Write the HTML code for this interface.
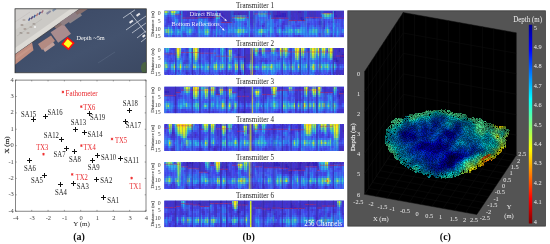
<!DOCTYPE html>
<html><head><meta charset="utf-8"><style>
html,body{margin:0;padding:0;background:#fff;width:550px;height:244px;overflow:hidden}
svg{display:block}
.ov{position:absolute;left:0;top:0}
.sp{position:absolute;width:179.7px;height:26.6px;overflow:hidden;filter:blur(0.3px)}
.cl{position:absolute;left:0;top:0;width:550px;height:244px;filter:blur(0.45px)}
.cl i{position:absolute;left:-1px;top:-1px;width:1px;height:1px;display:block}
.sp i{position:absolute;left:-1.5px;top:-2px;width:1px;height:1px;transform-origin:0 0;transform:scale(1.5,2);display:block}
</style></head><body>
<svg width="550" height="244" viewBox="0 0 550 244" font-family="'Liberation Serif', serif">
<rect width="550" height="244" fill="#fff"/>
<defs><clipPath id="phc"><rect x="15" y="8.8" width="131.3" height="64"/></clipPath><linearGradient id="wat" x1="0" y1="0" x2="1" y2="1"><stop offset="0" stop-color="#3a4763"/><stop offset="0.6" stop-color="#43526e"/><stop offset="1" stop-color="#3b4862"/></linearGradient></defs>
<g clip-path="url(#phc)">
<rect x="15" y="8.8" width="131.3" height="64" fill="url(#wat)"/>
<polygon points="15,8.8 80.1,8.8 15,54.6" fill="#cbc9c5"/>
<polygon points="15,8.8 50,8.8 15,30" fill="#d3d2cf" opacity="0.8"/>
<ellipse cx="22" cy="25" rx="1.6" ry="1.1" fill="#9a8f88" opacity="0.8"/>
<ellipse cx="25" cy="29" rx="1.6" ry="1.1" fill="#a0948c" opacity="0.8"/>
<ellipse cx="21" cy="33" rx="1.6" ry="1.1" fill="#8f8680" opacity="0.8"/>
<ellipse cx="28" cy="33" rx="1.6" ry="1.1" fill="#a69a92" opacity="0.8"/>
<ellipse cx="31" cy="27" rx="1.6" ry="1.1" fill="#b0a59e" opacity="0.8"/>
<ellipse cx="34" cy="24" rx="1.6" ry="1.1" fill="#998f8a" opacity="0.8"/>
<ellipse cx="24" cy="20" rx="1.6" ry="1.1" fill="#aaa19b" opacity="0.8"/>
<path d="M17 36L42 19" stroke="#b5b3ae" stroke-width="0.6"/>
<path d="M15 22L30 12" stroke="#bdbbb6" stroke-width="0.5"/>
<polygon points="15,53.6 78.7,8.8 70.8,8.8 15,48.1" fill="#dcdad5"/>
<path d="M15 54.6L80.1 8.8" stroke="#3c3c40" stroke-width="0.8"/>
<polygon points="54.2,27 80.1,8.8 88.1,8.8 57.2,29.5" fill="#87706e"/>
<polygon points="68,21 80,13 82,15.5 70,23.5" fill="#8c8488"/>
<polygon points="15,54.6 32,42.6 33.5,50.3 15,64.8" fill="#c08e80"/>
<polygon points="15,57.6 31,46.3 31.5,48.3 15,60.6" fill="#cc9d8e" opacity="0.6"/>
<polygon points="50.6,32.2 63.5,23.9 71,33.8 58.2,42.8" fill="#a98c8e"/>
<polygon points="38,44 51,35.5 55,41 42,50" fill="#b48b82"/>
<polygon points="43,49 53,42 55,45 45,52" fill="#c0a09a"/>
<polygon points="60,22 75,12 78,16 63,26" fill="#8f7f84"/>
<rect x="29.5" y="17.5" width="1.5" height="3.2" fill="#46578c" transform="rotate(30 29.5 17.5)"/>
<rect x="32.1" y="16.0" width="1.5" height="3.2" fill="#5a4a78" transform="rotate(30 32.1 16.0)"/>
<rect x="34.7" y="14.5" width="1.5" height="3.2" fill="#3d5a95" transform="rotate(30 34.7 14.5)"/>
<rect x="37.3" y="13.0" width="1.5" height="3.2" fill="#b07a7a" transform="rotate(30 37.3 13.0)"/>
<rect x="39.9" y="11.5" width="1.5" height="3.2" fill="#44558a" transform="rotate(30 39.9 11.5)"/>
<rect x="42.5" y="10.0" width="1.5" height="3.2" fill="#9a6a7a" transform="rotate(30 42.5 10.0)"/>
<rect x="46" y="13" width="5" height="2" fill="#8a8aa0" transform="rotate(-35 46 13)"/>
<rect x="52" y="10" width="4" height="2" fill="#7d8fa8" transform="rotate(-35 52 10)"/>
<circle cx="35" cy="27" r="1" fill="#f4f4f4"/>
<g stroke="#d8dce4" stroke-width="0.8" fill="none" opacity="0.9"><path d="M123 18L135 9.8M130.3 13.1L146 32.8M126 30L146 16M132 33L146 23M137 38L146 31M141 42L146 38"/></g>
<rect x="129" y="22" width="4" height="2" fill="#e8e8ec" transform="rotate(-35 129 22)"/>
<rect x="136" y="15" width="4" height="2" fill="#e8e8ec" transform="rotate(-35 136 15)"/>
<rect x="142" y="36" width="3" height="2" fill="#e8e8ec" transform="rotate(-35 142 36)"/>
<ellipse cx="145" cy="68" rx="4" ry="6" fill="#4d6a3c" opacity="0.8"/>
<path d="M98 63L115 52" stroke="#6a7892" stroke-width="0.6" opacity="0.6"/>
</g>
<rect x="15" y="8.8" width="131.3" height="64" fill="none" stroke="#1e1e1e" stroke-width="0.7"/>
<rect x="-4" y="-4" width="8" height="8" fill="#ffff1e" stroke="#ff0d0d" stroke-width="1.6" transform="translate(68 43.6) rotate(40)"/>
<rect x="15.4" y="80.1" width="130.6" height="131.1" fill="none" stroke="#5e5e5e" stroke-width="0.75"/>
<text x="13.8" y="212.7" font-size="6.5" text-anchor="end" fill="#444" stroke="#444" stroke-width="0" >-4</text>
<text x="15.8" y="219.9" font-size="6.5" text-anchor="middle" fill="#444" stroke="#444" stroke-width="0" >-4</text>
<text x="13.8" y="196.3" font-size="6.5" text-anchor="end" fill="#444" stroke="#444" stroke-width="0" >-3</text>
<text x="32.1" y="219.9" font-size="6.5" text-anchor="middle" fill="#444" stroke="#444" stroke-width="0" >-3</text>
<text x="13.8" y="179.9" font-size="6.5" text-anchor="end" fill="#444" stroke="#444" stroke-width="0" >-2</text>
<text x="48.4" y="219.9" font-size="6.5" text-anchor="middle" fill="#444" stroke="#444" stroke-width="0" >-2</text>
<text x="13.8" y="163.5" font-size="6.5" text-anchor="end" fill="#444" stroke="#444" stroke-width="0" >-1</text>
<text x="64.8" y="219.9" font-size="6.5" text-anchor="middle" fill="#444" stroke="#444" stroke-width="0" >-1</text>
<text x="13.8" y="147.1" font-size="6.5" text-anchor="end" fill="#444" stroke="#444" stroke-width="0" >0</text>
<text x="81.1" y="219.9" font-size="6.5" text-anchor="middle" fill="#444" stroke="#444" stroke-width="0" >0</text>
<text x="13.8" y="130.8" font-size="6.5" text-anchor="end" fill="#444" stroke="#444" stroke-width="0" >1</text>
<text x="97.4" y="219.9" font-size="6.5" text-anchor="middle" fill="#444" stroke="#444" stroke-width="0" >1</text>
<text x="13.8" y="114.4" font-size="6.5" text-anchor="end" fill="#444" stroke="#444" stroke-width="0" >2</text>
<text x="113.8" y="219.9" font-size="6.5" text-anchor="middle" fill="#444" stroke="#444" stroke-width="0" >2</text>
<text x="13.8" y="98.0" font-size="6.5" text-anchor="end" fill="#444" stroke="#444" stroke-width="0" >3</text>
<text x="130.1" y="219.9" font-size="6.5" text-anchor="middle" fill="#444" stroke="#444" stroke-width="0" >3</text>
<text x="13.8" y="81.6" font-size="6.5" text-anchor="end" fill="#444" stroke="#444" stroke-width="0" >4</text>
<text x="146.4" y="219.9" font-size="6.5" text-anchor="middle" fill="#444" stroke="#444" stroke-width="0" >4</text>
<path d="M15.40 211.2v-1.3M15.40 80.1v1.3M15.4 211.20h1.3M146.0 211.20h-1.3M31.73 211.2v-1.3M31.73 80.1v1.3M15.4 194.81h1.3M146.0 194.81h-1.3M48.05 211.2v-1.3M48.05 80.1v1.3M15.4 178.42h1.3M146.0 178.42h-1.3M64.38 211.2v-1.3M64.38 80.1v1.3M15.4 162.04h1.3M146.0 162.04h-1.3M80.70 211.2v-1.3M80.70 80.1v1.3M15.4 145.65h1.3M146.0 145.65h-1.3M97.03 211.2v-1.3M97.03 80.1v1.3M15.4 129.26h1.3M146.0 129.26h-1.3M113.35 211.2v-1.3M113.35 80.1v1.3M15.4 112.88h1.3M146.0 112.88h-1.3M129.67 211.2v-1.3M129.67 80.1v1.3M15.4 96.49h1.3M146.0 96.49h-1.3M146.00 211.2v-1.3M146.00 80.1v1.3M15.4 80.10h1.3M146.0 80.10h-1.3" stroke="#5e5e5e" stroke-width="0.6" fill="none"/>
<text x="81.5" y="225.5" font-size="7" text-anchor="middle" fill="#222" stroke="#222" stroke-width="0" >Y (m)</text>
<text transform="translate(9,145) rotate(-90)" font-size="7" text-anchor="middle" fill="#222" stroke="#222" stroke-width="0.18">X (m)</text>
<text x="79.0" y="239.5" font-size="10" text-anchor="middle" fill="#111" stroke="#111" stroke-width="0" font-weight="bold">(a)</text>
<text x="107.2" y="203.0" font-size="7.3" text-anchor="start" fill="#1a1a1a" stroke="#1a1a1a" stroke-width="0" textLength="12.0" lengthAdjust="spacingAndGlyphs">SA1</text>
<text x="100.3" y="183.4" font-size="7.3" text-anchor="start" fill="#1a1a1a" stroke="#1a1a1a" stroke-width="0" textLength="12.0" lengthAdjust="spacingAndGlyphs">SA2</text>
<text x="76.8" y="188.5" font-size="7.3" text-anchor="start" fill="#1a1a1a" stroke="#1a1a1a" stroke-width="0" textLength="12.0" lengthAdjust="spacingAndGlyphs">SA3</text>
<text x="61.0" y="194.5" font-size="7.3" text-anchor="middle" fill="#1a1a1a" stroke="#1a1a1a" stroke-width="0" textLength="12.0" lengthAdjust="spacingAndGlyphs">SA4</text>
<text x="37.0" y="182.5" font-size="7.3" text-anchor="middle" fill="#1a1a1a" stroke="#1a1a1a" stroke-width="0" textLength="12.0" lengthAdjust="spacingAndGlyphs">SA5</text>
<text x="30.0" y="171.2" font-size="7.3" text-anchor="middle" fill="#1a1a1a" stroke="#1a1a1a" stroke-width="0" textLength="12.0" lengthAdjust="spacingAndGlyphs">SA6</text>
<text x="59.6" y="156.5" font-size="7.3" text-anchor="middle" fill="#1a1a1a" stroke="#1a1a1a" stroke-width="0" textLength="12.0" lengthAdjust="spacingAndGlyphs">SA7</text>
<text x="75.0" y="161.8" font-size="7.3" text-anchor="middle" fill="#1a1a1a" stroke="#1a1a1a" stroke-width="0" textLength="12.0" lengthAdjust="spacingAndGlyphs">SA8</text>
<text x="93.7" y="170.2" font-size="7.3" text-anchor="middle" fill="#1a1a1a" stroke="#1a1a1a" stroke-width="0" textLength="12.0" lengthAdjust="spacingAndGlyphs">SA9</text>
<text x="100.9" y="159.8" font-size="7.3" text-anchor="start" fill="#1a1a1a" stroke="#1a1a1a" stroke-width="0" textLength="15.2" lengthAdjust="spacingAndGlyphs">SA10</text>
<text x="123.9" y="162.5" font-size="7.3" text-anchor="start" fill="#1a1a1a" stroke="#1a1a1a" stroke-width="0" textLength="15.2" lengthAdjust="spacingAndGlyphs">SA11</text>
<text x="51.3" y="138.2" font-size="7.3" text-anchor="middle" fill="#1a1a1a" stroke="#1a1a1a" stroke-width="0" textLength="15.2" lengthAdjust="spacingAndGlyphs">SA12</text>
<text x="78.4" y="125.1" font-size="7.3" text-anchor="middle" fill="#1a1a1a" stroke="#1a1a1a" stroke-width="0" textLength="15.2" lengthAdjust="spacingAndGlyphs">SA13</text>
<text x="87.5" y="137.3" font-size="7.3" text-anchor="start" fill="#1a1a1a" stroke="#1a1a1a" stroke-width="0" textLength="15.2" lengthAdjust="spacingAndGlyphs">SA14</text>
<text x="28.6" y="116.9" font-size="7.3" text-anchor="middle" fill="#1a1a1a" stroke="#1a1a1a" stroke-width="0" textLength="15.2" lengthAdjust="spacingAndGlyphs">SA15</text>
<text x="47.5" y="114.8" font-size="7.3" text-anchor="start" fill="#1a1a1a" stroke="#1a1a1a" stroke-width="0" textLength="15.2" lengthAdjust="spacingAndGlyphs">SA16</text>
<text x="125.8" y="128.3" font-size="7.3" text-anchor="start" fill="#1a1a1a" stroke="#1a1a1a" stroke-width="0" textLength="15.2" lengthAdjust="spacingAndGlyphs">SA17</text>
<text x="130.3" y="105.8" font-size="7.3" text-anchor="middle" fill="#1a1a1a" stroke="#1a1a1a" stroke-width="0" textLength="15.2" lengthAdjust="spacingAndGlyphs">SA18</text>
<text x="90.0" y="119.6" font-size="7.3" text-anchor="start" fill="#1a1a1a" stroke="#1a1a1a" stroke-width="0" textLength="15.2" lengthAdjust="spacingAndGlyphs">SA19</text>
<path d="M101.0 197.5h5M103.5 195.0v5M94.0 179.5h5M96.5 177.0v5M71.0 183.5h5M73.5 181.0v5M58.0 184.5h5M60.5 182.0v5M42.0 175.5h5M44.5 173.0v5M27.0 160.5h5M29.5 158.0v5M64.0 148.5h5M66.5 146.0v5M72.0 151.5h5M74.5 149.0v5M90.0 160.5h5M92.5 158.0v5M95.0 155.5h5M97.5 153.0v5M118.0 158.5h5M120.5 156.0v5M59.0 139.5h5M61.5 137.0v5M73.0 129.5h5M75.5 127.0v5M82.0 132.5h5M84.5 130.0v5M31.0 119.5h5M33.5 117.0v5M43.0 116.5h5M45.5 114.0v5M123.0 121.5h5M125.5 119.0v5M127.0 110.5h5M129.5 108.0v5M87.0 113.5h5M89.5 111.0v5" stroke="#111" stroke-width="1.0" fill="none"/>
<text x="135.6" y="188.5" font-size="7.3" text-anchor="middle" fill="#e8262b" stroke="#e8262b" stroke-width="0" textLength="12.1" lengthAdjust="spacingAndGlyphs">TX1</text>
<text x="75.7" y="179.5" font-size="7.3" text-anchor="start" fill="#e8262b" stroke="#e8262b" stroke-width="0" textLength="12.1" lengthAdjust="spacingAndGlyphs">TX2</text>
<text x="42.3" y="149.8" font-size="7.3" text-anchor="middle" fill="#e8262b" stroke="#e8262b" stroke-width="0" textLength="12.1" lengthAdjust="spacingAndGlyphs">TX3</text>
<text x="83.6" y="149.8" font-size="7.3" text-anchor="start" fill="#e8262b" stroke="#e8262b" stroke-width="0" textLength="12.1" lengthAdjust="spacingAndGlyphs">TX4</text>
<text x="115.0" y="142.5" font-size="7.3" text-anchor="start" fill="#e8262b" stroke="#e8262b" stroke-width="0" textLength="12.1" lengthAdjust="spacingAndGlyphs">TX5</text>
<text x="83.2" y="109.8" font-size="7.3" text-anchor="start" fill="#e8262b" stroke="#e8262b" stroke-width="0" textLength="12.1" lengthAdjust="spacingAndGlyphs">TX6</text>
<text x="65.6" y="95.6" font-size="7.3" text-anchor="start" fill="#e8262b" stroke="#e8262b" stroke-width="0" textLength="32.1" lengthAdjust="spacingAndGlyphs">Fathometer</text>
<path d="M131.60 176.80L131.60 179.40M132.73 177.45L130.47 178.75M132.73 178.75L130.47 177.45M72.20 173.10L72.20 175.70M73.33 173.75L71.07 175.05M73.33 175.05L71.07 173.75M43.50 152.90L43.50 155.50M44.63 153.55L42.37 154.85M44.63 154.85L42.37 153.55M81.40 144.30L81.40 146.90M82.53 144.95L80.27 146.25M82.53 146.25L80.27 144.95M112.00 137.70L112.00 140.30M113.13 138.35L110.87 139.65M113.13 139.65L110.87 138.35M81.30 105.30L81.30 107.90M82.43 105.95L80.17 107.25M82.43 107.25L80.17 105.95M62.90 90.70L62.90 93.30M64.03 91.35L61.77 92.65M64.03 92.65L61.77 91.35" stroke="#ee2a2a" stroke-width="0.9" fill="none"/>
<text x="76.4" y="40.4" font-size="6.8" text-anchor="start" fill="#f4f4f4" stroke="#f4f4f4" stroke-width="0" textLength="28.3" lengthAdjust="spacingAndGlyphs">Depth ~5m</text>
<rect x="164.3" y="10.6" width="179.7" height="26.6" fill="#2b3fd6"/>
<text x="255.0" y="8.2" font-size="7.4" text-anchor="middle" fill="#1a1a1a" stroke="#1a1a1a" stroke-width="0" textLength="38" lengthAdjust="spacingAndGlyphs">Transmitter 1</text>
<text x="160.6" y="15.0" font-size="5.8" text-anchor="end" fill="#444" stroke="#444" stroke-width="0" >0</text>
<text x="160.6" y="22.5" font-size="5.8" text-anchor="end" fill="#444" stroke="#444" stroke-width="0" >5</text>
<text x="160.6" y="30.5" font-size="5.8" text-anchor="end" fill="#444" stroke="#444" stroke-width="0" >10</text>
<text x="160.6" y="38.1" font-size="5.8" text-anchor="end" fill="#444" stroke="#444" stroke-width="0" >15</text>
<text transform="translate(154.4,23.9) rotate(-90)" font-size="4.95" text-anchor="middle" fill="#444" stroke="#444" stroke-width="0.1">Distance (m)</text>
<rect x="164.3" y="48.0" width="179.7" height="26.6" fill="#2b3fd6"/>
<text x="255.0" y="45.6" font-size="7.4" text-anchor="middle" fill="#1a1a1a" stroke="#1a1a1a" stroke-width="0" textLength="38" lengthAdjust="spacingAndGlyphs">Transmitter 2</text>
<text x="160.6" y="52.4" font-size="5.8" text-anchor="end" fill="#444" stroke="#444" stroke-width="0" >0</text>
<text x="160.6" y="59.9" font-size="5.8" text-anchor="end" fill="#444" stroke="#444" stroke-width="0" >5</text>
<text x="160.6" y="67.9" font-size="5.8" text-anchor="end" fill="#444" stroke="#444" stroke-width="0" >10</text>
<text x="160.6" y="75.5" font-size="5.8" text-anchor="end" fill="#444" stroke="#444" stroke-width="0" >15</text>
<text transform="translate(154.4,61.3) rotate(-90)" font-size="4.95" text-anchor="middle" fill="#444" stroke="#444" stroke-width="0.1">Distance (m)</text>
<rect x="164.3" y="86.6" width="179.7" height="26.6" fill="#2b3fd6"/>
<text x="255.0" y="84.2" font-size="7.4" text-anchor="middle" fill="#1a1a1a" stroke="#1a1a1a" stroke-width="0" textLength="38" lengthAdjust="spacingAndGlyphs">Transmitter 3</text>
<text x="160.6" y="91.0" font-size="5.8" text-anchor="end" fill="#444" stroke="#444" stroke-width="0" >0</text>
<text x="160.6" y="98.5" font-size="5.8" text-anchor="end" fill="#444" stroke="#444" stroke-width="0" >5</text>
<text x="160.6" y="106.5" font-size="5.8" text-anchor="end" fill="#444" stroke="#444" stroke-width="0" >10</text>
<text x="160.6" y="114.1" font-size="5.8" text-anchor="end" fill="#444" stroke="#444" stroke-width="0" >15</text>
<text transform="translate(154.4,99.89999999999999) rotate(-90)" font-size="4.95" text-anchor="middle" fill="#444" stroke="#444" stroke-width="0.1">Distance (m)</text>
<rect x="164.3" y="124.3" width="179.7" height="26.6" fill="#2b3fd6"/>
<text x="255.0" y="121.9" font-size="7.4" text-anchor="middle" fill="#1a1a1a" stroke="#1a1a1a" stroke-width="0" textLength="38" lengthAdjust="spacingAndGlyphs">Transmitter 4</text>
<text x="160.6" y="128.7" font-size="5.8" text-anchor="end" fill="#444" stroke="#444" stroke-width="0" >0</text>
<text x="160.6" y="136.2" font-size="5.8" text-anchor="end" fill="#444" stroke="#444" stroke-width="0" >5</text>
<text x="160.6" y="144.2" font-size="5.8" text-anchor="end" fill="#444" stroke="#444" stroke-width="0" >10</text>
<text x="160.6" y="151.8" font-size="5.8" text-anchor="end" fill="#444" stroke="#444" stroke-width="0" >15</text>
<text transform="translate(154.4,137.6) rotate(-90)" font-size="4.95" text-anchor="middle" fill="#444" stroke="#444" stroke-width="0.1">Distance (m)</text>
<rect x="164.3" y="162.3" width="179.7" height="26.6" fill="#2b3fd6"/>
<text x="255.0" y="159.9" font-size="7.4" text-anchor="middle" fill="#1a1a1a" stroke="#1a1a1a" stroke-width="0" textLength="38" lengthAdjust="spacingAndGlyphs">Transmitter 5</text>
<text x="160.6" y="166.7" font-size="5.8" text-anchor="end" fill="#444" stroke="#444" stroke-width="0" >0</text>
<text x="160.6" y="174.2" font-size="5.8" text-anchor="end" fill="#444" stroke="#444" stroke-width="0" >5</text>
<text x="160.6" y="182.2" font-size="5.8" text-anchor="end" fill="#444" stroke="#444" stroke-width="0" >10</text>
<text x="160.6" y="189.8" font-size="5.8" text-anchor="end" fill="#444" stroke="#444" stroke-width="0" >15</text>
<text transform="translate(154.4,175.60000000000002) rotate(-90)" font-size="4.95" text-anchor="middle" fill="#444" stroke="#444" stroke-width="0.1">Distance (m)</text>
<rect x="164.3" y="200.5" width="179.7" height="26.6" fill="#2b3fd6"/>
<text x="255.0" y="198.1" font-size="7.4" text-anchor="middle" fill="#1a1a1a" stroke="#1a1a1a" stroke-width="0" textLength="38" lengthAdjust="spacingAndGlyphs">Transmitter 6</text>
<text x="160.6" y="204.9" font-size="5.8" text-anchor="end" fill="#444" stroke="#444" stroke-width="0" >0</text>
<text x="160.6" y="212.4" font-size="5.8" text-anchor="end" fill="#444" stroke="#444" stroke-width="0" >5</text>
<text x="160.6" y="220.4" font-size="5.8" text-anchor="end" fill="#444" stroke="#444" stroke-width="0" >10</text>
<text x="160.6" y="228.0" font-size="5.8" text-anchor="end" fill="#444" stroke="#444" stroke-width="0" >15</text>
<text transform="translate(154.4,213.8) rotate(-90)" font-size="4.95" text-anchor="middle" fill="#444" stroke="#444" stroke-width="0.1">Distance (m)</text>
<text x="248.7" y="239.5" font-size="10" text-anchor="middle" fill="#111" stroke="#111" stroke-width="0" font-weight="bold">(b)</text>
<rect x="347.8" y="10.8" width="197.6" height="215.3" fill="#545454" stroke="#3a3a3a" stroke-width="0.8"/>
<polygon points="403.2,12.5 516.3,32.8 516.3,155.3 476.8,214.5 364.6,194.3 364.6,71.5" fill="#000"/>
<path d="M364.6 71.5v122.8M403.2 12.5v122.8M368.5 65.6v122.8M414.5 14.5v122.8M372.3 59.7v122.8M425.8 16.6v122.8M376.2 53.8v122.8M437.1 18.6v122.8M380.0 47.9v122.8M448.4 20.6v122.8M383.9 42.0v122.8M459.7 22.6v122.8M387.8 36.1v122.8M471.1 24.7v122.8M391.6 30.2v122.8M482.4 26.7v122.8M395.5 24.3v122.8M493.7 28.7v122.8M399.3 18.4v122.8M505.0 30.8v122.8M403.2 12.5v122.8M516.3 32.8v122.8M364.6 71.5L403.2 12.5L516.3 32.8M364.6 92.0L403.2 33.0L516.3 53.3M364.6 112.4L403.2 53.4L516.3 73.7M364.6 132.9L403.2 73.9L516.3 94.2M364.6 153.4L403.2 94.4L516.3 114.7M364.6 173.8L403.2 114.8L516.3 135.1M364.6 194.3L403.2 135.3L516.3 155.6M364.6 194.3L476.8 214.5M403.2 135.3L364.6 194.3M368.5 188.4L480.8 208.6M414.5 137.3L375.8 196.3M372.3 182.5L484.7 202.7M425.8 139.3L387.0 198.3M376.2 176.6L488.6 196.7M437.1 141.3L398.3 200.4M380.0 170.7L492.6 190.8M448.4 143.3L409.5 202.4M383.9 164.8L496.5 184.9M459.7 145.3L420.7 204.4M387.8 158.9L500.5 179.0M471.1 147.3L431.9 206.4M391.6 153.0L504.4 173.1M482.4 149.3L443.1 208.4M395.5 147.1L508.4 167.1M493.7 151.3L454.4 210.5M399.3 141.2L512.3 161.2M505.0 153.3L465.6 212.5M403.2 135.3L516.3 155.3M516.3 155.3L476.8 214.5" stroke="#111111" stroke-width="0.5" fill="none"/>
<text x="527.6" y="22.4" font-size="7.3" text-anchor="middle" fill="#f0f0f0" stroke="#f0f0f0" stroke-width="0" textLength="28.7" lengthAdjust="spacingAndGlyphs">Depth (m)</text>
<defs><linearGradient id="cb" x1="0" y1="0" x2="0" y2="1"><stop offset="0" stop-color="#00008f"/><stop offset="0.125" stop-color="#0000ff"/><stop offset="0.375" stop-color="#00ffff"/><stop offset="0.625" stop-color="#ffff00"/><stop offset="0.875" stop-color="#ff0000"/><stop offset="1" stop-color="#800000"/></linearGradient></defs>
<rect x="528.8" y="24.7" width="3.4" height="198.8" fill="url(#cb)"/>
<text x="533.8" y="29.6" font-size="6.3" text-anchor="start" fill="#eee" stroke="#eee" stroke-width="0" >5</text>
<text x="533.8" y="49.0" font-size="6.3" text-anchor="start" fill="#eee" stroke="#eee" stroke-width="0" >4.9</text>
<text x="533.8" y="68.4" font-size="6.3" text-anchor="start" fill="#eee" stroke="#eee" stroke-width="0" >4.8</text>
<text x="533.8" y="87.8" font-size="6.3" text-anchor="start" fill="#eee" stroke="#eee" stroke-width="0" >4.7</text>
<text x="533.8" y="107.2" font-size="6.3" text-anchor="start" fill="#eee" stroke="#eee" stroke-width="0" >4.6</text>
<text x="533.8" y="126.6" font-size="6.3" text-anchor="start" fill="#eee" stroke="#eee" stroke-width="0" >4.5</text>
<text x="533.8" y="146.0" font-size="6.3" text-anchor="start" fill="#eee" stroke="#eee" stroke-width="0" >4.4</text>
<text x="533.8" y="165.4" font-size="6.3" text-anchor="start" fill="#eee" stroke="#eee" stroke-width="0" >4.3</text>
<text x="533.8" y="184.8" font-size="6.3" text-anchor="start" fill="#eee" stroke="#eee" stroke-width="0" >4.2</text>
<text x="533.8" y="204.2" font-size="6.3" text-anchor="start" fill="#eee" stroke="#eee" stroke-width="0" >4.1</text>
<text x="533.8" y="223.6" font-size="6.3" text-anchor="start" fill="#eee" stroke="#eee" stroke-width="0" >4</text>
<text x="358.5" y="76.3" font-size="6.3" text-anchor="middle" fill="#eee" stroke="#eee" stroke-width="0" >0</text>
<text x="358.5" y="96.3" font-size="6.3" text-anchor="middle" fill="#eee" stroke="#eee" stroke-width="0" >1</text>
<text x="358.5" y="116.4" font-size="6.3" text-anchor="middle" fill="#eee" stroke="#eee" stroke-width="0" >2</text>
<text x="358.5" y="136.4" font-size="6.3" text-anchor="middle" fill="#eee" stroke="#eee" stroke-width="0" >3</text>
<text x="358.5" y="156.4" font-size="6.3" text-anchor="middle" fill="#eee" stroke="#eee" stroke-width="0" >4</text>
<text x="358.5" y="176.4" font-size="6.3" text-anchor="middle" fill="#eee" stroke="#eee" stroke-width="0" >5</text>
<text x="358.5" y="196.5" font-size="6.3" text-anchor="middle" fill="#eee" stroke="#eee" stroke-width="0" >6</text>
<text transform="translate(355.1,137.3) rotate(-90)" font-size="6.8" text-anchor="middle" fill="#eee" stroke="#eee" stroke-width="0.15">Depth (m)</text>
<text x="358.3" y="204.4" font-size="6.3" text-anchor="middle" fill="#eee" stroke="#eee" stroke-width="0" >-2.5</text>
<text x="371.1" y="206.4" font-size="6.3" text-anchor="middle" fill="#eee" stroke="#eee" stroke-width="0" >-2</text>
<text x="382.5" y="208.8" font-size="6.3" text-anchor="middle" fill="#eee" stroke="#eee" stroke-width="0" >-1.5</text>
<text x="392.2" y="211.2" font-size="6.3" text-anchor="middle" fill="#eee" stroke="#eee" stroke-width="0" >-1</text>
<text x="405.0" y="213.1" font-size="6.3" text-anchor="middle" fill="#eee" stroke="#eee" stroke-width="0" >-0.5</text>
<text x="417.1" y="215.6" font-size="6.3" text-anchor="middle" fill="#eee" stroke="#eee" stroke-width="0" >0</text>
<text x="429.2" y="218.0" font-size="6.3" text-anchor="middle" fill="#eee" stroke="#eee" stroke-width="0" >0.5</text>
<text x="440.6" y="219.2" font-size="6.3" text-anchor="middle" fill="#eee" stroke="#eee" stroke-width="0" >1</text>
<text x="453.7" y="220.5" font-size="6.3" text-anchor="middle" fill="#eee" stroke="#eee" stroke-width="0" >1.5</text>
<text x="464.5" y="222.0" font-size="6.3" text-anchor="middle" fill="#eee" stroke="#eee" stroke-width="0" >2</text>
<text x="474.0" y="222.4" font-size="6.3" text-anchor="middle" fill="#eee" stroke="#eee" stroke-width="0" >2.5</text>
<text x="380.8" y="220.6" font-size="6.5" text-anchor="middle" fill="#eee" stroke="#eee" stroke-width="0" >X (m)</text>
<text x="522.3" y="156.1" font-size="6.3" text-anchor="middle" fill="#eee" stroke="#eee" stroke-width="0" >2.5</text>
<text x="518.5" y="162.5" font-size="6.3" text-anchor="middle" fill="#eee" stroke="#eee" stroke-width="0" >2</text>
<text x="514.8" y="168.9" font-size="6.3" text-anchor="middle" fill="#eee" stroke="#eee" stroke-width="0" >1.5</text>
<text x="511.0" y="175.3" font-size="6.3" text-anchor="middle" fill="#eee" stroke="#eee" stroke-width="0" >1</text>
<text x="507.3" y="181.7" font-size="6.3" text-anchor="middle" fill="#eee" stroke="#eee" stroke-width="0" >0.5</text>
<text x="503.5" y="188.0" font-size="6.3" text-anchor="middle" fill="#eee" stroke="#eee" stroke-width="0" >0</text>
<text x="499.8" y="194.4" font-size="6.3" text-anchor="middle" fill="#eee" stroke="#eee" stroke-width="0" >-0.5</text>
<text x="496.0" y="200.8" font-size="6.3" text-anchor="middle" fill="#eee" stroke="#eee" stroke-width="0" >-1</text>
<text x="492.3" y="207.2" font-size="6.3" text-anchor="middle" fill="#eee" stroke="#eee" stroke-width="0" >-1.5</text>
<text x="488.5" y="213.6" font-size="6.3" text-anchor="middle" fill="#eee" stroke="#eee" stroke-width="0" >-2</text>
<text x="484.8" y="220.0" font-size="6.3" text-anchor="middle" fill="#eee" stroke="#eee" stroke-width="0" >-2.5</text>
<text x="509.0" y="209.3" font-size="6.5" text-anchor="middle" fill="#eee" stroke="#eee" stroke-width="0" >Y</text>
<text x="509.0" y="218.1" font-size="6.5" text-anchor="middle" fill="#eee" stroke="#eee" stroke-width="0" >(m)</text>
<text x="445.4" y="239.5" font-size="10" text-anchor="middle" fill="#111" stroke="#111" stroke-width="0" font-weight="bold">(c)</text>
</svg>
<div class="sp" style="left:164.3px;top:10.6px"><i style="box-shadow:1px 1px #ad5,2px 1px #ad4,3px 1px #5ab,4px 1px #47d,5px 1px #9d5,6px 1px #ce3,7px 1px #ce3,8px 1px #6c9,9px 1px #3ad,10px 1px #3ae,11px 1px #43c,12px 1px #38d,13px 1px #43b,14px 1px #43c,15px 1px #43c,16px 1px #43b,17px 1px #43b,18px 1px #43b,19px 1px #42b,20px 1px #42b,21px 1px #42b,22px 1px #42b,23px 1px #35c,24px 1px #35c,25px 1px #42b,26px 1px #43b,27px 1px #42b,28px 1px #32b,29px 1px #43b,30px 1px #43b,31px 1px #43c,32px 1px #43c,33px 1px #43c,34px 1px #43b,35px 1px #38d,36px 1px #32b,37px 1px #32b,38px 1px #43b,39px 1px #43b,40px 1px #43b,41px 1px #43b,42px 1px #43b,43px 1px #43b,44px 1px #43b,45px 1px #35c,46px 1px #35c,47px 1px #43b,48px 1px #43b,49px 1px #43b,50px 1px #43b,51px 1px #43b,52px 1px #43b,53px 1px #43b,54px 1px #43c,55px 1px #43b,56px 1px #43b,57px 1px #38d,58px 1px #43c,59px 1px #43c,60px 1px #46c,61px 1px #35c,62px 1px #44d,63px 1px #46d,64px 1px #47d,65px 1px #47d,66px 1px #47d,67px 1px #36d,68px 1px #38d,69px 1px #36d,70px 1px #43c,71px 1px #35c,72px 1px #35c,73px 1px #43b,74px 1px #43b,75px 1px #43b,76px 1px #42b,77px 1px #42b,78px 1px #43b,79px 1px #43b,80px 1px #43b,81px 1px #43b,82px 1px #43b,83px 1px #35c,84px 1px #35c,85px 1px #43b,86px 1px #43b,87px 1px #43b,88px 1px #43b,89px 1px #43b,90px 1px #42b,91px 1px #42b,92px 1px #43b,93px 1px #43b,94px 1px #35c,95px 1px #35c,96px 1px #43c,97px 1px #43b,98px 1px #43b,99px 1px #43b,100px 1px #43b,101px 1px #43b,102px 1px #43c,103px 1px #43c,104px 1px #43c,105px 1px #35c,106px 1px #35c,107px 1px #43c,108px 1px #43c,109px 1px #43c,110px 1px #43c,111px 1px #43c,112px 1px #43b,113px 1px #38c,114px 1px #32b,115px 1px #43b,116px 1px #43b,117px 1px #43b,118px 1px #43b,119px 1px #43b,120px 1px #43b,1px 2px #4bc,2px 2px #4bc,3px 2px #46e,4px 2px #46e,5px 2px #4bc,6px 2px #6c9,7px 2px #6c9,8px 2px #39d,9px 2px #38e,10px 2px #37e,11px 2px #43b,12px 2px #38d,13px 2px #43c,14px 2px #43c,15px 2px #43c,16px 2px #43b,17px 2px #43b,18px 2px #42b,19px 2px #42b,20px 2px #43b,21px 2px #32b,22px 2px #32a,23px 2px #35b,24px 2px #35c,25px 2px #42b,26px 2px #42b,27px 2px #42b,28px 2px #32b,29px 2px #42b,30px 2px #32b,31px 2px #32b,32px 2px #42b,33px 2px #43b,34px 2px #42b,35px 2px #38c,36px 2px #32b,37px 2px #32b,38px 2px #42b,39px 2px #42b,40px 2px #43b,41px 2px #43b,42px 2px #43b,43px 2px #43b,44px 2px #43b,45px 2px #35c,46px 2px #35c,47px 2px #42b,48px 2px #43b,49px 2px #43b,50px 2px #42b,51px 2px #43b,52px 2px #43b,53px 2px #43b,54px 2px #43b,55px 2px #43b,56px 2px #43b,57px 2px #38d,58px 2px #43c,59px 2px #43c,60px 2px #46c,61px 2px #45d,62px 2px #46e,63px 2px #39e,64px 2px #3bd,65px 2px #3bc,66px 2px #3bc,67px 2px #3bd,68px 2px #3ad,69px 2px #37e,70px 2px #43d,71px 2px #36c,72px 2px #35c,73px 2px #43b,74px 2px #43b,75px 2px #43b,76px 2px #42b,77px 2px #42b,78px 2px #42b,79px 2px #32b,80px 2px #32b,81px 2px #32b,82px 2px #43b,83px 2px #35c,84px 2px #35c,85px 2px #43b,86px 2px #43b,87px 2px #43c,88px 2px #43c,89px 2px #43b,90px 2px #43b,91px 2px #43b,92px 2px #43b,93px 2px #43c,94px 2px #35c,95px 2px #35c,96px 2px #43c,97px 2px #43b,98px 2px #43b,99px 2px #43b,100px 2px #43b,101px 2px #43b,102px 2px #43c,103px 2px #43c,104px 2px #43c,105px 2px #46d,106px 2px #3ad,107px 2px #6c9,108px 2px #7c8,109px 2px #8c7,110px 2px #7c7,111px 2px #5ca,112px 2px #39d,113px 2px #39e,114px 2px #42b,115px 2px #43b,116px 2px #43b,117px 2px #43b,118px 2px #43b,119px 2px #43b,120px 2px #43c,1px 3px #37e,2px 3px #46e,3px 3px #44d,4px 3px #45e,5px 3px #37e,6px 3px #38e,7px 3px #38e,8px 3px #45e,9px 3px #45e,10px 3px #44d,11px 3px #44d,12px 3px #38d,13px 3px #43c,14px 3px #43c,15px 3px #43b,16px 3px #43b,17px 3px #43b,18px 3px #43b,19px 3px #43b,20px 3px #43b,21px 3px #32b,22px 3px #32a,23px 3px #35c,24px 3px #35c,25px 3px #32b,26px 3px #32b,27px 3px #32b,28px 3px #32b,29px 3px #32b,30px 3px #32a,31px 3px #32a,32px 3px #32a,33px 3px #32b,34px 3px #44c,35px 3px #4bb,36px 3px #6aa,37px 3px #49c,38px 3px #44c,39px 3px #32b,40px 3px #42b,41px 3px #43b,42px 3px #43b,43px 3px #43b,44px 3px #43b,45px 3px #35c,46px 3px #36d,47px 3px #35d,48px 3px #47c,49px 3px #47b,50px 3px #57b,51px 3px #58b,52px 3px #57b,53px 3px #47c,54px 3px #47c,55px 3px #45d,56px 3px #43c,57px 3px #38d,58px 3px #43c,59px 3px #43c,60px 3px #35c,61px 3px #46d,62px 3px #46e,63px 3px #37e,64px 3px #39e,65px 3px #39e,66px 3px #39e,67px 3px #39e,68px 3px #39e,69px 3px #47d,70px 3px #44d,71px 3px #37e,72px 3px #35c,73px 3px #43b,74px 3px #42b,75px 3px #32b,76px 3px #32b,77px 3px #32b,78px 3px #32b,79px 3px #32b,80px 3px #32b,81px 3px #32b,82px 3px #43b,83px 3px #35c,84px 3px #35c,85px 3px #43c,86px 3px #43b,87px 3px #43c,88px 3px #43c,89px 3px #43c,90px 3px #43b,91px 3px #43b,92px 3px #43b,93px 3px #43c,94px 3px #35d,95px 3px #35c,96px 3px #43c,97px 3px #43c,98px 3px #43b,99px 3px #43b,100px 3px #43b,101px 3px #43b,102px 3px #43c,103px 3px #43c,104px 3px #43c,105px 3px #35c,106px 3px #39e,107px 3px #3bc,108px 3px #5ca,109px 3px #5ca,110px 3px #4ca,111px 3px #3bc,112px 3px #38e,113px 3px #39e,114px 3px #42b,115px 3px #42b,116px 3px #43b,117px 3px #43b,118px 3px #43b,119px 3px #43c,120px 3px #43c,1px 4px #46e,2px 4px #45d,3px 4px #43c,4px 4px #44d,5px 4px #45e,6px 4px #46e,7px 4px #47e,8px 4px #37e,9px 4px #45e,10px 4px #44d,11px 4px #44d,12px 4px #38d,13px 4px #44c,14px 4px #44c,15px 4px #43c,16px 4px #43c,17px 4px #43c,18px 4px #44c,19px 4px #44c,20px 4px #44c,21px 4px #43c,22px 4px #43c,23px 4px #36c,24px 4px #36d,25px 4px #35d,26px 4px #44c,27px 4px #44c,28px 4px #35d,29px 4px #45d,30px 4px #43c,31px 4px #32b,32px 4px #32b,33px 4px #43b,34px 4px #44d,35px 4px #3bd,36px 4px #3bc,37px 4px #39d,38px 4px #43c,39px 4px #32b,40px 4px #43b,41px 4px #43b,42px 4px #43b,43px 4px #43b,44px 4px #43b,45px 4px #35c,46px 4px #46d,47px 4px #38e,48px 4px #3bc,49px 4px #5ca,50px 4px #6c8,51px 4px #6c8,52px 4px #6c9,53px 4px #5ca,54px 4px #3bc,55px 4px #37e,56px 4px #45d,57px 4px #38d,58px 4px #43b,59px 4px #43b,60px 4px #35c,61px 4px #46d,62px 4px #37e,63px 4px #45e,64px 4px #37e,65px 4px #46e,66px 4px #46e,67px 4px #46e,68px 4px #37e,69px 4px #47e,70px 4px #44e,71px 4px #38e,72px 4px #36c,73px 4px #43c,74px 4px #43b,75px 4px #43b,76px 4px #43b,77px 4px #44c,78px 4px #44c,79px 4px #43c,80px 4px #43c,81px 4px #43c,82px 4px #43c,83px 4px #35c,84px 4px #35c,85px 4px #43b,86px 4px #43b,87px 4px #43b,88px 4px #43c,89px 4px #43c,90px 4px #43b,91px 4px #42b,92px 4px #32b,93px 4px #43b,94px 4px #35c,95px 4px #46d,96px 4px #44d,97px 4px #45d,98px 4px #45d,99px 4px #44d,100px 4px #43c,101px 4px #44c,102px 4px #45d,103px 4px #44d,104px 4px #44d,105px 4px #46c,106px 4px #47d,107px 4px #38e,108px 4px #39d,109px 4px #39e,110px 4px #39e,111px 4px #38e,112px 4px #46e,113px 4px #39e,114px 4px #43c,115px 4px #43c,116px 4px #43c,117px 4px #43c,118px 4px #43c,119px 4px #43c,120px 4px #43c,1px 5px #45e,2px 5px #44d,3px 5px #43c,4px 5px #44d,5px 5px #44d,6px 5px #46e,7px 5px #37e,8px 5px #39e,9px 5px #38e,10px 5px #45e,11px 5px #44d,12px 5px #38d,13px 5px #45e,14px 5px #46e,15px 5px #45e,16px 5px #44d,17px 5px #46e,18px 5px #46e,19px 5px #45e,20px 5px #46e,21px 5px #45e,22px 5px #45e,23px 5px #37e,24px 5px #38e,25px 5px #39e,26px 5px #37e,27px 5px #46e,28px 5px #38e,29px 5px #46e,30px 5px #44d,31px 5px #43c,32px 5px #43c,33px 5px #44d,34px 5px #45e,35px 5px #39e,36px 5px #37e,37px 5px #45e,38px 5px #44d,39px 5px #43b,40px 5px #43b,41px 5px #43b,42px 5px #43b,43px 5px #43b,44px 5px #43b,45px 5px #35c,46px 5px #35c,47px 5px #45d,48px 5px #38e,49px 5px #3ae,50px 5px #3ad,51px 5px #3ad,52px 5px #3ad,53px 5px #3ae,54px 5px #38e,55px 5px #46e,56px 5px #37e,57px 5px #38d,58px 5px #43c,59px 5px #43c,60px 5px #45c,61px 5px #46d,62px 5px #46e,63px 5px #45e,64px 5px #47e,65px 5px #37e,66px 5px #37e,67px 5px #46e,68px 5px #47d,69px 5px #47d,70px 5px #46e,71px 5px #38e,72px 5px #38e,73px 5px #46e,74px 5px #44d,75px 5px #44d,76px 5px #44e,77px 5px #37e,78px 5px #38e,79px 5px #45e,80px 5px #45e,81px 5px #44d,82px 5px #44d,83px 5px #45d,84px 5px #35c,85px 5px #43b,86px 5px #43b,87px 5px #43c,88px 5px #43c,89px 5px #43c,90px 5px #43b,91px 5px #43b,92px 5px #32b,93px 5px #32b,94px 5px #35c,95px 5px #47d,96px 5px #46e,97px 5px #46e,98px 5px #46e,99px 5px #46e,100px 5px #45e,101px 5px #45e,102px 5px #46e,103px 5px #45e,104px 5px #44d,105px 5px #46d,106px 5px #46d,107px 5px #44d,108px 5px #45e,109px 5px #46e,110px 5px #45e,111px 5px #46e,112px 5px #45e,113px 5px #39d,114px 5px #46e,115px 5px #44d,116px 5px #45e,117px 5px #45e,118px 5px #45e,119px 5px #44d,120px 5px #45e,1px 6px #46e,2px 6px #44d,3px 6px #43c,4px 6px #43d,5px 6px #44d,6px 6px #45e,7px 6px #46e,8px 6px #39e,9px 6px #38e,10px 6px #45e,11px 6px #44d,12px 6px #38d,13px 6px #45e,14px 6px #45e,15px 6px #44d,16px 6px #44e,17px 6px #46e,18px 6px #45e,19px 6px #44d,20px 6px #44d,21px 6px #44d,22px 6px #45e,23px 6px #38e,24px 6px #38e,25px 6px #38e,26px 6px #37e,27px 6px #38e,28px 6px #39e,29px 6px #37e,30px 6px #45e,31px 6px #44d,32px 6px #44d,33px 6px #45e,34px 6px #46e,35px 6px #39e,36px 6px #46e,37px 6px #45e,38px 6px #45d,39px 6px #43b,40px 6px #43b,41px 6px #43b,42px 6px #43b,43px 6px #43b,44px 6px #43b,45px 6px #35c,46px 6px #45d,47px 6px #44d,48px 6px #46e,49px 6px #37e,50px 6px #38e,51px 6px #37e,52px 6px #46e,53px 6px #46e,54px 6px #45e,55px 6px #45e,56px 6px #38e,57px 6px #38d,58px 6px #43c,59px 6px #43c,60px 6px #45c,61px 6px #46d,62px 6px #46e,63px 6px #44d,64px 6px #46e,65px 6px #38e,66px 6px #37e,67px 6px #45e,68px 6px #46d,69px 6px #37e,70px 6px #37e,71px 6px #38e,72px 6px #38e,73px 6px #46e,74px 6px #44d,75px 6px #45e,76px 6px #45e,77px 6px #37e,78px 6px #37e,79px 6px #44d,80px 6px #43d,81px 6px #44d,82px 6px #44d,83px 6px #46c,84px 6px #46d,85px 6px #46e,86px 6px #37e,87px 6px #37e,88px 6px #44d,89px 6px #45e,90px 6px #46e,91px 6px #46e,92px 6px #46e,93px 6px #45e,94px 6px #46d,95px 6px #47e,96px 6px #45e,97px 6px #45e,98px 6px #45e,99px 6px #46e,100px 6px #45e,101px 6px #44e,102px 6px #45e,103px 6px #44d,104px 6px #43c,105px 6px #35c,106px 6px #46d,107px 6px #43c,108px 6px #45e,109px 6px #46e,110px 6px #44d,111px 6px #45e,112px 6px #44d,113px 6px #38d,114px 6px #46e,115px 6px #44d,116px 6px #46e,117px 6px #45e,118px 6px #45e,119px 6px #44d,120px 6px #46e,1px 7px #45e,2px 7px #44d,3px 7px #44d,4px 7px #44d,5px 7px #45e,6px 7px #44d,7px 7px #44d,8px 7px #37e,9px 7px #46e,10px 7px #44d,11px 7px #44d,12px 7px #39d,13px 7px #46e,14px 7px #46e,15px 7px #44e,16px 7px #44e,17px 7px #45e,18px 7px #46e,19px 7px #45e,20px 7px #44d,21px 7px #44d,22px 7px #44d,23px 7px #38e,24px 7px #37e,25px 7px #46e,26px 7px #46e,27px 7px #39e,28px 7px #2ae,29px 7px #38e,30px 7px #46e,31px 7px #45e,32px 7px #44d,33px 7px #44e,34px 7px #44d,35px 7px #39d,36px 7px #45e,37px 7px #44d,38px 7px #46e,39px 7px #45e,40px 7px #45e,41px 7px #45d,42px 7px #44d,43px 7px #46e,44px 7px #45e,45px 7px #46e,46px 7px #46d,47px 7px #46e,48px 7px #37e,49px 7px #37e,50px 7px #38e,51px 7px #38e,52px 7px #46e,53px 7px #46e,54px 7px #44d,55px 7px #44d,56px 7px #38e,57px 7px #38d,58px 7px #43d,59px 7px #43c,60px 7px #46c,61px 7px #46d,62px 7px #45e,63px 7px #44d,64px 7px #46e,65px 7px #37e,66px 7px #45d,67px 7px #44d,68px 7px #46d,69px 7px #38e,70px 7px #38e,71px 7px #38e,72px 7px #38e,73px 7px #37e,74px 7px #45e,75px 7px #46e,76px 7px #45e,77px 7px #46e,78px 7px #46e,79px 7px #43c,80px 7px #43c,81px 7px #44d,82px 7px #44d,83px 7px #46d,84px 7px #46d,85px 7px #46e,86px 7px #46e,87px 7px #46e,88px 7px #45e,89px 7px #45e,90px 7px #45e,91px 7px #45e,92px 7px #46e,93px 7px #46e,94px 7px #46d,95px 7px #47d,96px 7px #44d,97px 7px #44d,98px 7px #45e,99px 7px #45e,100px 7px #45e,101px 7px #44d,102px 7px #45e,103px 7px #44d,104px 7px #43c,105px 7px #35c,106px 7px #45d,107px 7px #43c,108px 7px #45e,109px 7px #47e,110px 7px #45e,111px 7px #45e,112px 7px #45e,113px 7px #39e,114px 7px #37e,115px 7px #45e,116px 7px #37e,117px 7px #46e,118px 7px #45e,119px 7px #44d,120px 7px #46e,1px 8px #44d,2px 8px #44d,3px 8px #46e,4px 8px #45e,5px 8px #46e,6px 8px #44d,7px 8px #43d,8px 8px #46e,9px 8px #44e,10px 8px #43c,11px 8px #44d,12px 8px #39d,13px 8px #38e,14px 8px #37e,15px 8px #46e,16px 8px #46e,17px 8px #45e,18px 8px #46e,19px 8px #46e,20px 8px #45e,21px 8px #44d,22px 8px #44d,23px 8px #37e,24px 8px #37e,25px 8px #45e,26px 8px #46e,27px 8px #38e,28px 8px #39e,29px 8px #38e,30px 8px #46e,31px 8px #45e,32px 8px #44d,33px 8px #44d,34px 8px #43c,35px 8px #38d,36px 8px #45e,37px 8px #44d,38px 8px #45e,39px 8px #44e,40px 8px #45e,41px 8px #44d,42px 8px #44d,43px 8px #37e,44px 8px #46e,45px 8px #37e,46px 8px #46d,47px 8px #37e,48px 8px #46e,49px 8px #47e,50px 8px #38e,51px 8px #38e,52px 8px #46e,53px 8px #37e,54px 8px #45e,55px 8px #45e,56px 8px #38e,57px 8px #38d,58px 8px #44d,59px 8px #43d,60px 8px #46c,61px 8px #46e,62px 8px #45e,63px 8px #44d,64px 8px #45e,65px 8px #46e,66px 8px #43c,67px 8px #44d,68px 8px #46d,69px 8px #38e,70px 8px #37e,71px 8px #38e,72px 8px #38e,73px 8px #37e,74px 8px #45e,75px 8px #46e,76px 8px #44d,77px 8px #46e,78px 8px #45e,79px 8px #43c,80px 8px #44d,81px 8px #46e,82px 8px #46e,83px 8px #47d,84px 8px #47e,85px 8px #46e,86px 8px #45e,87px 8px #45e,88px 8px #45e,89px 8px #44d,90px 8px #44d,91px 8px #45e,92px 8px #37e,93px 8px #46e,94px 8px #46e,95px 8px #47e,96px 8px #44d,97px 8px #45e,98px 8px #46e,99px 8px #37e,100px 8px #46e,101px 8px #44d,102px 8px #46e,103px 8px #45e,104px 8px #44d,105px 8px #45d,106px 8px #46c,107px 8px #43c,108px 8px #46e,109px 8px #38e,110px 8px #46e,111px 8px #46e,112px 8px #45e,113px 8px #39e,114px 8px #38e,115px 8px #45e,116px 8px #46e,117px 8px #46e,118px 8px #45e,119px 8px #44d,120px 8px #45e,1px 9px #37e,2px 9px #46e,3px 9px #4ad,4px 9px #37e,5px 9px #38e,6px 9px #45e,7px 9px #44d,8px 9px #37e,9px 9px #46e,10px 9px #44d,11px 9px #45e,12px 9px #3ae,13px 9px #39e,14px 9px #38e,15px 9px #38e,16px 9px #38e,17px 9px #38e,18px 9px #38e,19px 9px #37e,20px 9px #46e,21px 9px #44d,22px 9px #44d,23px 9px #47d,24px 9px #38e,25px 9px #45e,26px 9px #46e,27px 9px #38e,28px 9px #39e,29px 9px #39e,30px 9px #37e,31px 9px #45e,32px 9px #43d,33px 9px #44d,34px 9px #43d,35px 9px #38d,36px 9px #46e,37px 9px #45e,38px 9px #46e,39px 9px #45e,40px 9px #45e,41px 9px #45e,42px 9px #44e,43px 9px #38e,44px 9px #37e,45px 9px #38e,46px 9px #47e,47px 9px #38e,48px 9px #37e,49px 9px #38e,50px 9px #3ad,51px 9px #3ae,52px 9px #38e,53px 9px #39e,54px 9px #37e,55px 9px #46e,56px 9px #37e,57px 9px #39e,58px 9px #45d,59px 9px #44d,60px 9px #46d,61px 9px #37e,62px 9px #46e,63px 9px #45e,64px 9px #46e,65px 9px #39e,66px 9px #45d,67px 9px #46e,68px 9px #46d,69px 9px #38e,70px 9px #37e,71px 9px #3ae,72px 9px #39e,73px 9px #37e,74px 9px #44d,75px 9px #45e,76px 9px #46e,77px 9px #38e,78px 9px #37e,79px 9px #43c,80px 9px #44d,81px 9px #37e,82px 9px #38e,83px 9px #38e,84px 9px #38e,85px 9px #38e,86px 9px #46e,87px 9px #45e,88px 9px #37e,89px 9px #46e,90px 9px #46e,91px 9px #38e,92px 9px #39e,93px 9px #38e,94px 9px #38e,95px 9px #38e,96px 9px #44e,97px 9px #37e,98px 9px #37e,99px 9px #38e,100px 9px #39e,101px 9px #46e,102px 9px #38e,103px 9px #46e,104px 9px #45e,105px 9px #46d,106px 9px #45d,107px 9px #43d,108px 9px #38e,109px 9px #3ad,110px 9px #37e,111px 9px #45e,112px 9px #44e,113px 9px #3ae,114px 9px #37e,115px 9px #46e,116px 9px #38e,117px 9px #46e,118px 9px #46e,119px 9px #45e,120px 9px #45e,1px 10px #4bc,2px 10px #6c9,3px 10px #8c7,4px 10px #3ad,5px 10px #4bc,6px 10px #38e,7px 10px #45e,8px 10px #38e,9px 10px #39e,10px 10px #39d,11px 10px #37e,12px 10px #3ae,13px 10px #38e,14px 10px #38e,15px 10px #38e,16px 10px #39e,17px 10px #4bc,18px 10px #4bb,19px 10px #38e,20px 10px #37e,21px 10px #45e,22px 10px #44d,23px 10px #38e,24px 10px #39e,25px 10px #47e,26px 10px #37e,27px 10px #3ae,28px 10px #4bb,29px 10px #6c9,30px 10px #3ad,31px 10px #46e,32px 10px #44d,33px 10px #46e,34px 10px #45e,35px 10px #39e,36px 10px #37e,37px 10px #47e,38px 10px #37e,39px 10px #46e,40px 10px #37e,41px 10px #37e,42px 10px #45e,43px 10px #38e,44px 10px #39e,45px 10px #39e,46px 10px #38e,47px 10px #39e,48px 10px #3ad,49px 10px #4bb,50px 10px #7d8,51px 10px #6c8,52px 10px #4bc,53px 10px #6c9,54px 10px #3ad,55px 10px #38e,56px 10px #38e,57px 10px #39e,58px 10px #46e,59px 10px #45e,60px 10px #47e,61px 10px #38e,62px 10px #37e,63px 10px #39e,64px 10px #4bc,65px 10px #7d8,66px 10px #4bb,67px 10px #39e,68px 10px #39e,69px 10px #3ae,70px 10px #38e,71px 10px #3bd,72px 10px #3ad,73px 10px #38e,74px 10px #45e,75px 10px #46e,76px 10px #38e,77px 10px #4bc,78px 10px #39e,79px 10px #44d,80px 10px #37e,81px 10px #37e,82px 10px #39d,83px 10px #39e,84px 10px #3bc,85px 10px #4cb,86px 10px #39e,87px 10px #37e,88px 10px #3bd,89px 10px #4ac,90px 10px #5bb,91px 10px #3ad,92px 10px #3ad,93px 10px #39e,94px 10px #39e,95px 10px #38e,96px 10px #45e,97px 10px #39e,98px 10px #39e,99px 10px #3ad,100px 10px #5ba,101px 10px #3ad,102px 10px #4bc,103px 10px #37e,104px 10px #46e,105px 10px #47e,106px 10px #46d,107px 10px #46e,108px 10px #3ad,109px 10px #7c8,110px 10px #3bd,111px 10px #46e,112px 10px #45e,113px 10px #39e,114px 10px #37e,115px 10px #46e,116px 10px #39e,117px 10px #46e,118px 10px #46e,119px 10px #38e,120px 10px #38e,1px 11px #4ac,2px 11px #7c8,3px 11px #8c7,4px 11px #3bd,5px 11px #5ca,6px 11px #3ae,7px 11px #46e,8px 11px #38e,9px 11px #3ad,10px 11px #4bc,11px 11px #39e,12px 11px #39e,13px 11px #46e,14px 11px #46e,15px 11px #39e,16px 11px #3ae,17px 11px #5ca,18px 11px #4bb,19px 11px #37e,20px 11px #46e,21px 11px #45e,22px 11px #44e,23px 11px #38e,24px 11px #3ae,25px 11px #38e,26px 11px #38e,27px 11px #3ae,28px 11px #6c9,29px 11px #8d6,30px 11px #5bb,31px 11px #45e,32px 11px #44d,33px 11px #37e,34px 11px #46e,35px 11px #39d,36px 11px #37e,37px 11px #38e,38px 11px #37e,39px 11px #46e,40px 11px #37e,41px 11px #37e,42px 11px #46e,43px 11px #39e,44px 11px #39e,45px 11px #38e,46px 11px #38e,47px 11px #39e,48px 11px #3ad,49px 11px #5cb,50px 11px #9d6,51px 11px #5ca,52px 11px #4bc,53px 11px #6c9,54px 11px #3ae,55px 11px #3ae,56px 11px #38e,57px 11px #39e,58px 11px #45e,59px 11px #45e,60px 11px #37d,61px 11px #38e,62px 11px #38e,63px 11px #3bc,64px 11px #6c9,65px 11px #8d7,66px 11px #5bb,67px 11px #3ae,68px 11px #3ae,69px 11px #39e,70px 11px #46e,71px 11px #3bd,72px 11px #3ad,73px 11px #38e,74px 11px #45e,75px 11px #46e,76px 11px #38e,77px 11px #4cb,78px 11px #39e,79px 11px #46e,80px 11px #39d,81px 11px #39e,82px 11px #4ac,83px 11px #3ad,84px 11px #3bd,85px 11px #3bc,86px 11px #3ad,87px 11px #37e,88px 11px #3ad,89px 11px #3bd,90px 11px #5ca,91px 11px #3bd,92px 11px #3ae,93px 11px #39e,94px 11px #39e,95px 11px #38e,96px 11px #46e,97px 11px #3ad,98px 11px #3ad,99px 11px #3bd,100px 11px #4bb,101px 11px #3ad,102px 11px #4bc,103px 11px #37e,104px 11px #46e,105px 11px #38e,106px 11px #46d,107px 11px #38e,108px 11px #39e,109px 11px #7c8,110px 11px #4bc,111px 11px #37e,112px 11px #46e,113px 11px #39d,114px 11px #37e,115px 11px #37e,116px 11px #3ae,117px 11px #37e,118px 11px #46e,119px 11px #48e,120px 11px #48d,1px 12px #37e,2px 12px #37e,3px 12px #5ab,4px 12px #38e,5px 12px #3ad,6px 12px #37e,7px 12px #46e,8px 12px #37e,9px 12px #39e,10px 12px #38e,11px 12px #38e,12px 12px #38e,13px 12px #44d,14px 12px #44d,15px 12px #46e,16px 12px #38e,17px 12px #39e,18px 12px #38e,19px 12px #45d,20px 12px #44d,21px 12px #44d,22px 12px #45d,23px 12px #47d,24px 12px #38e,25px 12px #37e,26px 12px #37e,27px 12px #39e,28px 12px #4bc,29px 12px #5cb,30px 12px #39e,31px 12px #45d,32px 12px #44d,33px 12px #46e,34px 12px #45e,35px 12px #39d,36px 12px #46e,37px 12px #37e,38px 12px #47e,39px 12px #46e,40px 12px #37e,41px 12px #46e,42px 12px #45e,43px 12px #37e,44px 12px #46e,45px 12px #46d,46px 12px #46d,47px 12px #46e,48px 12px #37e,49px 12px #39d,50px 12px #3ad,51px 12px #3ae,52px 12px #37e,53px 12px #38e,54px 12px #46e,55px 12px #45e,56px 12px #45e,57px 12px #39d,58px 12px #44d,59px 12px #44d,60px 12px #46d,61px 12px #47e,62px 12px #37e,63px 12px #39e,64px 12px #39e,65px 12px #3bc,66px 12px #46d,67px 12px #46e,68px 12px #47e,69px 12px #38e,70px 12px #45e,71px 12px #39e,72px 12px #37e,73px 12px #46e,74px 12px #45e,75px 12px #44d,76px 12px #45d,77px 12px #38e,78px 12px #37e,79px 12px #44d,80px 12px #37e,81px 12px #37e,82px 12px #37e,83px 12px #38e,84px 12px #38e,85px 12px #39e,86px 12px #46e,87px 12px #45d,88px 12px #38e,89px 12px #38e,90px 12px #37e,91px 12px #38e,92px 12px #38e,93px 12px #38e,94px 12px #38e,95px 12px #38e,96px 12px #37e,97px 12px #39e,98px 12px #38e,99px 12px #39e,100px 12px #39e,101px 12px #38e,102px 12px #3ae,103px 12px #45e,104px 12px #44d,105px 12px #47d,106px 12px #46d,107px 12px #46e,108px 12px #38e,109px 12px #49d,110px 12px #39e,111px 12px #45e,112px 12px #44d,113px 12px #39e,114px 12px #45e,115px 12px #37e,116px 12px #39e,117px 12px #46e,118px 12px #45e,119px 12px #45d,120px 12px #45e,1px 13px #45e,2px 13px #45e,3px 13px #37e,4px 13px #46e,5px 13px #37e,6px 13px #44d,7px 13px #44d,8px 13px #45e,9px 13px #46e,10px 13px #45e,11px 13px #45e,12px 13px #38d,13px 13px #44d,14px 13px #44d,15px 13px #44d,16px 13px #46e,17px 13px #45e,18px 13px #45e,19px 13px #44d,20px 13px #44d,21px 13px #44d,22px 13px #44d,23px 13px #46d,24px 13px #47e,25px 13px #45e,26px 13px #46e,27px 13px #46e,28px 13px #37e,29px 13px #38e,30px 13px #46e,31px 13px #44d,32px 13px #44d,33px 13px #46e,34px 13px #44d,35px 13px #38d,36px 13px #44d,37px 13px #45e,38px 13px #44d,39px 13px #45e,40px 13px #46e,41px 13px #45e,42px 13px #44d,43px 13px #45e,44px 13px #45d,45px 13px #35d,46px 13px #46d,47px 13px #45e,48px 13px #46e,49px 13px #46e,50px 13px #38e,51px 13px #46e,52px 13px #44d,53px 13px #46e,54px 13px #44d,55px 13px #44d,56px 13px #44d,57px 13px #38d,58px 13px #43c,59px 13px #43c,60px 13px #45d,61px 13px #46e,62px 13px #46e,63px 13px #46e,64px 13px #46e,65px 13px #38e,66px 13px #44c,67px 13px #44d,68px 13px #46d,69px 13px #47e,70px 13px #45e,71px 13px #38e,72px 13px #46d,73px 13px #45e,74px 13px #45e,75px 13px #43d,76px 13px #43c,77px 13px #45e,78px 13px #45e,79px 13px #43d,80px 13px #45e,81px 13px #45e,82px 13px #44d,83px 13px #46d,84px 13px #46e,85px 13px #46e,86px 13px #45e,87px 13px #43d,88px 13px #44d,89px 13px #44d,90px 13px #43c,91px 13px #44d,92px 13px #45e,93px 13px #45e,94px 13px #37e,95px 13px #37e,96px 13px #46e,97px 13px #37e,98px 13px #46e,99px 13px #46e,100px 13px #46e,101px 13px #45e,102px 13px #38e,103px 13px #45e,104px 13px #44d,105px 13px #46d,106px 13px #46d,107px 13px #45e,108px 13px #37e,109px 13px #45e,110px 13px #46e,111px 13px #44d,112px 13px #43c,113px 13px #38d,114px 13px #44d,115px 13px #46e,116px 13px #37e,117px 13px #45e,118px 13px #44d,119px 13px #43c,120px 13px #44d,1px 14px #45e,2px 14px #45e,3px 14px #46e,4px 14px #46e,5px 14px #46e,6px 14px #44d,7px 14px #43c,8px 14px #44d,9px 14px #44e,10px 14px #44d,11px 14px #44d,12px 14px #38d,13px 14px #44d,14px 14px #44d,15px 14px #44d,16px 14px #45e,17px 14px #44d,18px 14px #44d,19px 14px #44e,20px 14px #44e,21px 14px #44d,22px 14px #44d,23px 14px #45d,24px 14px #46d,25px 14px #45e,26px 14px #45e,27px 14px #44e,28px 14px #45e,29px 14px #46e,30px 14px #45e,31px 14px #45e,32px 14px #45d,33px 14px #37e,34px 14px #44d,35px 14px #38d,36px 14px #43c,37px 14px #44d,38px 14px #43d,39px 14px #44d,40px 14px #46e,41px 14px #45e,42px 14px #44d,43px 14px #44d,44px 14px #44d,45px 14px #46c,46px 14px #46d,47px 14px #45e,48px 14px #46e,49px 14px #45e,50px 14px #37e,51px 14px #45e,52px 14px #44d,53px 14px #46e,54px 14px #45e,55px 14px #44e,56px 14px #44e,57px 14px #38d,58px 14px #43c,59px 14px #43c,60px 14px #46c,61px 14px #46d,62px 14px #46e,63px 14px #46e,64px 14px #45e,65px 14px #46e,66px 14px #43c,67px 14px #43d,68px 14px #46d,69px 14px #47e,70px 14px #45e,71px 14px #37e,72px 14px #47d,73px 14px #45e,74px 14px #45e,75px 14px #43d,76px 14px #43c,77px 14px #45e,78px 14px #44e,79px 14px #43d,80px 14px #45e,81px 14px #45e,82px 14px #44d,83px 14px #46d,84px 14px #46e,85px 14px #45e,86px 14px #45e,87px 14px #44d,88px 14px #44d,89px 14px #43c,90px 14px #43b,91px 14px #44d,92px 14px #44d,93px 14px #45e,94px 14px #37e,95px 14px #47e,96px 14px #46e,97px 14px #46e,98px 14px #45e,99px 14px #45e,100px 14px #44d,101px 14px #44d,102px 14px #37e,103px 14px #46e,104px 14px #44d,105px 14px #46d,106px 14px #35d,107px 14px #45e,108px 14px #46e,109px 14px #44d,110px 14px #44d,111px 14px #44d,112px 14px #43c,113px 14px #38d,114px 14px #44d,115px 14px #46e,116px 14px #37e,117px 14px #45e,118px 14px #44d,119px 14px #43c,120px 14px #44d"></i></div><div class="sp" style="left:164.3px;top:48.0px"><i style="box-shadow:1px 1px #38e,2px 1px #3bc,3px 1px #3bd,4px 1px #46e,5px 1px #44d,6px 1px #44d,7px 1px #44d,8px 1px #77a,9px 1px #ee1,10px 1px #fd1,11px 1px #ad6,12px 1px #46e,13px 1px #45e,14px 1px #45e,15px 1px #44d,16px 1px #44d,17px 1px #3ad,18px 1px #3bd,19px 1px #45d,20px 1px #bd4,21px 1px #fd1,22px 1px #ed1,23px 1px #6b9,24px 1px #43c,25px 1px #44d,26px 1px #43d,27px 1px #44d,28px 1px #44d,29px 1px #44d,30px 1px #44d,31px 1px #44d,32px 1px #44d,33px 1px #44d,34px 1px #45e,35px 1px #46e,36px 1px #45e,37px 1px #43d,38px 1px #39d,39px 1px #4cc,40px 1px #39d,41px 1px #44d,42px 1px #43c,43px 1px #46d,44px 1px #58b,45px 1px #58b,46px 1px #44d,47px 1px #44d,48px 1px #44d,49px 1px #44d,50px 1px #43b,51px 1px #43b,52px 1px #44d,53px 1px #45e,54px 1px #43b,55px 1px #43c,56px 1px #43c,57px 1px #43c,58px 1px #779,59px 1px #aa6,60px 1px #48d,61px 1px #8d6,62px 1px #9d6,63px 1px #5ab,64px 1px #44d,65px 1px #48d,66px 1px #8d6,67px 1px #7c8,68px 1px #46e,69px 1px #45e,70px 1px #44d,71px 1px #45d,72px 1px #7c8,73px 1px #bd4,74px 1px #7c8,75px 1px #45d,76px 1px #43c,77px 1px #48c,78px 1px #ee2,79px 1px #768,80px 1px #9d5,81px 1px #de2,82px 1px #bd3,83px 1px #48d,84px 1px #44e,85px 1px #44d,86px 1px #46e,87px 1px #59c,88px 1px #ed2,89px 1px #fd1,90px 1px #ee2,91px 1px #46b,92px 1px #de2,93px 1px #ee2,94px 1px #6ba,95px 1px #45e,96px 1px #44d,97px 1px #36d,98px 1px #9d5,99px 1px #ee1,100px 1px #ed1,101px 1px #cd3,102px 1px #7c8,103px 1px #ee2,104px 1px #768,105px 1px #4bb,106px 1px #de2,107px 1px #ee2,108px 1px #6ba,109px 1px #46d,110px 1px #ad5,111px 1px #ed1,112px 1px #ee1,113px 1px #669,114px 1px #43c,115px 1px #43b,116px 1px #43b,117px 1px #42b,118px 1px #43b,119px 1px #43b,120px 1px #43b,1px 2px #46e,2px 2px #3ae,3px 2px #39e,4px 2px #45e,5px 2px #45e,6px 2px #45e,7px 2px #44d,8px 2px #67a,9px 2px #ee2,10px 2px #ee2,11px 2px #7c8,12px 2px #45e,13px 2px #44d,14px 2px #45e,15px 2px #45d,16px 2px #45d,17px 2px #3ad,18px 2px #3bd,19px 2px #45d,20px 2px #9d6,21px 2px #ee1,22px 2px #ee2,23px 2px #5ab,24px 2px #43c,25px 2px #44d,26px 2px #43d,27px 2px #44d,28px 2px #44d,29px 2px #44d,30px 2px #43d,31px 2px #44d,32px 2px #44e,33px 2px #45e,34px 2px #37e,35px 2px #46e,36px 2px #45e,37px 2px #43d,38px 2px #39e,39px 2px #3bc,40px 2px #38e,41px 2px #45e,42px 2px #43c,43px 2px #49c,44px 2px #cd3,45px 2px #9d6,46px 2px #45e,47px 2px #44d,48px 2px #43d,49px 2px #44d,50px 2px #43b,51px 2px #43c,52px 2px #44d,53px 2px #45e,54px 2px #43b,55px 2px #43c,56px 2px #43c,57px 2px #43c,58px 2px #779,59px 2px #aa5,60px 2px #36d,61px 2px #7d7,62px 2px #9d6,63px 2px #49c,64px 2px #43d,65px 2px #47d,66px 2px #7d7,67px 2px #6c9,68px 2px #46e,69px 2px #45e,70px 2px #45d,71px 2px #44d,72px 2px #5bb,73px 2px #7d7,74px 2px #4ac,75px 2px #45e,76px 2px #44d,77px 2px #47d,78px 2px #bd3,79px 2px #768,80px 2px #6c9,81px 2px #bd3,82px 2px #ad5,83px 2px #37e,84px 2px #45e,85px 2px #44d,86px 2px #47e,87px 2px #38d,88px 2px #cd3,89px 2px #ee1,90px 2px #cd3,91px 2px #35b,92px 2px #ad4,93px 2px #cd3,94px 2px #49c,95px 2px #45e,96px 2px #44d,97px 2px #45d,98px 2px #7c8,99px 2px #ee2,100px 2px #ee2,101px 2px #ad4,102px 2px #5bb,103px 2px #ce2,104px 2px #768,105px 2px #39e,106px 2px #bd4,107px 2px #cd3,108px 2px #59b,109px 2px #44d,110px 2px #8d7,111px 2px #ee2,112px 2px #ee2,113px 2px #46a,114px 2px #43c,115px 2px #43c,116px 2px #43b,117px 2px #32b,118px 2px #43b,119px 2px #43c,120px 2px #43c,1px 3px #45e,2px 3px #37e,3px 3px #46e,4px 3px #44d,5px 3px #44d,6px 3px #45e,7px 3px #44d,8px 3px #46c,9px 3px #ce3,10px 3px #de2,11px 3px #6ba,12px 3px #44e,13px 3px #45e,14px 3px #46e,15px 3px #45d,16px 3px #44d,17px 3px #3ae,18px 3px #3ad,19px 3px #44d,20px 3px #7c8,21px 3px #ee2,22px 3px #de2,23px 3px #49c,24px 3px #44c,25px 3px #45e,26px 3px #44d,27px 3px #45e,28px 3px #45e,29px 3px #45e,30px 3px #44d,31px 3px #44d,32px 3px #45e,33px 3px #46e,34px 3px #37e,35px 3px #46e,36px 3px #45e,37px 3px #43d,38px 3px #38e,39px 3px #3bd,40px 3px #37e,41px 3px #45e,42px 3px #44d,43px 3px #48d,44px 3px #bd4,45px 3px #7c8,46px 3px #45e,47px 3px #44d,48px 3px #44d,49px 3px #44d,50px 3px #43b,51px 3px #43c,52px 3px #44d,53px 3px #45e,54px 3px #43b,55px 3px #43c,56px 3px #43c,57px 3px #43c,58px 3px #779,59px 3px #9a6,60px 3px #44c,61px 3px #4cb,62px 3px #5c9,63px 3px #36d,64px 3px #43c,65px 3px #45d,66px 3px #5ca,67px 3px #4ac,68px 3px #46e,69px 3px #45e,70px 3px #45e,71px 3px #46e,72px 3px #39d,73px 3px #4cb,74px 3px #39e,75px 3px #37e,76px 3px #45e,77px 3px #46e,78px 3px #8d6,79px 3px #669,80px 3px #4bc,81px 3px #8d7,82px 3px #7c8,83px 3px #38e,84px 3px #37e,85px 3px #44d,86px 3px #37e,87px 3px #38e,88px 3px #bd4,89px 3px #ee2,90px 3px #9d5,91px 3px #34c,92px 3px #7d7,93px 3px #ad5,94px 3px #48d,95px 3px #46e,96px 3px #46e,97px 3px #45d,98px 3px #5ca,99px 3px #de2,100px 3px #de2,101px 3px #8d6,102px 3px #4ad,103px 3px #ad5,104px 3px #669,105px 3px #39e,106px 3px #8d7,107px 3px #ad5,108px 3px #48d,109px 3px #46e,110px 3px #6b9,111px 3px #de2,112px 3px #bd3,113px 3px #45b,114px 3px #43c,115px 3px #43c,116px 3px #43b,117px 3px #43b,118px 3px #43b,119px 3px #43b,120px 3px #43b,1px 4px #45e,2px 4px #45e,3px 4px #44d,4px 4px #44d,5px 4px #45e,6px 4px #45e,7px 4px #44d,8px 4px #46c,9px 4px #9d6,10px 4px #cd3,11px 4px #49c,12px 4px #44d,13px 4px #45e,14px 4px #45e,15px 4px #44d,16px 4px #43d,17px 4px #39e,18px 4px #3ae,19px 4px #44d,20px 4px #6ba,21px 4px #de2,22px 4px #bd4,23px 4px #39e,24px 4px #44d,25px 4px #46e,26px 4px #45e,27px 4px #46e,28px 4px #45e,29px 4px #45e,30px 4px #44d,31px 4px #44d,32px 4px #46e,33px 4px #46e,34px 4px #37e,35px 4px #46e,36px 4px #46e,37px 4px #44d,38px 4px #37e,39px 4px #3bd,40px 4px #37e,41px 4px #46e,42px 4px #44d,43px 4px #38e,44px 4px #8d7,45px 4px #6ca,46px 4px #46e,47px 4px #46e,48px 4px #45e,49px 4px #43d,50px 4px #32b,51px 4px #43c,52px 4px #44d,53px 4px #45e,54px 4px #43b,55px 4px #43b,56px 4px #43b,57px 4px #43b,58px 4px #768,59px 4px #aa5,60px 4px #43c,61px 4px #39e,62px 4px #3ad,63px 4px #46e,64px 4px #44d,65px 4px #44d,66px 4px #39d,67px 4px #39e,68px 4px #37e,69px 4px #46e,70px 4px #46e,71px 4px #46e,72px 4px #37e,73px 4px #38e,74px 4px #38e,75px 4px #38e,76px 4px #46e,77px 4px #46e,78px 4px #6c9,79px 4px #569,80px 4px #39e,81px 4px #6c8,82px 4px #4bb,83px 4px #37e,84px 4px #45e,85px 4px #44d,86px 4px #46e,87px 4px #46e,88px 4px #9d6,89px 4px #ce3,90px 4px #7c8,91px 4px #44c,92px 4px #6c9,93px 4px #6c8,94px 4px #47e,95px 4px #46e,96px 4px #46e,97px 4px #45d,98px 4px #4bb,99px 4px #bd4,100px 4px #bd4,101px 4px #6c9,102px 4px #38e,103px 4px #7d8,104px 4px #56a,105px 4px #39e,106px 4px #5ca,107px 4px #6c9,108px 4px #37e,109px 4px #38e,110px 4px #4bc,111px 4px #ad4,112px 4px #9d6,113px 4px #35c,114px 4px #43c,115px 4px #43c,116px 4px #43c,117px 4px #43b,118px 4px #43b,119px 4px #32b,120px 4px #32b,1px 5px #45e,2px 5px #45e,3px 5px #44e,4px 5px #45e,5px 5px #45e,6px 5px #45e,7px 5px #45e,8px 5px #45d,9px 5px #7d7,10px 5px #8d6,11px 5px #48d,12px 5px #45e,13px 5px #46e,14px 5px #45e,15px 5px #45d,16px 5px #44d,17px 5px #39e,18px 5px #3ae,19px 5px #44d,20px 5px #4ac,21px 5px #cd3,22px 5px #9d5,23px 5px #38e,24px 5px #44d,25px 5px #46e,26px 5px #45e,27px 5px #46e,28px 5px #45e,29px 5px #44d,30px 5px #44d,31px 5px #44d,32px 5px #37e,33px 5px #46e,34px 5px #45e,35px 5px #46e,36px 5px #46e,37px 5px #44d,38px 5px #37e,39px 5px #3ad,40px 5px #37e,41px 5px #37e,42px 5px #45d,43px 5px #39e,44px 5px #6c9,45px 5px #4bb,46px 5px #46e,47px 5px #37e,48px 5px #46e,49px 5px #44d,50px 5px #43b,51px 5px #44d,52px 5px #44d,53px 5px #44d,54px 5px #32b,55px 5px #43b,56px 5px #43b,57px 5px #43b,58px 5px #669,59px 5px #aa5,60px 5px #43b,61px 5px #45e,62px 5px #46e,63px 5px #46e,64px 5px #45e,65px 5px #45e,66px 5px #46e,67px 5px #37e,68px 5px #37e,69px 5px #46e,70px 5px #46e,71px 5px #45e,72px 5px #46e,73px 5px #37e,74px 5px #46e,75px 5px #46e,76px 5px #45e,77px 5px #44e,78px 5px #49d,79px 5px #45b,80px 5px #37e,81px 5px #4ad,82px 5px #39d,83px 5px #45e,84px 5px #44d,85px 5px #44c,86px 5px #46e,87px 5px #46e,88px 5px #7c9,89px 5px #ad4,90px 5px #6ba,91px 5px #43c,92px 5px #39d,93px 5px #4ac,94px 5px #46e,95px 5px #37e,96px 5px #46e,97px 5px #45d,98px 5px #4ad,99px 5px #8d6,100px 5px #9d5,101px 5px #5bb,102px 5px #37e,103px 5px #3bc,104px 5px #45b,105px 5px #39e,106px 5px #3ad,107px 5px #4ac,108px 5px #37e,109px 5px #38e,110px 5px #3ad,111px 5px #8d6,112px 5px #7c8,113px 5px #34c,114px 5px #43b,115px 5px #43b,116px 5px #43c,117px 5px #43b,118px 5px #42b,119px 5px #32b,120px 5px #32b,1px 6px #46e,2px 6px #46e,3px 6px #45e,4px 6px #45e,5px 6px #44d,6px 6px #45e,7px 6px #45e,8px 6px #44d,9px 6px #4ac,10px 6px #4bc,11px 6px #37e,12px 6px #37e,13px 6px #46e,14px 6px #45e,15px 6px #45d,16px 6px #45d,17px 6px #38e,18px 6px #39e,19px 6px #44d,20px 6px #39d,21px 6px #ad5,22px 6px #7c8,23px 6px #46e,24px 6px #44d,25px 6px #37e,26px 6px #46e,27px 6px #46e,28px 6px #45e,29px 6px #44d,30px 6px #44d,31px 6px #44d,32px 6px #38e,33px 6px #37e,34px 6px #45e,35px 6px #46e,36px 6px #46e,37px 6px #44d,38px 6px #46e,39px 6px #3ae,40px 6px #37e,41px 6px #37e,42px 6px #44d,43px 6px #37e,44px 6px #5ca,45px 6px #49c,46px 6px #45e,47px 6px #37e,48px 6px #37e,49px 6px #45d,50px 6px #43c,51px 6px #45e,52px 6px #45e,53px 6px #45e,54px 6px #32b,55px 6px #43b,56px 6px #43b,57px 6px #43b,58px 6px #669,59px 6px #9a6,60px 6px #43b,61px 6px #44d,62px 6px #45e,63px 6px #45e,64px 6px #45e,65px 6px #44d,66px 6px #44d,67px 6px #45e,68px 6px #44d,69px 6px #45e,70px 6px #45e,71px 6px #45e,72px 6px #46e,73px 6px #37e,74px 6px #46e,75px 6px #46e,76px 6px #44d,77px 6px #44d,78px 6px #46e,79px 6px #34c,80px 6px #38e,81px 6px #46e,82px 6px #45e,83px 6px #45e,84px 6px #44d,85px 6px #44d,86px 6px #37e,87px 6px #46e,88px 6px #5ab,89px 6px #8d6,90px 6px #4ac,91px 6px #44c,92px 6px #37e,93px 6px #46e,94px 6px #44d,95px 6px #46e,96px 6px #46e,97px 6px #45e,98px 6px #38e,99px 6px #4bb,100px 6px #5bb,101px 6px #39d,102px 6px #37e,103px 6px #38e,104px 6px #35c,105px 6px #38e,106px 6px #37e,107px 6px #46e,108px 6px #45e,109px 6px #37e,110px 6px #38e,111px 6px #4bc,112px 6px #4ac,113px 6px #43c,114px 6px #42b,115px 6px #32b,116px 6px #43b,117px 6px #43b,118px 6px #43b,119px 6px #43b,120px 6px #43b,1px 7px #38e,2px 7px #46e,3px 7px #45e,4px 7px #44d,5px 7px #44d,6px 7px #44d,7px 7px #46e,8px 7px #44d,9px 7px #38e,10px 7px #38e,11px 7px #39e,12px 7px #38e,13px 7px #45e,14px 7px #44d,15px 7px #44d,16px 7px #44d,17px 7px #37e,18px 7px #39e,19px 7px #45d,20px 7px #38e,21px 7px #5ba,22px 7px #4ac,23px 7px #45e,24px 7px #43d,25px 7px #46e,26px 7px #45e,27px 7px #46e,28px 7px #46e,29px 7px #45e,30px 7px #44d,31px 7px #44d,32px 7px #37e,33px 7px #46e,34px 7px #45e,35px 7px #38e,36px 7px #46e,37px 7px #45e,38px 7px #46e,39px 7px #3ae,40px 7px #46e,41px 7px #37e,42px 7px #44d,43px 7px #37e,44px 7px #4bc,45px 7px #38d,46px 7px #44d,47px 7px #37e,48px 7px #39e,49px 7px #46e,50px 7px #44c,51px 7px #46e,52px 7px #38e,53px 7px #46e,54px 7px #32b,55px 7px #43b,56px 7px #43b,57px 7px #43b,58px 7px #779,59px 7px #9a6,60px 7px #43b,61px 7px #44d,62px 7px #45e,63px 7px #45d,64px 7px #44d,65px 7px #43c,66px 7px #44d,67px 7px #44d,68px 7px #43c,69px 7px #44d,70px 7px #45e,71px 7px #44d,72px 7px #46e,73px 7px #46e,74px 7px #45e,75px 7px #46e,76px 7px #45e,77px 7px #46e,78px 7px #46e,79px 7px #34c,80px 7px #39e,81px 7px #46e,82px 7px #45e,83px 7px #46e,84px 7px #45e,85px 7px #44d,86px 7px #37e,87px 7px #37e,88px 7px #47e,89px 7px #39e,90px 7px #38e,91px 7px #34c,92px 7px #38e,93px 7px #46e,94px 7px #45e,95px 7px #37e,96px 7px #46e,97px 7px #36e,98px 7px #37e,99px 7px #37e,100px 7px #38e,101px 7px #46e,102px 7px #45e,103px 7px #37e,104px 7px #35c,105px 7px #37e,106px 7px #46e,107px 7px #46e,108px 7px #45e,109px 7px #46e,110px 7px #46e,111px 7px #37e,112px 7px #45e,113px 7px #44c,114px 7px #43c,115px 7px #32a,116px 7px #32b,117px 7px #43b,118px 7px #43b,119px 7px #43c,120px 7px #43c,1px 8px #3bd,2px 8px #39d,3px 8px #46e,4px 8px #45e,5px 8px #46e,6px 8px #46e,7px 8px #39e,8px 8px #45d,9px 8px #39e,10px 8px #38e,11px 8px #4bc,12px 8px #39e,13px 8px #44d,14px 8px #44c,15px 8px #45d,16px 8px #45d,17px 8px #37e,18px 8px #38e,19px 8px #45d,20px 8px #38e,21px 8px #39e,22px 8px #38e,23px 8px #46e,24px 8px #44d,25px 8px #37e,26px 8px #45e,27px 8px #46e,28px 8px #38e,29px 8px #46e,30px 8px #46e,31px 8px #44d,32px 8px #37e,33px 8px #47e,34px 8px #38e,35px 8px #4bc,36px 8px #37e,37px 8px #46e,38px 8px #38e,39px 8px #39e,40px 8px #38e,41px 8px #37e,42px 8px #45d,43px 8px #38e,44px 8px #38e,45px 8px #37e,46px 8px #44d,47px 8px #38e,48px 8px #5bb,49px 8px #49d,50px 8px #44d,51px 8px #37e,52px 8px #3ad,53px 8px #49d,54px 8px #43b,55px 8px #43c,56px 8px #43c,57px 8px #44d,58px 8px #78a,59px 8px #9a6,60px 8px #43c,61px 8px #44d,62px 8px #45e,63px 8px #46e,64px 8px #45e,65px 8px #44d,66px 8px #38e,67px 8px #36e,68px 8px #44d,69px 8px #45e,70px 8px #46e,71px 8px #46e,72px 8px #38e,73px 8px #37e,74px 8px #46e,75px 8px #37e,76px 8px #37e,77px 8px #38e,78px 8px #37e,79px 8px #34c,80px 8px #3bd,81px 8px #38e,82px 8px #46e,83px 8px #37e,84px 8px #46e,85px 8px #44d,86px 8px #38e,87px 8px #39e,88px 8px #46e,89px 8px #37e,90px 8px #38e,91px 8px #34c,92px 8px #38e,93px 8px #46e,94px 8px #37e,95px 8px #38e,96px 8px #46e,97px 8px #46e,98px 8px #38e,99px 8px #38e,100px 8px #3ad,101px 8px #46e,102px 8px #45e,103px 8px #37e,104px 8px #45b,105px 8px #38e,106px 8px #37e,107px 8px #38e,108px 8px #37e,109px 8px #38e,110px 8px #37e,111px 8px #45e,112px 8px #45e,113px 8px #35c,114px 8px #46e,115px 8px #43c,116px 8px #43b,117px 8px #43b,118px 8px #43c,119px 8px #43c,120px 8px #43c,1px 9px #7c8,2px 9px #7c8,3px 9px #38e,4px 9px #46e,5px 9px #3ae,6px 9px #3ad,7px 9px #7c8,8px 9px #45d,9px 9px #3ae,10px 9px #3ad,11px 9px #ad5,12px 9px #4bc,13px 9px #45e,14px 9px #37e,15px 9px #59c,16px 9px #49c,17px 9px #39e,18px 9px #37e,19px 9px #46d,20px 9px #6ba,21px 9px #5ba,22px 9px #39e,23px 9px #39e,24px 9px #46d,25px 9px #3ac,26px 9px #37e,27px 9px #37e,28px 9px #3ae,29px 9px #3ad,30px 9px #49c,31px 9px #46e,32px 9px #38e,33px 9px #3ad,34px 9px #6c9,35px 9px #ad5,36px 9px #39d,37px 9px #37e,38px 9px #5bb,39px 9px #7c8,40px 9px #4bb,41px 9px #38e,42px 9px #45d,43px 9px #4bb,44px 9px #5ca,45px 9px #39d,46px 9px #46e,47px 9px #3ad,48px 9px #bc4,49px 9px #7c8,50px 9px #44d,51px 9px #38e,52px 9px #7b9,53px 9px #8c7,54px 9px #43c,55px 9px #45d,56px 9px #45e,57px 9px #38e,58px 9px #6ba,59px 9px #9b7,60px 9px #44d,61px 9px #46e,62px 9px #38e,63px 9px #38e,64px 9px #46e,65px 9px #46e,66px 9px #4bb,67px 9px #4bb,68px 9px #3ad,69px 9px #3ae,70px 9px #3ad,71px 9px #4bc,72px 9px #9d6,73px 9px #3ad,74px 9px #39e,75px 9px #3ae,76px 9px #3ad,77px 9px #3ad,78px 9px #38e,79px 9px #34c,80px 9px #6c9,81px 9px #4ac,82px 9px #38e,83px 9px #37e,84px 9px #39d,85px 9px #56c,86px 9px #4bc,87px 9px #3ad,88px 9px #46e,89px 9px #39e,90px 9px #6ca,91px 9px #35c,92px 9px #3ae,93px 9px #38e,94px 9px #39e,95px 9px #5ca,96px 9px #37d,97px 9px #46e,98px 9px #3ad,99px 9px #6ca,100px 9px #ad5,101px 9px #3ad,102px 9px #46e,103px 9px #4ad,104px 9px #669,105px 9px #4bb,106px 9px #3bd,107px 9px #3bd,108px 9px #4bc,109px 9px #6c9,110px 9px #3bd,111px 9px #46e,112px 9px #39e,113px 9px #56a,114px 9px #3bd,115px 9px #45d,116px 9px #43c,117px 9px #44d,118px 9px #45d,119px 9px #45e,120px 9px #44d,1px 10px #6c9,2px 10px #9d6,3px 10px #38e,4px 10px #46e,5px 10px #4bc,6px 10px #4bc,7px 10px #bd3,8px 10px #46e,9px 10px #3ae,10px 10px #4bc,11px 10px #de2,12px 10px #5ca,13px 10px #46e,14px 10px #3ad,15px 10px #7a8,16px 10px #6aa,17px 10px #39e,18px 10px #37e,19px 10px #46d,20px 10px #ac5,21px 10px #9d6,22px 10px #3bd,23px 10px #3bd,24px 10px #48d,25px 10px #4cb,26px 10px #3ae,27px 10px #38e,28px 10px #3bd,29px 10px #5ca,30px 10px #8a8,31px 10px #38e,32px 10px #38e,33px 10px #4bc,34px 10px #9d6,35px 10px #cd4,36px 10px #3ad,37px 10px #38e,38px 10px #7c8,39px 10px #9d6,40px 10px #5bb,41px 10px #38e,42px 10px #46d,43px 10px #4cb,44px 10px #8d7,45px 10px #4ad,46px 10px #46e,47px 10px #39d,48px 10px #cc4,49px 10px #ad5,50px 10px #44d,51px 10px #38e,52px 10px #7c8,53px 10px #ac6,54px 10px #43c,55px 10px #45d,56px 10px #46e,57px 10px #4ac,58px 10px #7c8,59px 10px #ac6,60px 10px #46e,61px 10px #3ad,62px 10px #5ca,63px 10px #3bd,64px 10px #37e,65px 10px #38e,66px 10px #8c7,67px 10px #8d6,68px 10px #6c9,69px 10px #4bb,70px 10px #4bb,71px 10px #8c8,72px 10px #cd3,73px 10px #3bc,74px 10px #39e,75px 10px #3ad,76px 10px #3ad,77px 10px #3ad,78px 10px #38e,79px 10px #44c,80px 10px #4cb,81px 10px #6c9,82px 10px #3ae,83px 10px #38e,84px 10px #4ac,85px 10px #78a,86px 10px #7c8,87px 10px #4ac,88px 10px #46e,89px 10px #39e,90px 10px #ad5,91px 10px #35b,92px 10px #3ae,93px 10px #39e,94px 10px #3ae,95px 10px #6c9,96px 10px #37d,97px 10px #36e,98px 10px #4bc,99px 10px #9d6,100px 10px #dc2,101px 10px #3ad,102px 10px #46e,103px 10px #4ac,104px 10px #669,105px 10px #8c7,106px 10px #3bc,107px 10px #3bd,108px 10px #6c9,109px 10px #7d7,110px 10px #4bc,111px 10px #37e,112px 10px #3ad,113px 10px #669,114px 10px #5ca,115px 10px #37e,116px 10px #44d,117px 10px #45d,118px 10px #47e,119px 10px #46e,120px 10px #45e,1px 11px #3ad,2px 11px #39d,3px 11px #45e,4px 11px #45e,5px 11px #39e,6px 11px #39e,7px 11px #5cb,8px 11px #45d,9px 11px #38e,10px 11px #38e,11px 11px #7c8,12px 11px #39e,13px 11px #45e,14px 11px #37e,15px 11px #38d,16px 11px #38d,17px 11px #37e,18px 11px #46e,19px 11px #45d,20px 11px #49d,21px 11px #4ad,22px 11px #38e,23px 11px #38e,24px 11px #45d,25px 11px #39e,26px 11px #38e,27px 11px #38e,28px 11px #3ae,29px 11px #4bc,30px 11px #59b,31px 11px #46e,32px 11px #46e,33px 11px #38e,34px 11px #4bb,35px 11px #8c7,36px 11px #39e,37px 11px #47e,38px 11px #4bc,39px 11px #49d,40px 11px #39e,41px 11px #46e,42px 11px #45d,43px 11px #3ad,44px 11px #4ac,45px 11px #38e,46px 11px #45e,47px 11px #37e,48px 11px #8c7,49px 11px #6c9,50px 11px #44d,51px 11px #46e,52px 11px #5ab,53px 11px #8b8,54px 11px #43b,55px 11px #43d,56px 11px #44d,57px 11px #46e,58px 11px #6aa,59px 11px #9b7,60px 11px #44d,61px 11px #37e,62px 11px #39e,63px 11px #39e,64px 11px #46e,65px 11px #46e,66px 11px #5bb,67px 11px #4bb,68px 11px #3ad,69px 11px #3ad,70px 11px #3ae,71px 11px #4bc,72px 11px #6c9,73px 11px #3ae,74px 11px #39e,75px 11px #38e,76px 11px #38e,77px 11px #39e,78px 11px #37e,79px 11px #44c,80px 11px #3ad,81px 11px #4bc,82px 11px #39e,83px 11px #37e,84px 11px #39e,85px 11px #47d,86px 11px #5cb,87px 11px #3ad,88px 11px #37e,89px 11px #38e,90px 11px #5ab,91px 11px #35c,92px 11px #39e,93px 11px #38e,94px 11px #38e,95px 11px #39e,96px 11px #36e,97px 11px #36e,98px 11px #3ad,99px 11px #6c9,100px 11px #ad5,101px 11px #39e,102px 11px #46e,103px 11px #48d,104px 11px #46b,105px 11px #3bd,106px 11px #39e,107px 11px #38e,108px 11px #39e,109px 11px #3bc,110px 11px #3ae,111px 11px #45e,112px 11px #38e,113px 11px #45b,114px 11px #39e,115px 11px #44d,116px 11px #43c,117px 11px #44d,118px 11px #45d,119px 11px #45d,120px 11px #43c,1px 12px #46e,2px 12px #45d,3px 12px #43d,4px 12px #44d,5px 12px #46e,6px 12px #46e,7px 12px #39e,8px 12px #44d,9px 12px #46e,10px 12px #44d,11px 12px #39e,12px 12px #46e,13px 12px #44d,14px 12px #45e,15px 12px #44d,16px 12px #45d,17px 12px #45e,18px 12px #45e,19px 12px #43c,20px 12px #44d,21px 12px #46e,22px 12px #46e,23px 12px #46e,24px 12px #44d,25px 12px #46e,26px 12px #46e,27px 12px #37e,28px 12px #38e,29px 12px #37e,30px 12px #37e,31px 12px #45e,32px 12px #46e,33px 12px #46e,34px 12px #37e,35px 12px #38e,36px 12px #46e,37px 12px #44d,38px 12px #37e,39px 12px #44d,40px 12px #46e,41px 12px #44d,42px 12px #44d,43px 12px #46e,44px 12px #45d,45px 12px #46e,46px 12px #44d,47px 12px #45e,48px 12px #3ad,49px 12px #38e,50px 12px #43c,51px 12px #43c,52px 12px #37e,53px 12px #4ac,54px 12px #43b,55px 12px #43c,56px 12px #43d,57px 12px #43c,58px 12px #77a,59px 12px #9a6,60px 12px #43b,61px 12px #43c,62px 12px #45e,63px 12px #45e,64px 12px #45e,65px 12px #45e,66px 12px #38e,67px 12px #38e,68px 12px #37e,69px 12px #39e,70px 12px #37e,71px 12px #37e,72px 12px #3ae,73px 12px #39e,74px 12px #39e,75px 12px #37e,76px 12px #46e,77px 12px #46e,78px 12px #45e,79px 12px #43c,80px 12px #37e,81px 12px #37e,82px 12px #46e,83px 12px #45e,84px 12px #46e,85px 12px #45d,86px 12px #38e,87px 12px #38e,88px 12px #46e,89px 12px #37e,90px 12px #37e,91px 12px #35c,92px 12px #37e,93px 12px #37e,94px 12px #37e,95px 12px #37e,96px 12px #46e,97px 12px #36e,98px 12px #37e,99px 12px #39e,100px 12px #3ae,101px 12px #46e,102px 12px #44d,103px 12px #45e,104px 12px #35c,105px 12px #37e,106px 12px #37e,107px 12px #45e,108px 12px #46e,109px 12px #38e,110px 12px #46e,111px 12px #44d,112px 12px #37e,113px 12px #35c,114px 12px #45e,115px 12px #43b,116px 12px #43b,117px 12px #43c,118px 12px #43c,119px 12px #43c,120px 12px #43b,1px 13px #44d,2px 13px #44d,3px 13px #43d,4px 13px #44e,5px 13px #45e,6px 13px #45e,7px 13px #46e,8px 13px #44d,9px 13px #37e,10px 13px #45e,11px 13px #37e,12px 13px #46e,13px 13px #45e,14px 13px #45e,15px 13px #43c,16px 13px #43d,17px 13px #44d,18px 13px #45e,19px 13px #43c,20px 13px #44d,21px 13px #44d,22px 13px #46e,23px 13px #46e,24px 13px #44d,25px 13px #45e,26px 13px #44e,27px 13px #45e,28px 13px #46e,29px 13px #46e,30px 13px #45e,31px 13px #45d,32px 13px #45e,33px 13px #45e,34px 13px #46e,35px 13px #46e,36px 13px #45e,37px 13px #43c,38px 13px #44d,39px 13px #43d,40px 13px #45e,41px 13px #44d,42px 13px #44d,43px 13px #44d,44px 13px #43c,45px 13px #44d,46px 13px #44d,47px 13px #45e,48px 13px #37e,49px 13px #45e,50px 13px #43c,51px 13px #32b,52px 13px #45d,53px 13px #38e,54px 13px #43b,55px 13px #43c,56px 13px #43c,57px 13px #43c,58px 13px #779,59px 13px #aa5,60px 13px #43b,61px 13px #44d,62px 13px #45e,63px 13px #44d,64px 13px #44e,65px 13px #44d,66px 13px #46e,67px 13px #46e,68px 13px #37e,69px 13px #38e,70px 13px #46e,71px 13px #46e,72px 13px #39e,73px 13px #38e,74px 13px #37e,75px 13px #46e,76px 13px #44d,77px 13px #45e,78px 13px #45e,79px 13px #43c,80px 13px #46e,81px 13px #46e,82px 13px #46e,83px 13px #45e,84px 13px #44d,85px 13px #44d,86px 13px #46e,87px 13px #45e,88px 13px #45e,89px 13px #45e,90px 13px #44d,91px 13px #34c,92px 13px #37e,93px 13px #45e,94px 13px #46e,95px 13px #46e,96px 13px #45e,97px 13px #46e,98px 13px #37e,99px 13px #37e,100px 13px #37e,101px 13px #44d,102px 13px #44d,103px 13px #44d,104px 13px #44c,105px 13px #45e,106px 13px #46e,107px 13px #45e,108px 13px #45e,109px 13px #46e,110px 13px #44d,111px 13px #43c,112px 13px #46e,113px 13px #34c,114px 13px #43d,115px 13px #43b,116px 13px #43b,117px 13px #43b,118px 13px #43c,119px 13px #43c,120px 13px #43b,1px 14px #44d,2px 14px #45e,3px 14px #43d,4px 14px #44e,5px 14px #45e,6px 14px #44d,7px 14px #45e,8px 14px #44d,9px 14px #37e,10px 14px #46e,11px 14px #38e,12px 14px #46e,13px 14px #46e,14px 14px #45e,15px 14px #44d,16px 14px #44d,17px 14px #44d,18px 14px #46e,19px 14px #43c,20px 14px #44d,21px 14px #44d,22px 14px #46e,23px 14px #45e,24px 14px #44d,25px 14px #45e,26px 14px #44d,27px 14px #44e,28px 14px #45e,29px 14px #45e,30px 14px #45d,31px 14px #45d,32px 14px #44d,33px 14px #44d,34px 14px #46e,35px 14px #46e,36px 14px #46e,37px 14px #43c,38px 14px #44d,39px 14px #44d,40px 14px #45e,41px 14px #44e,42px 14px #43c,43px 14px #44d,44px 14px #43c,45px 14px #44d,46px 14px #44d,47px 14px #44e,48px 14px #46e,49px 14px #44e,50px 14px #43b,51px 14px #32b,52px 14px #44d,53px 14px #37e,54px 14px #43b,55px 14px #43c,56px 14px #43b,57px 14px #43c,58px 14px #669,59px 14px #aa5,60px 14px #43c,61px 14px #44d,62px 14px #46e,63px 14px #45e,64px 14px #44d,65px 14px #44d,66px 14px #45e,67px 14px #46e,68px 14px #46e,69px 14px #37e,70px 14px #45e,71px 14px #45e,72px 14px #38e,73px 14px #37e,74px 14px #46e,75px 14px #45e,76px 14px #43c,77px 14px #44d,78px 14px #45e,79px 14px #43c,80px 14px #46e,81px 14px #45e,82px 14px #45e,83px 14px #46e,84px 14px #44d,85px 14px #44d,86px 14px #46e,87px 14px #44d,88px 14px #44d,89px 14px #45d,90px 14px #44d,91px 14px #34c,92px 14px #37e,93px 14px #45e,94px 14px #45e,95px 14px #46e,96px 14px #45d,97px 14px #46e,98px 14px #38e,99px 14px #38e,100px 14px #37e,101px 14px #44d,102px 14px #44d,103px 14px #44d,104px 14px #44c,105px 14px #45e,106px 14px #45e,107px 14px #44d,108px 14px #44d,109px 14px #44e,110px 14px #44d,111px 14px #43c,112px 14px #46e,113px 14px #34c,114px 14px #43c,115px 14px #43b,116px 14px #43b,117px 14px #43b,118px 14px #43b,119px 14px #43b,120px 14px #43b"></i></div><div class="sp" style="left:164.3px;top:86.6px"><i style="box-shadow:1px 1px #43c,2px 1px #43c,3px 1px #43c,4px 1px #43c,5px 1px #43c,6px 1px #43c,7px 1px #43c,8px 1px #43b,9px 1px #43c,10px 1px #43c,11px 1px #44d,12px 1px #44d,13px 1px #45d,14px 1px #7c8,15px 1px #de2,16px 1px #ce3,17px 1px #9d6,18px 1px #37d,19px 1px #45d,20px 1px #dd2,21px 1px #fc1,22px 1px #fd1,23px 1px #ad5,24px 1px #45d,25px 1px #3bc,26px 1px #3bc,27px 1px #4ac,28px 1px #69a,29px 1px #68a,30px 1px #45c,31px 1px #47c,32px 1px #bd5,33px 1px #bd4,34px 1px #5ab,35px 1px #43c,36px 1px #43b,37px 1px #46c,38px 1px #68a,39px 1px #68a,40px 1px #44d,41px 1px #43c,42px 1px #43c,43px 1px #46c,44px 1px #68a,45px 1px #58b,46px 1px #45e,47px 1px #44d,48px 1px #44d,49px 1px #43c,50px 1px #32b,51px 1px #32a,52px 1px #32a,53px 1px #32b,54px 1px #42b,55px 1px #43b,56px 1px #43b,57px 1px #43b,58px 1px #44c,59px 1px #9b7,60px 1px #44e,61px 1px #44d,62px 1px #45e,63px 1px #46e,64px 1px #45e,65px 1px #44d,66px 1px #43c,67px 1px #43c,68px 1px #43c,69px 1px #43d,70px 1px #43c,71px 1px #44d,72px 1px #7b8,73px 1px #ed1,74px 1px #fe1,75px 1px #ad5,76px 1px #45d,77px 1px #43c,78px 1px #43d,79px 1px #43b,80px 1px #44d,81px 1px #44d,82px 1px #44d,83px 1px #47d,84px 1px #9d6,85px 1px #6c9,86px 1px #46e,87px 1px #45e,88px 1px #43c,89px 1px #43c,90px 1px #43c,91px 1px #43c,92px 1px #43d,93px 1px #43c,94px 1px #8c7,95px 1px #ee1,96px 1px #8a7,97px 1px #44d,98px 1px #44d,99px 1px #58b,100px 1px #79a,101px 1px #69a,102px 1px #44b,103px 1px #cd3,104px 1px #ee2,105px 1px #58b,106px 1px #43c,107px 1px #43c,108px 1px #43c,109px 1px #43d,110px 1px #44d,111px 1px #43c,112px 1px #43c,113px 1px #46a,114px 1px #8d7,115px 1px #4ac,116px 1px #43c,117px 1px #43b,118px 1px #43b,119px 1px #43c,120px 1px #43c,1px 2px #43b,2px 2px #43b,3px 2px #43b,4px 2px #43c,5px 2px #43c,6px 2px #43c,7px 2px #43c,8px 2px #43b,9px 2px #43c,10px 2px #43c,11px 2px #43d,12px 2px #44d,13px 2px #45e,14px 2px #4bc,15px 2px #9d6,16px 2px #9d6,17px 2px #5ca,18px 2px #45e,19px 2px #44d,20px 2px #ce3,21px 2px #ee1,22px 2px #ee1,23px 2px #8c7,24px 2px #44d,25px 2px #3bd,26px 2px #3bd,27px 2px #7c9,28px 2px #ee2,29px 2px #de2,30px 2px #47c,31px 2px #37c,32px 2px #bd4,33px 2px #cd3,34px 2px #5ab,35px 2px #43c,36px 2px #43b,37px 2px #58c,38px 2px #ce3,39px 2px #ad5,40px 2px #45d,41px 2px #44d,42px 2px #43c,43px 2px #48c,44px 2px #de2,45px 2px #ad4,46px 2px #46e,47px 2px #44d,48px 2px #44d,49px 2px #43c,50px 2px #42b,51px 2px #42b,52px 2px #43b,53px 2px #43b,54px 2px #43b,55px 2px #43b,56px 2px #43b,57px 2px #43b,58px 2px #44c,59px 2px #9b7,60px 2px #46e,61px 2px #58b,62px 2px #69a,63px 2px #6aa,64px 2px #48d,65px 2px #45e,66px 2px #43c,67px 2px #43c,68px 2px #43b,69px 2px #43c,70px 2px #43c,71px 2px #43c,72px 2px #59b,73px 2px #de2,74px 2px #ee2,75px 2px #7c8,76px 2px #44d,77px 2px #43c,78px 2px #45d,79px 2px #43b,80px 2px #45d,81px 2px #45d,82px 2px #44d,83px 2px #45d,84px 2px #4bc,85px 2px #3ad,86px 2px #46e,87px 2px #45e,88px 2px #43c,89px 2px #43c,90px 2px #43c,91px 2px #43c,92px 2px #44d,93px 2px #43c,94px 2px #7b9,95px 2px #de2,96px 2px #699,97px 2px #45d,98px 2px #46e,99px 2px #9d6,100px 2px #ee2,101px 2px #de2,102px 2px #569,103px 2px #ad5,104px 2px #ce3,105px 2px #47d,106px 2px #44d,107px 2px #43c,108px 2px #43c,109px 2px #43c,110px 2px #43c,111px 2px #43c,112px 2px #43c,113px 2px #46b,114px 2px #5ca,115px 2px #39d,116px 2px #44d,117px 2px #43b,118px 2px #43b,119px 2px #42b,120px 2px #42b,1px 3px #32b,2px 3px #32b,3px 3px #32b,4px 3px #43b,5px 3px #43c,6px 3px #43c,7px 3px #43c,8px 3px #43b,9px 3px #43c,10px 3px #43c,11px 3px #43d,12px 3px #46e,13px 3px #37e,14px 3px #39d,15px 3px #5ca,16px 3px #6c9,17px 3px #3ad,18px 3px #45e,19px 3px #45d,20px 3px #ad5,21px 3px #ee2,22px 3px #de2,23px 3px #6ca,24px 3px #44d,25px 3px #3ae,26px 3px #3ad,27px 3px #5bb,28px 3px #ce2,29px 3px #ad5,30px 3px #37d,31px 3px #37d,32px 3px #8d7,33px 3px #9d6,34px 3px #48d,35px 3px #43c,36px 3px #43b,37px 3px #46d,38px 3px #9d6,39px 3px #6c9,40px 3px #37e,41px 3px #37e,42px 3px #44d,43px 3px #47d,44px 3px #cd3,45px 3px #8d7,46px 3px #44e,47px 3px #44d,48px 3px #44d,49px 3px #43c,50px 3px #43b,51px 3px #43c,52px 3px #43c,53px 3px #43b,54px 3px #42b,55px 3px #43b,56px 3px #43b,57px 3px #43b,58px 3px #44c,59px 3px #9b6,60px 3px #46e,61px 3px #8c7,62px 3px #ee2,63px 3px #de2,64px 3px #5ab,65px 3px #45e,66px 3px #43c,67px 3px #43c,68px 3px #43b,69px 3px #43c,70px 3px #43c,71px 3px #43c,72px 3px #47d,73px 3px #ad4,74px 3px #cd3,75px 3px #5ab,76px 3px #46e,77px 3px #45e,78px 3px #38e,79px 3px #43b,80px 3px #38e,81px 3px #37e,82px 3px #46e,83px 3px #44d,84px 3px #37e,85px 3px #46e,86px 3px #37e,87px 3px #45e,88px 3px #43c,89px 3px #43c,90px 3px #44d,91px 3px #44c,92px 3px #46e,93px 3px #44c,94px 3px #5ab,95px 3px #bd4,96px 3px #48b,97px 3px #36e,98px 3px #45e,99px 3px #6b9,100px 3px #ce3,101px 3px #bd4,102px 3px #45b,103px 3px #7c8,104px 3px #9d5,105px 3px #45d,106px 3px #44d,107px 3px #43c,108px 3px #43c,109px 3px #43c,110px 3px #43c,111px 3px #43c,112px 3px #43c,113px 3px #35c,114px 3px #3bc,115px 3px #47e,116px 3px #43c,117px 3px #43b,118px 3px #32b,119px 3px #32b,120px 3px #32a,1px 4px #43b,2px 4px #43b,3px 4px #43b,4px 4px #43b,5px 4px #43c,6px 4px #43c,7px 4px #43b,8px 4px #43c,9px 4px #44d,10px 4px #44d,11px 4px #45e,12px 4px #46e,13px 4px #37e,14px 4px #46e,15px 4px #38e,16px 4px #38e,17px 4px #37e,18px 4px #44d,19px 4px #44d,20px 4px #8d7,21px 4px #ce3,22px 4px #cd3,23px 4px #5bb,24px 4px #44d,25px 4px #39e,26px 4px #39e,27px 4px #49d,28px 4px #9d5,29px 4px #7c8,30px 4px #36d,31px 4px #36d,32px 4px #5ca,33px 4px #6c8,34px 4px #37e,35px 4px #43c,36px 4px #43b,37px 4px #44c,38px 4px #5ca,39px 4px #4ac,40px 4px #37e,41px 4px #37e,42px 4px #44d,43px 4px #47e,44px 4px #8d6,45px 4px #5ba,46px 4px #38e,47px 4px #38e,48px 4px #37e,49px 4px #44d,50px 4px #43b,51px 4px #43c,52px 4px #43c,53px 4px #43c,54px 4px #43b,55px 4px #43c,56px 4px #43c,57px 4px #43c,58px 4px #44c,59px 4px #9b6,60px 4px #45e,61px 4px #4ac,62px 4px #ad5,63px 4px #8d6,64px 4px #38e,65px 4px #45e,66px 4px #44d,67px 4px #43c,68px 4px #43b,69px 4px #43c,70px 4px #43c,71px 4px #43c,72px 4px #46d,73px 4px #7d7,74px 4px #9d5,75px 4px #49d,76px 4px #46e,77px 4px #45e,78px 4px #37e,79px 4px #43b,80px 4px #38e,81px 4px #37e,82px 4px #37e,83px 4px #44d,84px 4px #45e,85px 4px #45e,86px 4px #46e,87px 4px #44d,88px 4px #43b,89px 4px #43c,90px 4px #44d,91px 4px #43c,92px 4px #45e,93px 4px #44c,94px 4px #49d,95px 4px #8d6,96px 4px #47d,97px 4px #45d,98px 4px #44d,99px 4px #49c,100px 4px #9d6,101px 4px #7c8,102px 4px #35c,103px 4px #5ba,104px 4px #6c8,105px 4px #37e,106px 4px #37e,107px 4px #45d,108px 4px #45d,109px 4px #44d,110px 4px #46e,111px 4px #45e,112px 4px #46e,113px 4px #34c,114px 4px #39e,115px 4px #46e,116px 4px #43c,117px 4px #43b,118px 4px #43b,119px 4px #43b,120px 4px #43b,1px 5px #45d,2px 5px #45d,3px 5px #44d,4px 5px #44d,5px 5px #44d,6px 5px #44d,7px 5px #43c,8px 5px #43c,9px 5px #44d,10px 5px #43d,11px 5px #44d,12px 5px #44d,13px 5px #46e,14px 5px #45e,15px 5px #45e,16px 5px #37e,17px 5px #46e,18px 5px #44d,19px 5px #44d,20px 5px #5ca,21px 5px #ad4,22px 5px #9d5,23px 5px #49d,24px 5px #44d,25px 5px #39e,26px 5px #38e,27px 5px #47e,28px 5px #7d7,29px 5px #5ca,30px 5px #45d,31px 5px #36d,32px 5px #39d,33px 5px #3ad,34px 5px #37e,35px 5px #46e,36px 5px #46e,37px 5px #45e,38px 5px #37e,39px 5px #46e,40px 5px #46e,41px 5px #46e,42px 5px #44d,43px 5px #45e,44px 5px #5c9,45px 5px #4bc,46px 5px #39e,47px 5px #39e,48px 5px #37e,49px 5px #44d,50px 5px #43b,51px 5px #43c,52px 5px #43c,53px 5px #43c,54px 5px #43b,55px 5px #43c,56px 5px #43c,57px 5px #43c,58px 5px #43c,59px 5px #aa6,60px 5px #44e,61px 5px #47e,62px 5px #4bb,63px 5px #4ac,64px 5px #46e,65px 5px #44d,66px 5px #45d,67px 5px #44d,68px 5px #43c,69px 5px #45e,70px 5px #45e,71px 5px #45e,72px 5px #45e,73px 5px #4bc,74px 5px #5bb,75px 5px #47e,76px 5px #45e,77px 5px #44e,78px 5px #46e,79px 5px #43b,80px 5px #37e,81px 5px #37e,82px 5px #37e,83px 5px #45e,84px 5px #44e,85px 5px #45e,86px 5px #45e,87px 5px #44d,88px 5px #43c,89px 5px #43c,90px 5px #44d,91px 5px #43c,92px 5px #46e,93px 5px #34c,94px 5px #38e,95px 5px #4bc,96px 5px #46d,97px 5px #45d,98px 5px #44d,99px 5px #46d,100px 5px #4bc,101px 5px #4ac,102px 5px #43c,103px 5px #48d,104px 5px #4ac,105px 5px #46e,106px 5px #37e,107px 5px #46d,108px 5px #45d,109px 5px #46e,110px 5px #38e,111px 5px #38e,112px 5px #37e,113px 5px #44c,114px 5px #46e,115px 5px #45e,116px 5px #43c,117px 5px #32b,118px 5px #43b,119px 5px #43c,120px 5px #43c,1px 6px #37e,2px 6px #46e,3px 6px #45e,4px 6px #45d,5px 6px #45e,6px 6px #45e,7px 6px #44d,8px 6px #43c,9px 6px #44d,10px 6px #44d,11px 6px #45e,12px 6px #45e,13px 6px #37e,14px 6px #45e,15px 6px #45e,16px 6px #46e,17px 6px #46e,18px 6px #44d,19px 6px #43c,20px 6px #4ad,21px 6px #5ca,22px 6px #5bb,23px 6px #37e,24px 6px #44d,25px 6px #38e,26px 6px #37e,27px 6px #46e,28px 6px #4bc,29px 6px #49d,30px 6px #45d,31px 6px #45d,32px 6px #37e,33px 6px #37e,34px 6px #37e,35px 6px #37e,36px 6px #38e,37px 6px #46e,38px 6px #46e,39px 6px #45e,40px 6px #46e,41px 6px #45e,42px 6px #43c,43px 6px #44d,44px 6px #3ad,45px 6px #39e,46px 6px #38e,47px 6px #38e,48px 6px #45e,49px 6px #44d,50px 6px #43b,51px 6px #43c,52px 6px #43c,53px 6px #43b,54px 6px #43b,55px 6px #43c,56px 6px #43c,57px 6px #43b,58px 6px #43c,59px 6px #aa6,60px 6px #45e,61px 6px #44d,62px 6px #46e,63px 6px #37e,64px 6px #45e,65px 6px #44d,66px 6px #44d,67px 6px #44d,68px 6px #43c,69px 6px #46e,70px 6px #46e,71px 6px #45e,72px 6px #45e,73px 6px #38e,74px 6px #37e,75px 6px #45e,76px 6px #45e,77px 6px #44d,78px 6px #46e,79px 6px #43b,80px 6px #46e,81px 6px #46e,82px 6px #46e,83px 6px #44d,84px 6px #44d,85px 6px #46e,86px 6px #46e,87px 6px #45e,88px 6px #43c,89px 6px #43c,90px 6px #44d,91px 6px #43c,92px 6px #45e,93px 6px #43c,94px 6px #46e,95px 6px #37e,96px 6px #45d,97px 6px #45d,98px 6px #45e,99px 6px #45e,100px 6px #37e,101px 6px #45e,102px 6px #43c,103px 6px #46e,104px 6px #37e,105px 6px #45e,106px 6px #46e,107px 6px #45d,108px 6px #45d,109px 6px #45e,110px 6px #38e,111px 6px #39e,112px 6px #38e,113px 6px #34c,114px 6px #45e,115px 6px #45e,116px 6px #44d,117px 6px #42b,118px 6px #43c,119px 6px #43c,120px 6px #43c,1px 7px #46e,2px 7px #45e,3px 7px #44e,4px 7px #45e,5px 7px #45e,6px 7px #45e,7px 7px #44d,8px 7px #43c,9px 7px #44e,10px 7px #46e,11px 7px #37e,12px 7px #37e,13px 7px #38e,14px 7px #37e,15px 7px #45e,16px 7px #46e,17px 7px #46e,18px 7px #45e,19px 7px #44d,20px 7px #45e,21px 7px #38e,22px 7px #37e,23px 7px #46e,24px 7px #44c,25px 7px #37e,26px 7px #46e,27px 7px #45e,28px 7px #46e,29px 7px #46e,30px 7px #45d,31px 7px #44d,32px 7px #46e,33px 7px #46e,34px 7px #46e,35px 7px #37e,36px 7px #38e,37px 7px #46e,38px 7px #46e,39px 7px #38e,40px 7px #38e,41px 7px #46e,42px 7px #43c,43px 7px #45e,44px 7px #37e,45px 7px #46e,46px 7px #37e,47px 7px #37e,48px 7px #45e,49px 7px #44e,50px 7px #43b,51px 7px #43c,52px 7px #43c,53px 7px #43c,54px 7px #43b,55px 7px #43c,56px 7px #43c,57px 7px #43c,58px 7px #43c,59px 7px #ab6,60px 7px #46e,61px 7px #44d,62px 7px #46e,63px 7px #37e,64px 7px #45e,65px 7px #43d,66px 7px #44d,67px 7px #44d,68px 7px #44d,69px 7px #37e,70px 7px #37e,71px 7px #46e,72px 7px #46e,73px 7px #39e,74px 7px #38e,75px 7px #46e,76px 7px #46e,77px 7px #45e,78px 7px #46e,79px 7px #43b,80px 7px #37e,81px 7px #37e,82px 7px #46e,83px 7px #45d,84px 7px #44d,85px 7px #46e,86px 7px #45e,87px 7px #46e,88px 7px #43b,89px 7px #43b,90px 7px #44d,91px 7px #43c,92px 7px #44d,93px 7px #44c,94px 7px #37e,95px 7px #46e,96px 7px #45d,97px 7px #45d,98px 7px #45e,99px 7px #44d,100px 7px #46e,101px 7px #45e,102px 7px #43c,103px 7px #46e,104px 7px #38e,105px 7px #46e,106px 7px #46e,107px 7px #45e,108px 7px #45e,109px 7px #45e,110px 7px #38e,111px 7px #38e,112px 7px #38e,113px 7px #34c,114px 7px #45e,115px 7px #46e,116px 7px #45d,117px 7px #43c,118px 7px #43c,119px 7px #43c,120px 7px #43c,1px 8px #37e,2px 8px #38e,3px 8px #47e,4px 8px #37e,5px 8px #46e,6px 8px #46e,7px 8px #44d,8px 8px #43c,9px 8px #45e,10px 8px #37e,11px 8px #37e,12px 8px #37e,13px 8px #39e,14px 8px #38e,15px 8px #37e,16px 8px #46e,17px 8px #46e,18px 8px #45e,19px 8px #45d,20px 8px #46e,21px 8px #38e,22px 8px #39e,23px 8px #38e,24px 8px #44c,25px 8px #46e,26px 8px #45e,27px 8px #46e,28px 8px #45e,29px 8px #46e,30px 8px #35d,31px 8px #44d,32px 8px #38e,33px 8px #38e,34px 8px #46e,35px 8px #37e,36px 8px #39e,37px 8px #45e,38px 8px #37e,39px 8px #3bc,40px 8px #3ad,41px 8px #46e,42px 8px #43c,43px 8px #46e,44px 8px #3ad,45px 8px #37e,46px 8px #46e,47px 8px #39d,48px 8px #38e,49px 8px #46e,50px 8px #43b,51px 8px #44d,52px 8px #43c,53px 8px #43c,54px 8px #43b,55px 8px #44d,56px 8px #43c,57px 8px #43c,58px 8px #44d,59px 8px #ab6,60px 8px #46e,61px 8px #45e,62px 8px #37e,63px 8px #39e,64px 8px #46e,65px 8px #44d,66px 8px #44d,67px 8px #45d,68px 8px #45e,69px 8px #38e,70px 8px #37e,71px 8px #46e,72px 8px #37e,73px 8px #3bd,74px 8px #3bd,75px 8px #38e,76px 8px #37e,77px 8px #45e,78px 8px #47e,79px 8px #43c,80px 8px #3ae,81px 8px #39e,82px 8px #38e,83px 8px #38e,84px 8px #46e,85px 8px #46e,86px 8px #46e,87px 8px #38d,88px 8px #43c,89px 8px #43d,90px 8px #37e,91px 8px #44d,92px 8px #45e,93px 8px #35c,94px 8px #4bc,95px 8px #38e,96px 8px #36e,97px 8px #37e,98px 8px #37e,99px 8px #46e,100px 8px #39d,101px 8px #45e,102px 8px #44c,103px 8px #37e,104px 8px #3ad,105px 8px #38e,106px 8px #39d,107px 8px #37e,108px 8px #37e,109px 8px #37e,110px 8px #39e,111px 8px #46e,112px 8px #38e,113px 8px #35c,114px 8px #38e,115px 8px #46e,116px 8px #45d,117px 8px #43c,118px 8px #43c,119px 8px #43d,120px 8px #43d,1px 9px #39e,2px 9px #5bb,3px 9px #4bb,4px 9px #39e,5px 9px #37e,6px 9px #37e,7px 9px #44d,8px 9px #43c,9px 9px #45e,10px 9px #38e,11px 9px #39e,12px 9px #39e,13px 9px #3ae,14px 9px #3bd,15px 9px #6c9,16px 9px #39e,17px 9px #38e,18px 9px #37e,19px 9px #45d,20px 9px #39e,21px 9px #4bc,22px 9px #5ca,23px 9px #4bb,24px 9px #35c,25px 9px #46e,26px 9px #46e,27px 9px #3ad,28px 9px #3ad,29px 9px #39e,30px 9px #36d,31px 9px #36d,32px 9px #4bb,33px 9px #3bd,34px 9px #37e,35px 9px #38e,36px 9px #3ad,37px 9px #37e,38px 9px #38e,39px 9px #ad5,40px 9px #8c7,41px 9px #38e,42px 9px #44d,43px 9px #49d,44px 9px #8d7,45px 9px #38e,46px 9px #46e,47px 9px #4bb,48px 9px #7c8,49px 9px #38e,50px 9px #44d,51px 9px #46e,52px 9px #45e,53px 9px #44d,54px 9px #43c,55px 9px #37e,56px 9px #45d,57px 9px #45e,58px 9px #47d,59px 9px #ab6,60px 9px #37e,61px 9px #37e,62px 9px #4bc,63px 9px #5ca,64px 9px #38e,65px 9px #37e,66px 9px #46e,67px 9px #37e,68px 9px #38e,69px 9px #3ae,70px 9px #37e,71px 9px #38e,72px 9px #39e,73px 9px #4cb,74px 9px #6c8,75px 9px #39e,76px 9px #39e,77px 9px #46e,78px 9px #38e,79px 9px #43c,80px 9px #5ca,81px 9px #3bc,82px 9px #39e,83px 9px #4bc,84px 9px #39e,85px 9px #39e,86px 9px #3ad,87px 9px #8c7,88px 9px #34c,89px 9px #46e,90px 9px #5ba,91px 9px #46e,92px 9px #39e,93px 9px #669,94px 9px #bd4,95px 9px #3ad,96px 9px #38e,97px 9px #6a9,98px 9px #4bc,99px 9px #39e,100px 9px #9c6,101px 9px #39e,102px 9px #43c,103px 9px #3ad,104px 9px #7d8,105px 9px #3ad,106px 9px #7c8,107px 9px #8a8,108px 9px #38d,109px 9px #39d,110px 9px #4bb,111px 9px #37e,112px 9px #39d,113px 9px #56a,114px 9px #4bc,115px 9px #38e,116px 9px #36e,117px 9px #43d,118px 9px #43c,119px 9px #45e,120px 9px #45e,1px 10px #39e,2px 10px #6c9,3px 10px #9d6,4px 10px #39d,5px 10px #38e,6px 10px #38e,7px 10px #45e,8px 10px #44d,9px 10px #46e,10px 10px #39e,11px 10px #3bd,12px 10px #3bd,13px 10px #39e,14px 10px #3ad,15px 10px #7c8,16px 10px #3ad,17px 10px #39e,18px 10px #38e,19px 10px #46d,20px 10px #3ae,21px 10px #5ca,22px 10px #4cb,23px 10px #5ca,24px 10px #44d,25px 10px #46e,26px 10px #37e,27px 10px #5ca,28px 10px #8d7,29px 10px #3ae,30px 10px #36d,31px 10px #36d,32px 10px #4bb,33px 10px #3ad,34px 10px #37e,35px 10px #39e,36px 10px #3bd,37px 10px #38e,38px 10px #39e,39px 10px #dd3,40px 10px #ac5,41px 10px #3ad,42px 10px #45d,43px 10px #4bc,44px 10px #ce3,45px 10px #38e,46px 10px #45e,47px 10px #5ba,48px 10px #8d7,49px 10px #38e,50px 10px #45d,51px 10px #37e,52px 10px #46e,53px 10px #45e,54px 10px #43c,55px 10px #38e,56px 10px #46e,57px 10px #46e,58px 10px #48d,59px 10px #9c7,60px 10px #38e,61px 10px #38e,62px 10px #4bc,63px 10px #5cb,64px 10px #37e,65px 10px #3ae,66px 10px #36d,67px 10px #38d,68px 10px #39e,69px 10px #3ae,70px 10px #37e,71px 10px #38e,72px 10px #39e,73px 10px #5ca,74px 10px #7d8,75px 10px #3ae,76px 10px #3ad,77px 10px #46e,78px 10px #38e,79px 10px #43c,80px 10px #9d6,81px 10px #5c9,82px 10px #3ae,83px 10px #4bb,84px 10px #4bc,85px 10px #3bd,86px 10px #4cb,87px 10px #cd4,88px 10px #35c,89px 10px #37e,90px 10px #9d5,91px 10px #47e,92px 10px #39e,93px 10px #668,94px 10px #ed2,95px 10px #4cb,96px 10px #39d,97px 10px #8a8,98px 10px #6c9,99px 10px #39e,100px 10px #ad5,101px 10px #3ad,102px 10px #44c,103px 10px #4bb,104px 10px #9d6,105px 10px #3ae,106px 10px #7c8,107px 10px #aa6,108px 10px #39d,109px 10px #3bd,110px 10px #7c8,111px 10px #38e,112px 10px #39d,113px 10px #569,114px 10px #7c8,115px 10px #39e,116px 10px #37e,117px 10px #44d,118px 10px #44d,119px 10px #46e,120px 10px #46e,1px 11px #38e,2px 11px #4bc,3px 11px #3ad,4px 11px #39e,5px 11px #38e,6px 11px #37e,7px 11px #44d,8px 11px #44c,9px 11px #45e,10px 11px #37e,11px 11px #3ae,12px 11px #39e,13px 11px #37e,14px 11px #37e,15px 11px #38e,16px 11px #38e,17px 11px #37e,18px 11px #47e,19px 11px #45d,20px 11px #38e,21px 11px #39e,22px 11px #3bc,23px 11px #3bd,24px 11px #44c,25px 11px #37e,26px 11px #37e,27px 11px #39e,28px 11px #39e,29px 11px #39e,30px 11px #35d,31px 11px #45d,32px 11px #38e,33px 11px #37e,34px 11px #46e,35px 11px #37e,36px 11px #39e,37px 11px #37e,38px 11px #38e,39px 11px #6c9,40px 11px #5bb,41px 11px #39e,42px 11px #46d,43px 11px #3ad,44px 11px #5cb,45px 11px #46e,46px 11px #44d,47px 11px #49d,48px 11px #5bb,49px 11px #46e,50px 11px #43c,51px 11px #45e,52px 11px #45e,53px 11px #44d,54px 11px #43c,55px 11px #45e,56px 11px #44d,57px 11px #44d,58px 11px #46d,59px 11px #ab6,60px 11px #37e,61px 11px #46e,62px 11px #3ad,63px 11px #39e,64px 11px #45e,65px 11px #46e,66px 11px #46d,67px 11px #36e,68px 11px #38e,69px 11px #39e,70px 11px #46e,71px 11px #45e,72px 11px #37e,73px 11px #39e,74px 11px #3bd,75px 11px #38e,76px 11px #38e,77px 11px #45e,78px 11px #37e,79px 11px #43c,80px 11px #4cb,81px 11px #4bb,82px 11px #3ad,83px 11px #39d,84px 11px #48d,85px 11px #39e,86px 11px #39e,87px 11px #6ba,88px 11px #44c,89px 11px #46e,90px 11px #4ad,91px 11px #46e,92px 11px #38e,93px 11px #56a,94px 11px #6c9,95px 11px #3ae,96px 11px #38e,97px 11px #48c,98px 11px #38e,99px 11px #46e,100px 11px #5ab,101px 11px #39e,102px 11px #34c,103px 11px #3ad,104px 11px #4bb,105px 11px #39e,106px 11px #3ad,107px 11px #48d,108px 11px #37e,109px 11px #38e,110px 11px #3ad,111px 11px #37e,112px 11px #39e,113px 11px #46b,114px 11px #4bb,115px 11px #38e,116px 11px #46e,117px 11px #44d,118px 11px #44d,119px 11px #44d,120px 11px #44d,1px 12px #37e,2px 12px #37e,3px 12px #45e,4px 12px #47e,5px 12px #37e,6px 12px #45e,7px 12px #43c,8px 12px #43c,9px 12px #44d,10px 12px #45e,11px 12px #46e,12px 12px #44d,13px 12px #44d,14px 12px #44d,15px 12px #45e,16px 12px #45e,17px 12px #45e,18px 12px #45e,19px 12px #45d,20px 12px #46e,21px 12px #37e,22px 12px #38e,23px 12px #39e,24px 12px #44c,25px 12px #46e,26px 12px #45e,27px 12px #45e,28px 12px #44d,29px 12px #46e,30px 12px #44d,31px 12px #45d,32px 12px #46e,33px 12px #44d,34px 12px #45e,35px 12px #45e,36px 12px #46e,37px 12px #46e,38px 12px #37e,39px 12px #38e,40px 12px #37e,41px 12px #46e,42px 12px #45d,43px 12px #38e,44px 12px #38e,45px 12px #44d,46px 12px #45d,47px 12px #38e,48px 12px #38e,49px 12px #44d,50px 12px #43b,51px 12px #44d,52px 12px #43d,53px 12px #43c,54px 12px #43b,55px 12px #43d,56px 12px #43d,57px 12px #43c,58px 12px #44c,59px 12px #ab6,60px 12px #37e,61px 12px #45e,62px 12px #38e,63px 12px #46e,64px 12px #44d,65px 12px #44d,66px 12px #45d,67px 12px #45d,68px 12px #46e,69px 12px #38e,70px 12px #46e,71px 12px #45e,72px 12px #37e,73px 12px #37e,74px 12px #46e,75px 12px #46e,76px 12px #45e,77px 12px #43d,78px 12px #45e,79px 12px #43b,80px 12px #38e,81px 12px #38e,82px 12px #38e,83px 12px #46e,84px 12px #45e,85px 12px #45e,86px 12px #46e,87px 12px #37e,88px 12px #43b,89px 12px #45e,90px 12px #46e,91px 12px #44d,92px 12px #37e,93px 12px #35c,94px 12px #39e,95px 12px #37e,96px 12px #45d,97px 12px #45d,98px 12px #45e,99px 12px #45e,100px 12px #38e,101px 12px #38e,102px 12px #34c,103px 12px #38e,104px 12px #39e,105px 12px #38e,106px 12px #37e,107px 12px #45e,108px 12px #36e,109px 12px #46e,110px 12px #37e,111px 12px #46e,112px 12px #39e,113px 12px #35c,114px 12px #3ae,115px 12px #46e,116px 12px #44d,117px 12px #43c,118px 12px #43c,119px 12px #43c,120px 12px #43c,1px 13px #37e,2px 13px #45e,3px 13px #44d,4px 13px #45e,5px 13px #46e,6px 13px #45e,7px 13px #43c,8px 13px #43c,9px 13px #44d,10px 13px #45e,11px 13px #45e,12px 13px #44d,13px 13px #44d,14px 13px #44d,15px 13px #43d,16px 13px #44d,17px 13px #44d,18px 13px #44d,19px 13px #44d,20px 13px #44d,21px 13px #46e,22px 13px #46e,23px 13px #46e,24px 13px #43c,25px 13px #45e,26px 13px #45e,27px 13px #44d,28px 13px #44d,29px 13px #44d,30px 13px #43c,31px 13px #44d,32px 13px #44d,33px 13px #43c,34px 13px #44d,35px 13px #44d,36px 13px #44d,37px 13px #45e,38px 13px #45e,39px 13px #46e,40px 13px #45e,41px 13px #45e,42px 13px #44d,43px 13px #46e,44px 13px #45e,45px 13px #45e,46px 13px #37e,47px 13px #38e,48px 13px #37e,49px 13px #44d,50px 13px #43b,51px 13px #43c,52px 13px #43b,53px 13px #32b,54px 13px #32b,55px 13px #43c,56px 13px #43c,57px 13px #43c,58px 13px #44c,59px 13px #ab6,60px 13px #46e,61px 13px #45e,62px 13px #37e,63px 13px #46e,64px 13px #45e,65px 13px #44d,66px 13px #44d,67px 13px #45d,68px 13px #45e,69px 13px #37e,70px 13px #45e,71px 13px #45e,72px 13px #46e,73px 13px #45e,74px 13px #44d,75px 13px #44d,76px 13px #43d,77px 13px #43c,78px 13px #45e,79px 13px #43b,80px 13px #45e,81px 13px #37e,82px 13px #47e,83px 13px #44d,84px 13px #43c,85px 13px #44d,86px 13px #46e,87px 13px #46e,88px 13px #43c,89px 13px #44d,90px 13px #44d,91px 13px #44c,92px 13px #45e,93px 13px #43c,94px 13px #46e,95px 13px #44d,96px 13px #44d,97px 13px #44d,98px 13px #45e,99px 13px #44d,100px 13px #37e,101px 13px #38e,102px 13px #34c,103px 13px #46e,104px 13px #37e,105px 13px #46e,106px 13px #45d,107px 13px #44d,108px 13px #45e,109px 13px #46e,110px 13px #46e,111px 13px #45e,112px 13px #46e,113px 13px #44c,114px 13px #38e,115px 13px #45e,116px 13px #43c,117px 13px #43c,118px 13px #43c,119px 13px #43c,120px 13px #43c,1px 14px #38e,2px 14px #45e,3px 14px #44d,4px 14px #44d,5px 14px #45e,6px 14px #45e,7px 14px #44d,8px 14px #43c,9px 14px #44d,10px 14px #45e,11px 14px #46e,12px 14px #44d,13px 14px #45e,14px 14px #44d,15px 14px #43c,16px 14px #43c,17px 14px #43c,18px 14px #43c,19px 14px #44c,20px 14px #44d,21px 14px #46e,22px 14px #46e,23px 14px #45e,24px 14px #43b,25px 14px #45d,26px 14px #45e,27px 14px #44d,28px 14px #44d,29px 14px #43d,30px 14px #43c,31px 14px #43c,32px 14px #43c,33px 14px #43c,34px 14px #43c,35px 14px #44d,36px 14px #43d,37px 14px #45e,38px 14px #45e,39px 14px #45e,40px 14px #44d,41px 14px #44d,42px 14px #44c,43px 14px #44e,44px 14px #45e,45px 14px #45e,46px 14px #37e,47px 14px #38e,48px 14px #37e,49px 14px #44d,50px 14px #43b,51px 14px #32b,52px 14px #32a,53px 14px #32a,54px 14px #32b,55px 14px #43b,56px 14px #43c,57px 14px #43c,58px 14px #44c,59px 14px #ab6,60px 14px #45e,61px 14px #44d,62px 14px #45e,63px 14px #46e,64px 14px #45e,65px 14px #44d,66px 14px #44d,67px 14px #45d,68px 14px #44d,69px 14px #46e,70px 14px #45e,71px 14px #45e,72px 14px #45e,73px 14px #45e,74px 14px #44d,75px 14px #44d,76px 14px #43d,77px 14px #43c,78px 14px #45e,79px 14px #43b,80px 14px #45e,81px 14px #46e,82px 14px #46e,83px 14px #43c,84px 14px #43c,85px 14px #44d,86px 14px #38e,87px 14px #37e,88px 14px #43c,89px 14px #44d,90px 14px #44d,91px 14px #44c,92px 14px #45e,93px 14px #43c,94px 14px #45e,95px 14px #44d,96px 14px #44d,97px 14px #45d,98px 14px #44e,99px 14px #44d,100px 14px #45e,101px 14px #37e,102px 14px #34c,103px 14px #46e,104px 14px #46e,105px 14px #45e,106px 14px #44d,107px 14px #43d,108px 14px #45d,109px 14px #45e,110px 14px #46e,111px 14px #45e,112px 14px #45e,113px 14px #43c,114px 14px #37e,115px 14px #45e,116px 14px #43c,117px 14px #43b,118px 14px #43c,119px 14px #43c,120px 14px #43c"></i></div><div class="sp" style="left:164.3px;top:124.3px"><i style="box-shadow:1px 1px #43d,2px 1px #43c,3px 1px #59b,4px 1px #de2,5px 1px #ad5,6px 1px #45d,7px 1px #38e,8px 1px #6c9,9px 1px #de2,10px 1px #fd1,11px 1px #fd1,12px 1px #fc2,13px 1px #fc1,14px 1px #fc2,15px 1px #ee1,16px 1px #bd4,17px 1px #ce3,18px 1px #de2,19px 1px #768,20px 1px #4ac,21px 1px #45e,22px 1px #45e,23px 1px #45e,24px 1px #43c,25px 1px #44d,26px 1px #4ac,27px 1px #ce3,28px 1px #de2,29px 1px #ce3,30px 1px #48b,31px 1px #48c,32px 1px #de2,33px 1px #de2,34px 1px #6b9,35px 1px #43c,36px 1px #43d,37px 1px #44d,38px 1px #43c,39px 1px #69b,40px 1px #79a,41px 1px #68b,42px 1px #44d,43px 1px #5bb,44px 1px #6c8,45px 1px #4bb,46px 1px #46e,47px 1px #44d,48px 1px #44d,49px 1px #43c,50px 1px #43b,51px 1px #44d,52px 1px #44d,53px 1px #46d,54px 1px #69a,55px 1px #58b,56px 1px #44d,57px 1px #77a,58px 1px #aa6,59px 1px #43c,60px 1px #6b9,61px 1px #de2,62px 1px #bd3,63px 1px #47d,64px 1px #44d,65px 1px #47e,66px 1px #5ca,67px 1px #5c9,68px 1px #39d,69px 1px #44d,70px 1px #44d,71px 1px #44e,72px 1px #44d,73px 1px #43d,74px 1px #43c,75px 1px #44d,76px 1px #44d,77px 1px #44d,78px 1px #43c,79px 1px #43c,80px 1px #43c,81px 1px #44d,82px 1px #43c,83px 1px #44d,84px 1px #45e,85px 1px #43c,86px 1px #44d,87px 1px #44d,88px 1px #44d,89px 1px #43d,90px 1px #43b,91px 1px #43c,92px 1px #46e,93px 1px #38e,94px 1px #bd4,95px 1px #fd1,96px 1px #fd1,97px 1px #fc1,98px 1px #ed1,99px 1px #7c8,100px 1px #9d6,101px 1px #ad4,102px 1px #57b,103px 1px #37e,104px 1px #49c,105px 1px #de2,106px 1px #ad5,107px 1px #bd4,108px 1px #de2,109px 1px #48c,110px 1px #58b,111px 1px #ce2,112px 1px #cd3,113px 1px #ad4,114px 1px #ed1,115px 1px #fd1,116px 1px #ed1,117px 1px #6b9,118px 1px #43c,119px 1px #43c,120px 1px #43c,1px 2px #43c,2px 2px #44d,3px 2px #47d,4px 2px #bd3,5px 2px #8c7,6px 2px #44d,7px 2px #46e,8px 2px #4bc,9px 2px #ad4,10px 2px #ee1,11px 2px #ee1,12px 2px #ee1,13px 2px #fd1,14px 2px #fd1,15px 2px #ee2,16px 2px #7d7,17px 2px #8d6,18px 2px #9d6,19px 2px #569,20px 2px #38e,21px 2px #46e,22px 2px #46e,23px 2px #46e,24px 2px #43c,25px 2px #44d,26px 2px #39d,27px 2px #8d6,28px 2px #ad5,29px 2px #8d6,30px 2px #37c,31px 2px #36c,32px 2px #bd4,33px 2px #bd3,34px 2px #59b,35px 2px #43c,36px 2px #44d,37px 2px #44d,38px 2px #43d,39px 2px #bd4,40px 2px #ee2,41px 2px #ad5,42px 2px #44d,43px 2px #4bc,44px 2px #6c8,45px 2px #4bc,46px 2px #44d,47px 2px #44d,48px 2px #45e,49px 2px #43c,50px 2px #43b,51px 2px #44d,52px 2px #44d,53px 2px #59b,54px 2px #de2,55px 2px #ad5,56px 2px #45d,57px 2px #779,58px 2px #aa6,59px 2px #43c,60px 2px #49c,61px 2px #ad5,62px 2px #7d7,63px 2px #45d,64px 2px #44d,65px 2px #45d,66px 2px #4bc,67px 2px #4cc,68px 2px #37e,69px 2px #44d,70px 2px #44d,71px 2px #44d,72px 2px #44d,73px 2px #43c,74px 2px #43c,75px 2px #43d,76px 2px #43d,77px 2px #43c,78px 2px #43c,79px 2px #43c,80px 2px #43c,81px 2px #43d,82px 2px #43c,83px 2px #45d,84px 2px #37e,85px 2px #43c,86px 2px #44d,87px 2px #44d,88px 2px #43d,89px 2px #43d,90px 2px #43b,91px 2px #43c,92px 2px #45e,93px 2px #37e,94px 2px #8d7,95px 2px #ee2,96px 2px #ee1,97px 2px #ee1,98px 2px #de2,99px 2px #5bb,100px 2px #7d7,101px 2px #8d6,102px 2px #46c,103px 2px #38e,104px 2px #47d,105px 2px #ad4,106px 2px #7c8,107px 2px #8d7,108px 2px #ad4,109px 2px #47e,110px 2px #48d,111px 2px #ad4,112px 2px #9d6,113px 2px #8d6,114px 2px #ee2,115px 2px #fe1,116px 2px #ed2,117px 2px #5bb,118px 2px #43c,119px 2px #43b,120px 2px #43b,1px 3px #44d,2px 3px #45e,3px 3px #37e,4px 3px #8d6,5px 3px #6ba,6px 3px #43c,7px 3px #45d,8px 3px #3ad,9px 3px #7d7,10px 3px #de2,11px 3px #ee2,12px 3px #de2,13px 3px #ee1,14px 3px #ee1,15px 3px #cd3,16px 3px #5ca,17px 3px #4cb,18px 3px #5c9,19px 3px #46a,20px 3px #38e,21px 3px #37e,22px 3px #46e,23px 3px #45e,24px 3px #43c,25px 3px #44d,26px 3px #37e,27px 3px #5ca,28px 3px #7d8,29px 3px #5ca,30px 3px #36d,31px 3px #35d,32px 3px #7d7,33px 3px #9d6,34px 3px #48d,35px 3px #44d,36px 3px #44d,37px 3px #45e,38px 3px #44d,39px 3px #8d6,40px 3px #de2,41px 3px #7c8,42px 3px #43c,43px 3px #39d,44px 3px #3bc,45px 3px #39d,46px 3px #44d,47px 3px #44d,48px 3px #44d,49px 3px #44d,50px 3px #43b,51px 3px #44d,52px 3px #44d,53px 3px #47d,54px 3px #bd4,55px 3px #8c7,56px 3px #44d,57px 3px #779,58px 3px #9a6,59px 3px #43c,60px 3px #47d,61px 3px #6c8,62px 3px #5ca,63px 3px #45e,64px 3px #45d,65px 3px #45d,66px 3px #3bd,67px 3px #3bc,68px 3px #46e,69px 3px #44d,70px 3px #44d,71px 3px #44d,72px 3px #43c,73px 3px #43c,74px 3px #43c,75px 3px #44d,76px 3px #45d,77px 3px #44d,78px 3px #44d,79px 3px #43c,80px 3px #44d,81px 3px #44d,82px 3px #44d,83px 3px #46e,84px 3px #38e,85px 3px #43c,86px 3px #44d,87px 3px #44d,88px 3px #44d,89px 3px #44d,90px 3px #43b,91px 3px #43c,92px 3px #46e,93px 3px #46e,94px 3px #6c9,95px 3px #de2,96px 3px #ee2,97px 3px #ee2,98px 3px #bd3,99px 3px #4ac,100px 3px #4cb,101px 3px #6c9,102px 3px #46d,103px 3px #38e,104px 3px #46e,105px 3px #6c9,106px 3px #4ab,107px 3px #6c9,108px 3px #7d8,109px 3px #46e,110px 3px #46e,111px 3px #6c8,112px 3px #6c9,113px 3px #6c9,114px 3px #ee2,115px 3px #ee1,116px 3px #de2,117px 3px #4ac,118px 3px #43c,119px 3px #43b,120px 3px #43b,1px 4px #43d,2px 4px #45e,3px 4px #46e,4px 4px #5c9,5px 4px #4ac,6px 4px #43b,7px 4px #44d,8px 4px #39e,9px 4px #6c9,10px 4px #ad4,11px 4px #ce3,12px 4px #de2,13px 4px #de2,14px 4px #de2,15px 4px #9d5,16px 4px #3bc,17px 4px #38e,18px 4px #38e,19px 4px #34c,20px 4px #46e,21px 4px #45e,22px 4px #45e,23px 4px #45d,24px 4px #43c,25px 4px #45e,26px 4px #46e,27px 4px #3ad,28px 4px #4ac,29px 4px #3ad,30px 4px #44d,31px 4px #45d,32px 4px #6c9,33px 4px #6c8,34px 4px #46d,35px 4px #44d,36px 4px #43c,37px 4px #44d,38px 4px #43c,39px 4px #5ba,40px 4px #bd4,41px 4px #6ba,42px 4px #43c,43px 4px #46e,44px 4px #39e,45px 4px #46e,46px 4px #45e,47px 4px #44d,48px 4px #44d,49px 4px #43d,50px 4px #43c,51px 4px #45e,52px 4px #45e,53px 4px #47e,54px 4px #7d7,55px 4px #5ba,56px 4px #43c,57px 4px #768,58px 4px #aa5,59px 4px #43c,60px 4px #45d,61px 4px #4ac,62px 4px #39d,63px 4px #46e,64px 4px #46e,65px 4px #45e,66px 4px #3ae,67px 4px #3ad,68px 4px #45d,69px 4px #44d,70px 4px #43d,71px 4px #44d,72px 4px #44d,73px 4px #43c,74px 4px #43c,75px 4px #44d,76px 4px #46e,77px 4px #45e,78px 4px #45e,79px 4px #44d,80px 4px #45e,81px 4px #46e,82px 4px #46e,83px 4px #45e,84px 4px #46e,85px 4px #43c,86px 4px #43d,87px 4px #44d,88px 4px #45e,89px 4px #46e,90px 4px #43c,91px 4px #44c,92px 4px #37e,93px 4px #37e,94px 4px #4bb,95px 4px #ad4,96px 4px #cd3,97px 4px #cd3,98px 4px #9d6,99px 4px #39d,100px 4px #3bd,101px 4px #4cb,102px 4px #45d,103px 4px #47e,104px 4px #44d,105px 4px #3ad,106px 4px #48d,107px 4px #4bb,108px 4px #5ca,109px 4px #45e,110px 4px #45e,111px 4px #3ad,112px 4px #4cb,113px 4px #4cb,114px 4px #de2,115px 4px #ee2,116px 4px #ce3,117px 4px #49d,118px 4px #43c,119px 4px #43b,120px 4px #42b,1px 5px #44d,2px 5px #45e,3px 5px #44d,4px 5px #3ad,5px 5px #37d,6px 5px #42b,7px 5px #43c,8px 5px #37e,9px 5px #4bc,10px 5px #7d7,11px 5px #ad4,12px 5px #bd4,13px 5px #cd3,14px 5px #ce3,15px 5px #7d7,16px 5px #3ad,17px 5px #46e,18px 5px #46e,19px 5px #44c,20px 5px #44d,21px 5px #43d,22px 5px #44d,23px 5px #45e,24px 5px #43c,25px 5px #44e,26px 5px #45e,27px 5px #45e,28px 5px #37e,29px 5px #45e,30px 5px #44d,31px 5px #45d,32px 5px #39d,33px 5px #4bc,34px 5px #45d,35px 5px #44d,36px 5px #43c,37px 5px #44d,38px 5px #43d,39px 5px #5ab,40px 5px #8d6,41px 5px #49c,42px 5px #43c,43px 5px #45e,44px 5px #45e,45px 5px #45e,46px 5px #46e,47px 5px #44d,48px 5px #44d,49px 5px #43d,50px 5px #43c,51px 5px #45e,52px 5px #46e,53px 5px #46e,54px 5px #6c9,55px 5px #4ac,56px 5px #43c,57px 5px #768,58px 5px #9a6,59px 5px #43b,60px 5px #44c,61px 5px #37e,62px 5px #46e,63px 5px #45e,64px 5px #46e,65px 5px #46e,66px 5px #37e,67px 5px #38e,68px 5px #44d,69px 5px #43d,70px 5px #43c,71px 5px #44d,72px 5px #44d,73px 5px #43c,74px 5px #43d,75px 5px #44d,76px 5px #45e,77px 5px #44d,78px 5px #45e,79px 5px #44d,80px 5px #37e,81px 5px #38e,82px 5px #37e,83px 5px #45e,84px 5px #44e,85px 5px #43c,86px 5px #43d,87px 5px #44d,88px 5px #46e,89px 5px #38e,90px 5px #45d,91px 5px #44d,92px 5px #37e,93px 5px #37e,94px 5px #3ad,95px 5px #9d6,96px 5px #bd4,97px 5px #ad4,98px 5px #6c8,99px 5px #37e,100px 5px #38e,101px 5px #3ad,102px 5px #44d,103px 5px #45e,104px 5px #44d,105px 5px #46e,106px 5px #44d,107px 5px #48d,108px 5px #3ad,109px 5px #45e,110px 5px #44d,111px 5px #37e,112px 5px #39e,113px 5px #3ad,114px 5px #bd4,115px 5px #de2,116px 5px #bd4,117px 5px #48d,118px 5px #43c,119px 5px #43c,120px 5px #43b,1px 6px #45e,2px 6px #45e,3px 6px #44d,4px 6px #46e,5px 6px #44c,6px 6px #43b,7px 6px #43b,8px 6px #45d,9px 6px #39e,10px 6px #4bc,11px 6px #5ba,12px 6px #6c9,13px 6px #ad4,14px 6px #bd4,15px 6px #6c9,16px 6px #37e,17px 6px #45e,18px 6px #44d,19px 6px #44c,20px 6px #44d,21px 6px #43b,22px 6px #43d,23px 6px #44e,24px 6px #43c,25px 6px #44d,26px 6px #44d,27px 6px #44e,28px 6px #45e,29px 6px #46e,30px 6px #44d,31px 6px #35d,32px 6px #46e,33px 6px #37e,34px 6px #45d,35px 6px #44d,36px 6px #43c,37px 6px #44d,38px 6px #43c,39px 6px #38e,40px 6px #4bb,41px 6px #47e,42px 6px #44d,43px 6px #46e,44px 6px #45e,45px 6px #46e,46px 6px #46e,47px 6px #45e,48px 6px #44d,49px 6px #44d,50px 6px #43c,51px 6px #45e,52px 6px #45e,53px 6px #44d,54px 6px #4ad,55px 6px #48d,56px 6px #45e,57px 6px #779,58px 6px #9a6,59px 6px #43b,60px 6px #43c,61px 6px #45e,62px 6px #44d,63px 6px #44d,64px 6px #46e,65px 6px #46e,66px 6px #47e,67px 6px #45e,68px 6px #44d,69px 6px #44d,70px 6px #43c,71px 6px #44d,72px 6px #45e,73px 6px #44d,74px 6px #44d,75px 6px #45e,76px 6px #46e,77px 6px #44d,78px 6px #45e,79px 6px #44d,80px 6px #46e,81px 6px #37e,82px 6px #37e,83px 6px #45e,84px 6px #45e,85px 6px #44d,86px 6px #44d,87px 6px #44d,88px 6px #46e,89px 6px #38e,90px 6px #45e,91px 6px #44d,92px 6px #38e,93px 6px #37e,94px 6px #39e,95px 6px #4bb,96px 6px #5ba,97px 6px #5ba,98px 6px #4ac,99px 6px #46e,100px 6px #45e,101px 6px #46e,102px 6px #43c,103px 6px #45e,104px 6px #44d,105px 6px #44d,106px 6px #43d,107px 6px #45e,108px 6px #37e,109px 6px #45e,110px 6px #43d,111px 6px #46e,112px 6px #46e,113px 6px #38e,114px 6px #ad5,115px 6px #bd3,116px 6px #8d6,117px 6px #37d,118px 6px #43c,119px 6px #43c,120px 6px #43c,1px 7px #46e,2px 7px #46e,3px 7px #45e,4px 7px #45e,5px 7px #43c,6px 7px #43c,7px 7px #43c,8px 7px #44d,9px 7px #37e,10px 7px #45e,11px 7px #37e,12px 7px #3ad,13px 7px #7d7,14px 7px #8d6,15px 7px #4bb,16px 7px #44d,17px 7px #44d,18px 7px #44d,19px 7px #43c,20px 7px #44d,21px 7px #43c,22px 7px #44d,23px 7px #44d,24px 7px #43c,25px 7px #44d,26px 7px #44d,27px 7px #45e,28px 7px #46e,29px 7px #47e,30px 7px #44d,31px 7px #35d,32px 7px #37e,33px 7px #37e,34px 7px #45e,35px 7px #45d,36px 7px #44d,37px 7px #44d,38px 7px #43c,39px 7px #46e,40px 7px #37e,41px 7px #46e,42px 7px #44d,43px 7px #37e,44px 7px #46e,45px 7px #46e,46px 7px #37e,47px 7px #45e,48px 7px #46e,49px 7px #44d,50px 7px #43c,51px 7px #46e,52px 7px #46e,53px 7px #45e,54px 7px #37e,55px 7px #46e,56px 7px #45e,57px 7px #779,58px 7px #aa5,59px 7px #43b,60px 7px #44c,61px 7px #45e,62px 7px #44d,63px 7px #45d,64px 7px #38e,65px 7px #38e,66px 7px #38e,67px 7px #37e,68px 7px #44d,69px 7px #44d,70px 7px #44d,71px 7px #45e,72px 7px #45e,73px 7px #45d,74px 7px #44d,75px 7px #46e,76px 7px #38e,77px 7px #45e,78px 7px #46e,79px 7px #44d,80px 7px #44d,81px 7px #46e,82px 7px #46e,83px 7px #46e,84px 7px #46e,85px 7px #44d,86px 7px #45e,87px 7px #44d,88px 7px #46e,89px 7px #38e,90px 7px #45e,91px 7px #44d,92px 7px #37e,93px 7px #37e,94px 7px #38e,95px 7px #46e,96px 7px #38e,97px 7px #37e,98px 7px #46e,99px 7px #44d,100px 7px #46e,101px 7px #45e,102px 7px #43c,103px 7px #46e,104px 7px #44d,105px 7px #44d,106px 7px #44d,107px 7px #45e,108px 7px #45e,109px 7px #44d,110px 7px #43c,111px 7px #46e,112px 7px #45e,113px 7px #47e,114px 7px #8d7,115px 7px #ad5,116px 7px #8d7,117px 7px #36d,118px 7px #43c,119px 7px #43c,120px 7px #43c,1px 8px #47e,2px 8px #37e,3px 8px #38e,4px 8px #38e,5px 8px #44d,6px 8px #44d,7px 8px #43d,8px 8px #45e,9px 8px #37e,10px 8px #45e,11px 8px #45e,12px 8px #46e,13px 8px #39e,14px 8px #39e,15px 8px #39d,16px 8px #37e,17px 8px #46e,18px 8px #45e,19px 8px #44c,20px 8px #46e,21px 8px #45e,22px 8px #45e,23px 8px #45e,24px 8px #43c,25px 8px #44d,26px 8px #44d,27px 8px #46e,28px 8px #38e,29px 8px #38e,30px 8px #44d,31px 8px #35d,32px 8px #38e,33px 8px #3ae,34px 8px #46e,35px 8px #45d,36px 8px #44d,37px 8px #44e,38px 8px #44d,39px 8px #37e,40px 8px #37e,41px 8px #39e,42px 8px #44d,43px 8px #46e,44px 8px #46e,45px 8px #45e,46px 8px #37e,47px 8px #37e,48px 8px #39e,49px 8px #45e,50px 8px #43c,51px 8px #37e,52px 8px #37e,53px 8px #46e,54px 8px #39e,55px 8px #46e,56px 8px #45e,57px 8px #77a,58px 8px #aa5,59px 8px #43c,60px 8px #44d,61px 8px #37e,62px 8px #37e,63px 8px #37e,64px 8px #39e,65px 8px #3ae,66px 8px #39e,67px 8px #38e,68px 8px #45e,69px 8px #45e,70px 8px #45e,71px 8px #37e,72px 8px #46e,73px 8px #36d,74px 8px #45d,75px 8px #37e,76px 8px #37e,77px 8px #45e,78px 8px #37e,79px 8px #45d,80px 8px #46e,81px 8px #46e,82px 8px #46e,83px 8px #37e,84px 8px #46e,85px 8px #44d,86px 8px #45e,87px 8px #37e,88px 8px #37e,89px 8px #3ad,90px 8px #37e,91px 8px #44d,92px 8px #37e,93px 8px #37e,94px 8px #39e,95px 8px #37e,96px 8px #47e,97px 8px #46e,98px 8px #37e,99px 8px #45e,100px 8px #38e,101px 8px #46e,102px 8px #44d,103px 8px #37e,104px 8px #46e,105px 8px #38e,106px 8px #46e,107px 8px #37e,108px 8px #46e,109px 8px #46e,110px 8px #46e,111px 8px #3ae,112px 8px #46e,113px 8px #46e,114px 8px #4bb,115px 8px #5ca,116px 8px #4bc,117px 8px #45d,118px 8px #43c,119px 8px #44d,120px 8px #44d,1px 9px #39e,2px 9px #38e,3px 9px #3bd,4px 9px #7c9,5px 9px #48d,6px 9px #46e,7px 9px #44d,8px 9px #37e,9px 9px #38e,10px 9px #46e,11px 9px #44d,12px 9px #37e,13px 9px #47e,14px 9px #38e,15px 9px #7c9,16px 9px #5ba,17px 9px #39e,18px 9px #39e,19px 9px #35c,20px 9px #39e,21px 9px #39e,22px 9px #38e,23px 9px #37e,24px 9px #44d,25px 9px #37e,26px 9px #46e,27px 9px #37e,28px 9px #6c9,29px 9px #4ac,30px 9px #45d,31px 9px #35d,32px 9px #3ae,33px 9px #5ca,34px 9px #38e,35px 9px #45d,36px 9px #45e,37px 9px #45e,38px 9px #44d,39px 9px #3ad,40px 9px #3bd,41px 9px #5cb,42px 9px #45d,43px 9px #37e,44px 9px #38e,45px 9px #37e,46px 9px #38e,47px 9px #4bc,48px 9px #8d7,49px 9px #38e,50px 9px #44d,51px 9px #38e,52px 9px #39e,53px 9px #38e,54px 9px #7c9,55px 9px #39e,56px 9px #39e,57px 9px #69a,58px 9px #aa6,59px 9px #44d,60px 9px #46e,61px 9px #39e,62px 9px #39e,63px 9px #4bb,64px 9px #4ac,65px 9px #3bd,66px 9px #3ad,67px 9px #3ae,68px 9px #38e,69px 9px #46e,70px 9px #46e,71px 9px #37e,72px 9px #45e,73px 9px #37e,74px 9px #38d,75px 9px #39e,76px 9px #38e,77px 9px #37e,78px 9px #37e,79px 9px #46d,80px 9px #39e,81px 9px #37e,82px 9px #37e,83px 9px #38e,84px 9px #46e,85px 9px #44d,86px 9px #38e,87px 9px #6c9,88px 9px #39e,89px 9px #4bc,90px 9px #39e,91px 9px #45d,92px 9px #39e,93px 9px #39e,94px 9px #8c8,95px 9px #3ad,96px 9px #3ad,97px 9px #39e,98px 9px #39e,99px 9px #3ad,100px 9px #6c9,101px 9px #38e,102px 9px #46e,103px 9px #4bc,104px 9px #3ae,105px 9px #9d6,106px 9px #49c,107px 9px #4bc,108px 9px #4bc,109px 9px #38e,110px 9px #3ad,111px 9px #6c9,112px 9px #37e,113px 9px #37e,114px 9px #39e,115px 9px #4ad,116px 9px #49c,117px 9px #44d,118px 9px #44d,119px 9px #45e,120px 9px #45e,1px 10px #39e,2px 10px #38e,3px 10px #3bd,4px 10px #dd2,5px 10px #49c,6px 10px #46e,7px 10px #45e,8px 10px #38e,9px 10px #38e,10px 10px #46e,11px 10px #44d,12px 10px #39d,13px 10px #37e,14px 10px #48d,15px 10px #7c8,16px 10px #6b9,17px 10px #39e,18px 10px #3bd,19px 10px #35c,20px 10px #39e,21px 10px #3bd,22px 10px #3ad,23px 10px #3ad,24px 10px #45e,25px 10px #3ad,26px 10px #37e,27px 10px #39d,28px 10px #cd3,29px 10px #5ba,30px 10px #35d,31px 10px #45d,32px 10px #4ac,33px 10px #8d7,34px 10px #38e,35px 10px #45e,36px 10px #46e,37px 10px #45e,38px 10px #45e,39px 10px #5bb,40px 10px #5ca,41px 10px #6c8,42px 10px #45e,43px 10px #39e,44px 10px #4ac,45px 10px #3ad,46px 10px #39e,47px 10px #6c8,48px 10px #bd3,49px 10px #3ad,50px 10px #45d,51px 10px #3ae,52px 10px #39e,53px 10px #39e,54px 10px #ad6,55px 10px #3bd,56px 10px #4cc,57px 10px #6aa,58px 10px #ab6,59px 10px #45e,60px 10px #37e,61px 10px #3ad,62px 10px #3ad,63px 10px #6c9,64px 10px #4bc,65px 10px #4cb,66px 10px #4bc,67px 10px #3bc,68px 10px #3bc,69px 10px #37e,70px 10px #46e,71px 10px #38e,72px 10px #46e,73px 10px #38d,74px 10px #49c,75px 10px #4ac,76px 10px #38e,77px 10px #39e,78px 10px #39e,79px 10px #46d,80px 10px #39e,81px 10px #37e,82px 10px #37e,83px 10px #37e,84px 10px #47e,85px 10px #45d,86px 10px #39e,87px 10px #bd4,88px 10px #3bd,89px 10px #4cb,90px 10px #39e,91px 10px #45d,92px 10px #2ae,93px 10px #3ae,94px 10px #bd5,95px 10px #4cb,96px 10px #4bb,97px 10px #4bc,98px 10px #39e,99px 10px #7c8,100px 10px #bd4,101px 10px #39e,102px 10px #37e,103px 10px #5ca,104px 10px #3ad,105px 10px #cd3,106px 10px #6ba,107px 10px #7c8,108px 10px #ad5,109px 10px #3ad,110px 10px #4cb,111px 10px #6c9,112px 10px #37e,113px 10px #38e,114px 10px #39d,115px 10px #4ac,116px 10px #5ab,117px 10px #45e,118px 10px #45e,119px 10px #46e,120px 10px #45e,1px 11px #37e,2px 11px #46e,3px 11px #3ae,4px 11px #7c8,5px 11px #48d,6px 11px #46e,7px 11px #44d,8px 11px #37e,9px 11px #38e,10px 11px #37e,11px 11px #45e,12px 11px #39e,13px 11px #46e,14px 11px #46e,15px 11px #6aa,16px 11px #5ac,17px 11px #38e,18px 11px #39e,19px 11px #35c,20px 11px #38e,21px 11px #3ad,22px 11px #3ae,23px 11px #3ae,24px 11px #45d,25px 11px #38e,26px 11px #38e,27px 11px #39e,28px 11px #7c9,29px 11px #4ac,30px 11px #44d,31px 11px #44d,32px 11px #37e,33px 11px #39d,34px 11px #46e,35px 11px #44d,36px 11px #44d,37px 11px #45e,38px 11px #44d,39px 11px #3ad,40px 11px #3bd,41px 11px #5bb,42px 11px #45d,43px 11px #38e,44px 11px #39d,45px 11px #39e,46px 11px #38e,47px 11px #3ad,48px 11px #4bb,49px 11px #39e,50px 11px #45d,51px 11px #39e,52px 11px #38e,53px 11px #37e,54px 11px #5ba,55px 11px #39e,56px 11px #38e,57px 11px #6aa,58px 11px #aa6,59px 11px #44d,60px 11px #45d,61px 11px #39e,62px 11px #38e,63px 11px #39d,64px 11px #39e,65px 11px #3ad,66px 11px #38e,67px 11px #39e,68px 11px #38e,69px 11px #46e,70px 11px #45e,71px 11px #46e,72px 11px #45e,73px 11px #37e,74px 11px #37d,75px 11px #38e,76px 11px #46e,77px 11px #37e,78px 11px #38e,79px 11px #45d,80px 11px #37e,81px 11px #45e,82px 11px #44d,83px 11px #46e,84px 11px #46e,85px 11px #44d,86px 11px #38e,87px 11px #6c9,88px 11px #3ae,89px 11px #3bd,90px 11px #37e,91px 11px #44d,92px 11px #38e,93px 11px #38e,94px 11px #6ba,95px 11px #39e,96px 11px #39e,97px 11px #38e,98px 11px #38e,99px 11px #3bd,100px 11px #7c8,101px 11px #38e,102px 11px #46d,103px 11px #3ad,104px 11px #38e,105px 11px #5bb,106px 11px #49d,107px 11px #3ad,108px 11px #4ac,109px 11px #39e,110px 11px #3ad,111px 11px #4bc,112px 11px #37e,113px 11px #37e,114px 11px #38e,115px 11px #49d,116px 11px #49d,117px 11px #44d,118px 11px #44d,119px 11px #44d,120px 11px #44d,1px 12px #45e,2px 12px #44e,3px 12px #37e,4px 12px #39e,5px 12px #45d,6px 12px #44d,7px 12px #43c,8px 12px #46e,9px 12px #38e,10px 12px #37e,11px 12px #45e,12px 12px #37e,13px 12px #45e,14px 12px #44d,15px 12px #37e,16px 12px #38e,17px 12px #37e,18px 12px #37e,19px 12px #34c,20px 12px #46e,21px 12px #46e,22px 12px #46e,23px 12px #46e,24px 12px #44d,25px 12px #45e,26px 12px #46e,27px 12px #37e,28px 12px #39e,29px 12px #47e,30px 12px #43c,31px 12px #43c,32px 12px #44d,33px 12px #45d,34px 12px #43c,35px 12px #43c,36px 12px #43c,37px 12px #44d,38px 12px #43c,39px 12px #37e,40px 12px #46e,41px 12px #38e,42px 12px #44d,43px 12px #45e,44px 12px #46e,45px 12px #45e,46px 12px #45e,47px 12px #47e,48px 12px #37e,49px 12px #37e,50px 12px #44d,51px 12px #38e,52px 12px #46e,53px 12px #45e,54px 12px #37e,55px 12px #46e,56px 12px #45e,57px 12px #79a,58px 12px #9a6,59px 12px #43c,60px 12px #44c,61px 12px #46e,62px 12px #46e,63px 12px #45d,64px 12px #37e,65px 12px #37e,66px 12px #46e,67px 12px #46e,68px 12px #44d,69px 12px #45e,70px 12px #44d,71px 12px #44d,72px 12px #44d,73px 12px #45d,74px 12px #45d,75px 12px #46e,76px 12px #46e,77px 12px #46e,78px 12px #46e,79px 12px #44c,80px 12px #44d,81px 12px #44d,82px 12px #43c,83px 12px #44d,84px 12px #45e,85px 12px #44d,86px 12px #46e,87px 12px #37e,88px 12px #37e,89px 12px #38e,90px 12px #45e,91px 12px #44d,92px 12px #37e,93px 12px #46e,94px 12px #37e,95px 12px #46e,96px 12px #46e,97px 12px #46e,98px 12px #37e,99px 12px #38e,100px 12px #39e,101px 12px #46e,102px 12px #44d,103px 12px #38e,104px 12px #46e,105px 12px #46e,106px 12px #46e,107px 12px #45e,108px 12px #45e,109px 12px #46e,110px 12px #45e,111px 12px #38e,112px 12px #45e,113px 12px #45e,114px 12px #47e,115px 12px #38e,116px 12px #38d,117px 12px #43c,118px 12px #43c,119px 12px #43c,120px 12px #43c,1px 13px #44d,2px 13px #44d,3px 13px #45e,4px 13px #46e,5px 13px #43c,6px 13px #43b,7px 13px #43b,8px 13px #46e,9px 13px #38e,10px 13px #37e,11px 13px #44e,12px 13px #46e,13px 13px #44d,14px 13px #44d,15px 13px #45e,16px 13px #45e,17px 13px #45e,18px 13px #46e,19px 13px #34c,20px 13px #45e,21px 13px #45e,22px 13px #44d,23px 13px #44d,24px 13px #43c,25px 13px #43c,26px 13px #44d,27px 13px #46e,28px 13px #46e,29px 13px #45e,30px 13px #43c,31px 13px #44d,32px 13px #44d,33px 13px #43c,34px 13px #42b,35px 13px #43b,36px 13px #43d,37px 13px #44e,38px 13px #43c,39px 13px #46e,40px 13px #44d,41px 13px #45e,42px 13px #44d,43px 13px #44d,44px 13px #44e,45px 13px #44e,46px 13px #45e,47px 13px #45e,48px 13px #45e,49px 13px #45e,50px 13px #44d,51px 13px #46e,52px 13px #45e,53px 13px #44d,54px 13px #45d,55px 13px #45e,56px 13px #44d,57px 13px #78a,58px 13px #aa5,59px 13px #43b,60px 13px #43c,61px 13px #45e,62px 13px #45e,63px 13px #44d,64px 13px #45e,65px 13px #46e,66px 13px #44d,67px 13px #44d,68px 13px #43c,69px 13px #44d,70px 13px #44d,71px 13px #44d,72px 13px #44d,73px 13px #44d,74px 13px #44d,75px 13px #45e,76px 13px #46e,77px 13px #45e,78px 13px #45e,79px 13px #43c,80px 13px #44d,81px 13px #44d,82px 13px #43c,83px 13px #44d,84px 13px #45e,85px 13px #44c,86px 13px #45e,87px 13px #45e,88px 13px #45e,89px 13px #45e,90px 13px #43d,91px 13px #44d,92px 13px #38e,93px 13px #46e,94px 13px #46e,95px 13px #45e,96px 13px #45e,97px 13px #45e,98px 13px #46e,99px 13px #46e,100px 13px #46e,101px 13px #45e,102px 13px #44d,103px 13px #37e,104px 13px #45e,105px 13px #44d,106px 13px #45e,107px 13px #44d,108px 13px #44d,109px 13px #45e,110px 13px #45e,111px 13px #47e,112px 13px #46e,113px 13px #46e,114px 13px #37e,115px 13px #37e,116px 13px #37d,117px 13px #43c,118px 13px #43b,119px 13px #43b,120px 13px #43c,1px 14px #44d,2px 14px #44d,3px 14px #44d,4px 14px #46e,5px 14px #43c,6px 14px #43b,7px 14px #43b,8px 14px #45e,9px 14px #37e,10px 14px #46e,11px 14px #44d,12px 14px #45e,13px 14px #44e,14px 14px #45e,15px 14px #44d,16px 14px #44d,17px 14px #44d,18px 14px #46e,19px 14px #44c,20px 14px #45e,21px 14px #45e,22px 14px #44d,23px 14px #44d,24px 14px #43c,25px 14px #43c,26px 14px #44d,27px 14px #45e,28px 14px #46e,29px 14px #45e,30px 14px #44d,31px 14px #45d,32px 14px #45e,33px 14px #43d,34px 14px #43b,35px 14px #43b,36px 14px #44d,37px 14px #45e,38px 14px #43c,39px 14px #46e,40px 14px #44d,41px 14px #44e,42px 14px #44d,43px 14px #44d,44px 14px #45e,45px 14px #45e,46px 14px #46e,47px 14px #45e,48px 14px #45e,49px 14px #44d,50px 14px #43c,51px 14px #45e,52px 14px #45e,53px 14px #44d,54px 14px #44d,55px 14px #44d,56px 14px #43d,57px 14px #77a,58px 14px #aa6,59px 14px #43b,60px 14px #44c,61px 14px #46e,62px 14px #45e,63px 14px #44d,64px 14px #45e,65px 14px #46e,66px 14px #44d,67px 14px #44d,68px 14px #43d,69px 14px #44d,70px 14px #44d,71px 14px #45e,72px 14px #44e,73px 14px #44d,74px 14px #44d,75px 14px #44d,76px 14px #45e,77px 14px #45e,78px 14px #44d,79px 14px #43c,80px 14px #44d,81px 14px #44d,82px 14px #43c,83px 14px #44d,84px 14px #46e,85px 14px #44d,86px 14px #45e,87px 14px #45e,88px 14px #45e,89px 14px #45d,90px 14px #43c,91px 14px #44c,92px 14px #38e,93px 14px #46e,94px 14px #46e,95px 14px #45e,96px 14px #45e,97px 14px #44e,98px 14px #45e,99px 14px #46e,100px 14px #44e,101px 14px #44d,102px 14px #44d,103px 14px #37e,104px 14px #45e,105px 14px #43c,106px 14px #45e,107px 14px #44d,108px 14px #45e,109px 14px #45e,110px 14px #45e,111px 14px #37e,112px 14px #46e,113px 14px #46e,114px 14px #37e,115px 14px #47e,116px 14px #36d,117px 14px #43b,118px 14px #43b,119px 14px #43b,120px 14px #43c"></i></div><div class="sp" style="left:164.3px;top:162.3px"><i style="box-shadow:1px 1px #38e,2px 1px #6c9,3px 1px #8d6,4px 1px #9d6,5px 1px #7d7,6px 1px #3ad,7px 1px #44d,8px 1px #45d,9px 1px #8d7,10px 1px #bd4,11px 1px #7c8,12px 1px #45d,13px 1px #43c,14px 1px #43c,15px 1px #43b,16px 1px #32b,17px 1px #42b,18px 1px #32b,19px 1px #32b,20px 1px #43b,21px 1px #43c,22px 1px #43c,23px 1px #43c,24px 1px #43b,25px 1px #43c,26px 1px #43c,27px 1px #44d,28px 1px #3bc,29px 1px #5ca,30px 1px #59a,31px 1px #35d,32px 1px #43b,33px 1px #43b,34px 1px #49c,35px 1px #ed2,36px 1px #fd1,37px 1px #ed2,38px 1px #46c,39px 1px #43b,40px 1px #43c,41px 1px #43c,42px 1px #43b,43px 1px #43c,44px 1px #44d,45px 1px #44e,46px 1px #43c,47px 1px #43c,48px 1px #43b,49px 1px #45c,50px 1px #68a,51px 1px #79a,52px 1px #69a,53px 1px #39d,54px 1px #ad4,55px 1px #ad5,56px 1px #4ab,57px 1px #aa6,58px 1px #779,59px 1px #43c,60px 1px #44d,61px 1px #44c,62px 1px #43c,63px 1px #43b,64px 1px #43b,65px 1px #43b,66px 1px #43d,67px 1px #43b,68px 1px #43b,69px 1px #43b,70px 1px #43c,71px 1px #43c,72px 1px #43b,73px 1px #43b,74px 1px #32b,75px 1px #32b,76px 1px #32b,77px 1px #43b,78px 1px #43b,79px 1px #43b,80px 1px #43b,81px 1px #43b,82px 1px #43b,83px 1px #43b,84px 1px #43b,85px 1px #43b,86px 1px #43c,87px 1px #43c,88px 1px #43b,89px 1px #43b,90px 1px #42b,91px 1px #32b,92px 1px #42b,93px 1px #43b,94px 1px #43b,95px 1px #43b,96px 1px #42b,97px 1px #32b,98px 1px #43b,99px 1px #42b,100px 1px #32b,101px 1px #32b,102px 1px #32b,103px 1px #45d,104px 1px #39e,105px 1px #3bd,106px 1px #3bd,107px 1px #3bd,108px 1px #bd4,109px 1px #de2,110px 1px #48c,111px 1px #43c,112px 1px #43c,113px 1px #43b,114px 1px #43b,115px 1px #43b,116px 1px #43c,117px 1px #43c,118px 1px #43b,119px 1px #43c,120px 1px #43c,1px 2px #46e,2px 2px #3ad,3px 2px #4cb,4px 2px #4cb,5px 2px #3bc,6px 2px #3ad,7px 2px #3ad,8px 2px #39e,9px 2px #7c8,10px 2px #bd4,11px 2px #7c8,12px 2px #44d,13px 2px #43c,14px 2px #43c,15px 2px #43b,16px 2px #42b,17px 2px #43b,18px 2px #43b,19px 2px #42b,20px 2px #43c,21px 2px #43c,22px 2px #43c,23px 2px #43c,24px 2px #43b,25px 2px #43c,26px 2px #43c,27px 2px #43c,28px 2px #39e,29px 2px #4cc,30px 2px #48c,31px 2px #45d,32px 2px #44d,33px 2px #44d,34px 2px #47d,35px 2px #ce3,36px 2px #ee2,37px 2px #bd4,38px 2px #35c,39px 2px #43b,40px 2px #43b,41px 2px #43b,42px 2px #43b,43px 2px #44d,44px 2px #45e,45px 2px #44d,46px 2px #44d,47px 2px #43c,48px 2px #43c,49px 2px #48d,50px 2px #ce3,51px 2px #ee2,52px 2px #cd3,53px 2px #39d,54px 2px #7d7,55px 2px #8d6,56px 2px #48d,57px 2px #aa5,58px 2px #779,59px 2px #43b,60px 2px #45d,61px 2px #44d,62px 2px #43c,63px 2px #43b,64px 2px #43b,65px 2px #43b,66px 2px #43c,67px 2px #43b,68px 2px #43b,69px 2px #43b,70px 2px #43b,71px 2px #43b,72px 2px #43b,73px 2px #43b,74px 2px #32b,75px 2px #32b,76px 2px #32b,77px 2px #32b,78px 2px #43b,79px 2px #43b,80px 2px #43b,81px 2px #42b,82px 2px #32b,83px 2px #43b,84px 2px #43b,85px 2px #43b,86px 2px #43c,87px 2px #43c,88px 2px #43c,89px 2px #43b,90px 2px #42b,91px 2px #32b,92px 2px #43b,93px 2px #43b,94px 2px #43b,95px 2px #43b,96px 2px #32b,97px 2px #42b,98px 2px #43b,99px 2px #43b,100px 2px #32b,101px 2px #32b,102px 2px #32b,103px 2px #44d,104px 2px #38e,105px 2px #3ad,106px 2px #3bd,107px 2px #3ad,108px 2px #8c7,109px 2px #9d5,110px 2px #46d,111px 2px #43c,112px 2px #43c,113px 2px #43c,114px 2px #45d,115px 2px #35d,116px 2px #45d,117px 2px #44d,118px 2px #43c,119px 2px #44d,120px 2px #44d,1px 3px #46e,2px 3px #47e,3px 3px #38e,4px 3px #3ae,5px 3px #3ae,6px 3px #3ae,7px 3px #3ae,8px 3px #39e,9px 3px #6c9,10px 3px #9d5,11px 3px #6c9,12px 3px #37e,13px 3px #38e,14px 3px #45d,15px 3px #44d,16px 3px #43c,17px 3px #43b,18px 3px #43c,19px 3px #43b,20px 3px #43b,21px 3px #43c,22px 3px #43c,23px 3px #43b,24px 3px #43b,25px 3px #43c,26px 3px #43c,27px 3px #43b,28px 3px #37e,29px 3px #3bd,30px 3px #38c,31px 3px #35d,32px 3px #46e,33px 3px #45e,34px 3px #45e,35px 3px #9d6,36px 3px #de2,37px 3px #8d7,38px 3px #44c,39px 3px #42b,40px 3px #43b,41px 3px #43b,42px 3px #32b,43px 3px #43d,44px 3px #45e,45px 3px #44d,46px 3px #45e,47px 3px #44d,48px 3px #43c,49px 3px #44d,50px 3px #7c8,51px 3px #ad5,52px 3px #6c9,53px 3px #46e,54px 3px #5ca,55px 3px #6c9,56px 3px #37d,57px 3px #9a6,58px 3px #779,59px 3px #43b,60px 3px #44c,61px 3px #45d,62px 3px #44d,63px 3px #44d,64px 3px #45d,65px 3px #44d,66px 3px #44d,67px 3px #43b,68px 3px #43b,69px 3px #43c,70px 3px #43c,71px 3px #43c,72px 3px #43c,73px 3px #43b,74px 3px #43b,75px 3px #43c,76px 3px #43b,77px 3px #43c,78px 3px #43b,79px 3px #43b,80px 3px #43b,81px 3px #42b,82px 3px #32a,83px 3px #32b,84px 3px #43b,85px 3px #43b,86px 3px #43c,87px 3px #43c,88px 3px #43b,89px 3px #43b,90px 3px #42b,91px 3px #42b,92px 3px #43c,93px 3px #43c,94px 3px #43c,95px 3px #45d,96px 3px #44d,97px 3px #44d,98px 3px #45d,99px 3px #44d,100px 3px #43d,101px 3px #44d,102px 3px #44c,103px 3px #43c,104px 3px #37e,105px 3px #39e,106px 3px #3ae,107px 3px #3ae,108px 3px #4bb,109px 3px #6c9,110px 3px #46e,111px 3px #44d,112px 3px #44d,113px 3px #44d,114px 3px #37e,115px 3px #37e,116px 3px #46e,117px 3px #45e,118px 3px #44d,119px 3px #46e,120px 3px #37e,1px 4px #46e,2px 4px #45e,3px 4px #37e,4px 4px #38e,5px 4px #39e,6px 4px #39e,7px 4px #39e,8px 4px #37e,9px 4px #5ca,10px 4px #9d5,11px 4px #5ba,12px 4px #38e,13px 4px #38e,14px 4px #46e,15px 4px #44d,16px 4px #44d,17px 4px #45e,18px 4px #46e,19px 4px #44c,20px 4px #44d,21px 4px #45e,22px 4px #45d,23px 4px #44d,24px 4px #43b,25px 4px #43c,26px 4px #43c,27px 4px #43c,28px 4px #45d,29px 4px #38e,30px 4px #36d,31px 4px #36d,32px 4px #47e,33px 4px #45e,34px 4px #44d,35px 4px #6c9,36px 4px #ad4,37px 4px #6b9,38px 4px #43c,39px 4px #43c,40px 4px #44c,41px 4px #43c,42px 4px #43b,43px 4px #43d,44px 4px #45e,45px 4px #44d,46px 4px #44e,47px 4px #44d,48px 4px #43c,49px 4px #43c,50px 4px #49d,51px 4px #4bb,52px 4px #49d,53px 4px #45e,54px 4px #4bc,55px 4px #4cb,56px 4px #46d,57px 4px #9a6,58px 4px #68a,59px 4px #43c,60px 4px #44c,61px 4px #46e,62px 4px #44d,63px 4px #44d,64px 4px #45e,65px 4px #45e,66px 4px #44d,67px 4px #44d,68px 4px #44d,69px 4px #45e,70px 4px #46e,71px 4px #45e,72px 4px #45e,73px 4px #44d,74px 4px #44d,75px 4px #45e,76px 4px #44d,77px 4px #45e,78px 4px #45e,79px 4px #43c,80px 4px #44d,81px 4px #44d,82px 4px #43c,83px 4px #43c,84px 4px #43b,85px 4px #42b,86px 4px #43b,87px 4px #43b,88px 4px #42b,89px 4px #32b,90px 4px #32b,91px 4px #32b,92px 4px #43b,93px 4px #43c,94px 4px #43c,95px 4px #46e,96px 4px #45d,97px 4px #44d,98px 4px #46e,99px 4px #45e,100px 4px #45e,101px 4px #45e,102px 4px #45d,103px 4px #43c,104px 4px #46e,105px 4px #39e,106px 4px #39e,107px 4px #39e,108px 4px #3ad,109px 4px #3ad,110px 4px #46e,111px 4px #46e,112px 4px #45e,113px 4px #44d,114px 4px #46e,115px 4px #45e,116px 4px #44e,117px 4px #44d,118px 4px #44d,119px 4px #46e,120px 4px #37e,1px 5px #45e,2px 5px #45e,3px 5px #45e,4px 5px #46e,5px 5px #37e,6px 5px #37e,7px 5px #37e,8px 5px #46e,9px 5px #5ba,10px 5px #8d6,11px 5px #5bb,12px 5px #46e,13px 5px #46e,14px 5px #44d,15px 5px #44d,16px 5px #44d,17px 5px #45e,18px 5px #46e,19px 5px #44c,20px 5px #44d,21px 5px #44d,22px 5px #46e,23px 5px #45e,24px 5px #43b,25px 5px #43b,26px 5px #43b,27px 5px #43c,28px 5px #43c,29px 5px #45d,30px 5px #44d,31px 5px #35d,32px 5px #46e,33px 5px #44e,34px 5px #44e,35px 5px #49d,36px 5px #6c9,37px 5px #48d,38px 5px #43b,39px 5px #44d,40px 5px #45e,41px 5px #44d,42px 5px #43b,43px 5px #43c,44px 5px #44d,45px 5px #44d,46px 5px #45e,47px 5px #44e,48px 5px #43d,49px 5px #44d,50px 5px #37e,51px 5px #37e,52px 5px #44d,53px 5px #44d,54px 5px #38e,55px 5px #39d,56px 5px #45d,57px 5px #9a6,58px 5px #68a,59px 5px #43c,60px 5px #44d,61px 5px #37e,62px 5px #45e,63px 5px #44d,64px 5px #45e,65px 5px #45e,66px 5px #44d,67px 5px #44d,68px 5px #44d,69px 5px #46e,70px 5px #46e,71px 5px #46e,72px 5px #45e,73px 5px #44d,74px 5px #45d,75px 5px #46e,76px 5px #44d,77px 5px #44d,78px 5px #44d,79px 5px #43c,80px 5px #43b,81px 5px #43c,82px 5px #43b,83px 5px #43c,84px 5px #43b,85px 5px #32a,86px 5px #43d,87px 5px #44d,88px 5px #45e,89px 5px #45e,90px 5px #43c,91px 5px #43c,92px 5px #43c,93px 5px #43c,94px 5px #45d,95px 5px #46e,96px 5px #45d,97px 5px #44d,98px 5px #45e,99px 5px #46e,100px 5px #45e,101px 5px #45e,102px 5px #44d,103px 5px #45e,104px 5px #45e,105px 5px #46e,106px 5px #37e,107px 5px #37e,108px 5px #46e,109px 5px #37e,110px 5px #38e,111px 5px #46e,112px 5px #46e,113px 5px #44d,114px 5px #45e,115px 5px #45e,116px 5px #45e,117px 5px #45e,118px 5px #45e,119px 5px #46e,120px 5px #46e,1px 6px #44e,2px 6px #45e,3px 6px #44e,4px 6px #45e,5px 6px #44d,6px 6px #45e,7px 6px #46e,8px 6px #45e,9px 6px #4bb,10px 6px #8d7,11px 6px #4ac,12px 6px #46e,13px 6px #46e,14px 6px #45e,15px 6px #45d,16px 6px #45d,17px 6px #46e,18px 6px #46e,19px 6px #44d,20px 6px #45e,21px 6px #45e,22px 6px #46e,23px 6px #46e,24px 6px #44c,25px 6px #45e,26px 6px #45e,27px 6px #37e,28px 6px #45e,29px 6px #44e,30px 6px #43c,31px 6px #45d,32px 6px #45e,33px 6px #44e,34px 6px #44e,35px 6px #45e,36px 6px #38e,37px 6px #44d,38px 6px #43b,39px 6px #44d,40px 6px #45e,41px 6px #45e,42px 6px #43c,43px 6px #43c,44px 6px #43c,45px 6px #44d,46px 6px #45e,47px 6px #44e,48px 6px #44d,49px 6px #45e,50px 6px #38e,51px 6px #37e,52px 6px #44d,53px 6px #44d,54px 6px #45e,55px 6px #46e,56px 6px #45d,57px 6px #aa6,58px 6px #67a,59px 6px #43c,60px 6px #44d,61px 6px #47e,62px 6px #46e,63px 6px #44d,64px 6px #46e,65px 6px #46e,66px 6px #45d,67px 6px #45d,68px 6px #45e,69px 6px #45e,70px 6px #45e,71px 6px #46e,72px 6px #45e,73px 6px #44d,74px 6px #45d,75px 6px #46e,76px 6px #45d,77px 6px #45e,78px 6px #45e,79px 6px #43c,80px 6px #43c,81px 6px #43c,82px 6px #43c,83px 6px #43c,84px 6px #42b,85px 6px #32b,86px 6px #44d,87px 6px #44e,88px 6px #45e,89px 6px #45e,90px 6px #43c,91px 6px #43c,92px 6px #43c,93px 6px #43c,94px 6px #46e,95px 6px #37e,96px 6px #45d,97px 6px #45d,98px 6px #37e,99px 6px #37e,100px 6px #45e,101px 6px #44d,102px 6px #44c,103px 6px #44d,104px 6px #44d,105px 6px #44d,106px 6px #45e,107px 6px #44d,108px 6px #44d,109px 6px #37e,110px 6px #39e,111px 6px #45e,112px 6px #45e,113px 6px #43d,114px 6px #37e,115px 6px #37e,116px 6px #46e,117px 6px #46e,118px 6px #46e,119px 6px #46e,120px 6px #45e,1px 7px #44d,2px 7px #45e,3px 7px #45e,4px 7px #46e,5px 7px #44d,6px 7px #45e,7px 7px #46e,8px 7px #45e,9px 7px #4ac,10px 7px #7d7,11px 7px #49c,12px 7px #46e,13px 7px #37e,14px 7px #46e,15px 7px #45d,16px 7px #36d,17px 7px #38e,18px 7px #37e,19px 7px #45d,20px 7px #46e,21px 7px #37e,22px 7px #37e,23px 7px #46e,24px 7px #44c,25px 7px #47e,26px 7px #37e,27px 7px #38e,28px 7px #37e,29px 7px #46e,30px 7px #44d,31px 7px #45d,32px 7px #45e,33px 7px #45e,34px 7px #45e,35px 7px #44d,36px 7px #45e,37px 7px #44d,38px 7px #43c,39px 7px #45e,40px 7px #45e,41px 7px #46e,42px 7px #43c,43px 7px #43d,44px 7px #43c,45px 7px #44d,46px 7px #45e,47px 7px #44d,48px 7px #44d,49px 7px #44d,50px 7px #37e,51px 7px #37e,52px 7px #45e,53px 7px #44d,54px 7px #45e,55px 7px #45e,56px 7px #45d,57px 7px #aa6,58px 7px #669,59px 7px #43b,60px 7px #44d,61px 7px #46e,62px 7px #46e,63px 7px #45e,64px 7px #46e,65px 7px #46e,66px 7px #44d,67px 7px #45d,68px 7px #46e,69px 7px #46e,70px 7px #46e,71px 7px #46e,72px 7px #44e,73px 7px #44d,74px 7px #45d,75px 7px #46e,76px 7px #37e,77px 7px #37e,78px 7px #38e,79px 7px #44d,80px 7px #44d,81px 7px #45e,82px 7px #45e,83px 7px #44d,84px 7px #43c,85px 7px #43b,86px 7px #44d,87px 7px #46e,88px 7px #46e,89px 7px #37e,90px 7px #44d,91px 7px #43c,92px 7px #44d,93px 7px #43c,94px 7px #46e,95px 7px #37e,96px 7px #44d,97px 7px #44d,98px 7px #37e,99px 7px #38e,100px 7px #45e,101px 7px #44d,102px 7px #43c,103px 7px #44d,104px 7px #45d,105px 7px #44d,106px 7px #45e,107px 7px #44d,108px 7px #44d,109px 7px #38e,110px 7px #3ae,111px 7px #46e,112px 7px #45e,113px 7px #44d,114px 7px #37e,115px 7px #37e,116px 7px #46e,117px 7px #46e,118px 7px #46e,119px 7px #37e,120px 7px #45e,1px 8px #45e,2px 8px #37e,3px 8px #38d,4px 8px #3ad,5px 8px #46e,6px 8px #46e,7px 8px #46e,8px 8px #46e,9px 8px #4ad,10px 8px #6c9,11px 8px #49d,12px 8px #45e,13px 8px #46e,14px 8px #37e,15px 8px #45e,16px 8px #38d,17px 8px #39d,18px 8px #38e,19px 8px #46d,20px 8px #37e,21px 8px #37e,22px 8px #37e,23px 8px #46e,24px 8px #44d,25px 8px #39e,26px 8px #39e,27px 8px #39e,28px 8px #38e,29px 8px #37e,30px 8px #44d,31px 8px #35d,32px 8px #45e,33px 8px #46e,34px 8px #46e,35px 8px #45e,36px 8px #48d,37px 8px #38d,38px 8px #43c,39px 8px #37e,40px 8px #37e,41px 8px #37e,42px 8px #44d,43px 8px #44d,44px 8px #44d,45px 8px #44d,46px 8px #45e,47px 8px #45d,48px 8px #45d,49px 8px #44d,50px 8px #37e,51px 8px #37e,52px 8px #38e,53px 8px #38e,54px 8px #38e,55px 8px #46e,56px 8px #45e,57px 8px #9a6,58px 8px #779,59px 8px #43c,60px 8px #45d,61px 8px #45e,62px 8px #46e,63px 8px #45e,64px 8px #46e,65px 8px #37e,66px 8px #44d,67px 8px #45d,68px 8px #44d,69px 8px #46e,70px 8px #37e,71px 8px #38e,72px 8px #45e,73px 8px #44d,74px 8px #45d,75px 8px #37e,76px 8px #3ae,77px 8px #38e,78px 8px #3ad,79px 8px #45d,80px 8px #37e,81px 8px #38e,82px 8px #38e,83px 8px #46e,84px 8px #44c,85px 8px #43c,86px 8px #46e,87px 8px #37e,88px 8px #38e,89px 8px #3ad,90px 8px #45e,91px 8px #44d,92px 8px #37e,93px 8px #46e,94px 8px #46e,95px 8px #46e,96px 8px #44d,97px 8px #44d,98px 8px #38e,99px 8px #38e,100px 8px #45e,101px 8px #45e,102px 8px #44d,103px 8px #46e,104px 8px #37e,105px 8px #46e,106px 8px #38e,107px 8px #37e,108px 8px #46e,109px 8px #3ad,110px 8px #4bb,111px 8px #46e,112px 8px #46e,113px 8px #44d,114px 8px #37e,115px 8px #38e,116px 8px #37e,117px 8px #37e,118px 8px #37e,119px 8px #39e,120px 8px #46e,1px 9px #38e,2px 9px #5ab,3px 9px #5bb,4px 9px #8d7,5px 9px #39e,6px 9px #37e,7px 9px #37e,8px 9px #4ac,9px 9px #5ba,10px 9px #6c9,11px 9px #39d,12px 9px #45e,13px 9px #37e,14px 9px #47e,15px 9px #37e,16px 9px #59b,17px 9px #5bb,18px 9px #37e,19px 9px #46d,20px 9px #38e,21px 9px #37e,22px 9px #38e,23px 9px #37e,24px 9px #45d,25px 9px #3ae,26px 9px #3bc,27px 9px #3ad,28px 9px #5cb,29px 9px #3ad,30px 9px #36d,31px 9px #37d,32px 9px #37e,33px 9px #37e,34px 9px #38e,35px 9px #37e,36px 9px #8c7,37px 9px #5bb,38px 9px #44d,39px 9px #39e,40px 9px #5ca,41px 9px #39d,42px 9px #45d,43px 9px #45e,44px 9px #45e,45px 9px #37e,46px 9px #3ad,47px 9px #59c,48px 9px #47d,49px 9px #37e,50px 9px #5ba,51px 9px #6c9,52px 9px #9c6,53px 9px #5ba,54px 9px #7c8,55px 9px #39e,56px 9px #38e,57px 9px #9b6,58px 9px #68a,59px 9px #44d,60px 9px #36e,61px 9px #45e,62px 9px #46e,63px 9px #37e,64px 9px #37e,65px 9px #38e,66px 9px #46e,67px 9px #47d,68px 9px #45e,69px 9px #37e,70px 9px #4bc,71px 9px #4ac,72px 9px #37e,73px 9px #45d,74px 9px #46d,75px 9px #39d,76px 9px #5ca,77px 9px #3ae,78px 9px #6c9,79px 9px #57c,80px 9px #39e,81px 9px #4bb,82px 9px #7c8,83px 9px #39e,84px 9px #45d,85px 9px #44c,86px 9px #37e,87px 9px #37e,88px 9px #39e,89px 9px #6c9,90px 9px #46e,91px 9px #45d,92px 9px #39e,93px 9px #4ad,94px 9px #38e,95px 9px #38e,96px 9px #36e,97px 9px #37d,98px 9px #4bb,99px 9px #3ad,100px 9px #39e,101px 9px #3ad,102px 9px #46d,103px 9px #3ad,104px 9px #3ad,105px 9px #3ad,106px 9px #6c9,107px 9px #4bb,108px 9px #5bb,109px 9px #cc4,110px 9px #9d6,111px 9px #39d,112px 9px #46e,113px 9px #44d,114px 9px #39e,115px 9px #4bc,116px 9px #5bb,117px 9px #3ae,118px 9px #38e,119px 9px #4bb,120px 9px #38e,1px 10px #39e,2px 10px #5ba,3px 10px #7c9,4px 10px #ad5,5px 10px #39e,6px 10px #37e,7px 10px #46e,8px 10px #5ab,9px 10px #9d6,10px 10px #7c8,11px 10px #3ad,12px 10px #46e,13px 10px #37e,14px 10px #37e,15px 10px #38e,16px 10px #8a7,17px 10px #6c9,18px 10px #38e,19px 10px #46e,20px 10px #3ad,21px 10px #39e,22px 10px #3ad,23px 10px #38e,24px 10px #45d,25px 10px #3ad,26px 10px #3bd,27px 10px #3ad,28px 10px #9d6,29px 10px #4cc,30px 10px #48b,31px 10px #37d,32px 10px #38e,33px 10px #37e,34px 10px #39e,35px 10px #3ad,36px 10px #bd3,37px 10px #9d7,38px 10px #45d,39px 10px #3bd,40px 10px #bd4,41px 10px #4ab,42px 10px #46d,43px 10px #37e,44px 10px #37e,45px 10px #39e,46px 10px #6c9,47px 10px #5bb,48px 10px #58c,49px 10px #39e,50px 10px #9d6,51px 10px #cd3,52px 10px #cb3,53px 10px #9c7,54px 10px #9d6,55px 10px #3bd,56px 10px #3ae,57px 10px #ab6,58px 10px #78a,59px 10px #44d,60px 10px #46e,61px 10px #45e,62px 10px #45e,63px 10px #38e,64px 10px #37e,65px 10px #38e,66px 10px #45e,67px 10px #58c,68px 10px #46e,69px 10px #38e,70px 10px #7c8,71px 10px #4ac,72px 10px #38e,73px 10px #45d,74px 10px #45d,75px 10px #4bc,76px 10px #8d7,77px 10px #3bd,78px 10px #8d6,79px 10px #78a,80px 10px #3bd,81px 10px #7d7,82px 10px #cd3,83px 10px #3ad,84px 10px #46d,85px 10px #44c,86px 10px #39e,87px 10px #46e,88px 10px #38e,89px 10px #7c8,90px 10px #47d,91px 10px #45d,92px 10px #3ae,93px 10px #4bb,94px 10px #3ad,95px 10px #39e,96px 10px #38d,97px 10px #6aa,98px 10px #7d7,99px 10px #3ad,100px 10px #3ad,101px 10px #4cb,102px 10px #47e,103px 10px #4bc,104px 10px #3bd,105px 10px #4bb,106px 10px #9d6,107px 10px #5ca,108px 10px #9d5,109px 10px #e82,110px 10px #dd3,111px 10px #6ca,112px 10px #37e,113px 10px #45d,114px 10px #3ad,115px 10px #5ca,116px 10px #9d6,117px 10px #4bc,118px 10px #39e,119px 10px #4cb,120px 10px #39e,1px 11px #46e,2px 11px #47e,3px 11px #49d,4px 11px #4ac,5px 11px #46e,6px 11px #44d,7px 11px #44d,8px 11px #47d,9px 11px #4ac,10px 11px #4cb,11px 11px #38e,12px 11px #45e,13px 11px #37e,14px 11px #46e,15px 11px #46e,16px 11px #49c,17px 11px #39d,18px 11px #46e,19px 11px #45d,20px 11px #39e,21px 11px #39e,22px 11px #38e,23px 11px #37e,24px 11px #44c,25px 11px #38e,26px 11px #37e,27px 11px #37e,28px 11px #3ad,29px 11px #39e,30px 11px #36d,31px 11px #36d,32px 11px #47e,33px 11px #46e,34px 11px #37e,35px 11px #47e,36px 11px #7c9,37px 11px #6c9,38px 11px #45d,39px 11px #3ae,40px 11px #5ca,41px 11px #49d,42px 11px #45d,43px 11px #46e,44px 11px #37e,45px 11px #38e,46px 11px #3ad,47px 11px #39d,48px 11px #47d,49px 11px #37e,50px 11px #4bb,51px 11px #5bb,52px 11px #7c8,53px 11px #5ba,54px 11px #5ca,55px 11px #38e,56px 11px #37e,57px 11px #9a7,58px 11px #77a,59px 11px #43c,60px 11px #45d,61px 11px #44d,62px 11px #44d,63px 11px #45e,64px 11px #45e,65px 11px #37e,66px 11px #44d,67px 11px #47d,68px 11px #45e,69px 11px #46e,70px 11px #3ad,71px 11px #38e,72px 11px #37e,73px 11px #45d,74px 11px #45d,75px 11px #39d,76px 11px #5ca,77px 11px #39e,78px 11px #4bb,79px 11px #56c,80px 11px #38e,81px 11px #39e,82px 11px #3ad,83px 11px #46e,84px 11px #45d,85px 11px #44d,86px 11px #39e,87px 11px #46e,88px 11px #46e,89px 11px #3ad,90px 11px #37e,91px 11px #45d,92px 11px #39e,93px 11px #3ad,94px 11px #39e,95px 11px #38e,96px 11px #36e,97px 11px #38d,98px 11px #4ac,99px 11px #37e,100px 11px #46e,101px 11px #39e,102px 11px #45d,103px 11px #39e,104px 11px #39e,105px 11px #3bd,106px 11px #6ca,107px 11px #39e,108px 11px #39d,109px 11px #9c7,110px 11px #8d7,111px 11px #38e,112px 11px #37e,113px 11px #45d,114px 11px #38e,115px 11px #3ad,116px 11px #5ac,117px 11px #39e,118px 11px #37e,119px 11px #3ad,120px 11px #37e,1px 12px #44d,2px 12px #44d,3px 12px #46e,4px 12px #45e,5px 12px #43c,6px 12px #44d,7px 12px #43c,8px 12px #45d,9px 12px #47d,10px 12px #4cc,11px 12px #37e,12px 12px #45e,13px 12px #46e,14px 12px #45e,15px 12px #44d,16px 12px #36d,17px 12px #37e,18px 12px #45e,19px 12px #44d,20px 12px #46e,21px 12px #45e,22px 12px #44d,23px 12px #44d,24px 12px #43c,25px 12px #45e,26px 12px #44d,27px 12px #45e,28px 12px #46e,29px 12px #45e,30px 12px #44d,31px 12px #45d,32px 12px #45e,33px 12px #44d,34px 12px #44d,35px 12px #44d,36px 12px #38e,37px 12px #38e,38px 12px #44d,39px 12px #38e,40px 12px #38e,41px 12px #46e,42px 12px #43c,43px 12px #43d,44px 12px #44d,45px 12px #45e,46px 12px #46e,47px 12px #45e,48px 12px #45e,49px 12px #45e,50px 12px #39e,51px 12px #39e,52px 12px #38e,53px 12px #47e,54px 12px #38e,55px 12px #45e,56px 12px #44d,57px 12px #9a6,58px 12px #779,59px 12px #43b,60px 12px #44d,61px 12px #43c,62px 12px #44d,63px 12px #44d,64px 12px #45e,65px 12px #46e,66px 12px #43c,67px 12px #44d,68px 12px #44d,69px 12px #44e,70px 12px #46e,71px 12px #46e,72px 12px #46e,73px 12px #45d,74px 12px #44d,75px 12px #46e,76px 12px #38e,77px 12px #37e,78px 12px #39e,79px 12px #45d,80px 12px #46e,81px 12px #46e,82px 12px #45e,83px 12px #43d,84px 12px #43d,85px 12px #44c,86px 12px #37e,87px 12px #45e,88px 12px #45e,89px 12px #37e,90px 12px #46e,91px 12px #44d,92px 12px #37e,93px 12px #37e,94px 12px #38e,95px 12px #46e,96px 12px #44d,97px 12px #45d,98px 12px #46e,99px 12px #44d,100px 12px #43c,101px 12px #45e,102px 12px #44d,103px 12px #46e,104px 12px #37e,105px 12px #38e,106px 12px #39e,107px 12px #46e,108px 12px #45d,109px 12px #38e,110px 12px #38e,111px 12px #44d,112px 12px #45e,113px 12px #44d,114px 12px #37e,115px 12px #38e,116px 12px #46e,117px 12px #46e,118px 12px #45e,119px 12px #37e,120px 12px #46e,1px 13px #44d,2px 13px #44e,3px 13px #44e,4px 13px #44d,5px 13px #43c,6px 13px #44d,7px 13px #43c,8px 13px #44d,9px 13px #45e,10px 13px #37e,11px 13px #46e,12px 13px #46e,13px 13px #37e,14px 13px #45d,15px 13px #43c,16px 13px #44d,17px 13px #45e,18px 13px #44d,19px 13px #43c,20px 13px #44d,21px 13px #44d,22px 13px #44d,23px 13px #44d,24px 13px #43c,25px 13px #44d,26px 13px #44d,27px 13px #44e,28px 13px #44d,29px 13px #44d,30px 13px #44d,31px 13px #44d,32px 13px #44d,33px 13px #43d,34px 13px #43c,35px 13px #44d,36px 13px #46e,37px 13px #45e,38px 13px #43c,39px 13px #46e,40px 13px #46e,41px 13px #44d,42px 13px #43b,43px 13px #43c,44px 13px #44d,45px 13px #44d,46px 13px #45e,47px 13px #44d,48px 13px #45e,49px 13px #45d,50px 13px #38e,51px 13px #38e,52px 13px #46e,53px 13px #45d,54px 13px #46e,55px 13px #45e,56px 13px #44d,57px 13px #9a6,58px 13px #779,59px 13px #43b,60px 13px #43c,61px 13px #43d,62px 13px #44d,63px 13px #43d,64px 13px #45e,65px 13px #46e,66px 13px #43c,67px 13px #43c,68px 13px #44d,69px 13px #44d,70px 13px #45e,71px 13px #46e,72px 13px #46e,73px 13px #45d,74px 13px #43d,75px 13px #44d,76px 13px #45e,77px 13px #46e,78px 13px #37e,79px 13px #44d,80px 13px #45e,81px 13px #45e,82px 13px #44d,83px 13px #43c,84px 13px #43c,85px 13px #43c,86px 13px #46e,87px 13px #45e,88px 13px #45e,89px 13px #46e,90px 13px #45e,91px 13px #44c,92px 13px #45e,93px 13px #44d,94px 13px #45e,95px 13px #45e,96px 13px #44d,97px 13px #44d,98px 13px #44d,99px 13px #43c,100px 13px #43c,101px 13px #44d,102px 13px #44d,103px 13px #44e,104px 13px #45e,105px 13px #46e,106px 13px #46e,107px 13px #44d,108px 13px #43c,109px 13px #44d,110px 13px #45e,111px 13px #44d,112px 13px #44d,113px 13px #43c,114px 13px #46e,115px 13px #37e,116px 13px #46e,117px 13px #46e,118px 13px #45e,119px 13px #46e,120px 13px #46e,1px 14px #45e,2px 14px #45e,3px 14px #44d,4px 14px #44d,5px 14px #43c,6px 14px #43d,7px 14px #43d,8px 14px #44d,9px 14px #45e,10px 14px #45e,11px 14px #46e,12px 14px #37e,13px 14px #37e,14px 14px #44d,15px 14px #43c,16px 14px #43c,17px 14px #44e,18px 14px #44d,19px 14px #43c,20px 14px #43d,21px 14px #45e,22px 14px #45e,23px 14px #45e,24px 14px #44c,25px 14px #44d,26px 14px #44d,27px 14px #45e,28px 14px #44d,29px 14px #44d,30px 14px #44d,31px 14px #44d,32px 14px #44d,33px 14px #43c,34px 14px #43c,35px 14px #45e,36px 14px #46e,37px 14px #45e,38px 14px #43c,39px 14px #45e,40px 14px #45e,41px 14px #44d,42px 14px #43b,43px 14px #43c,44px 14px #44d,45px 14px #44e,46px 14px #45e,47px 14px #44d,48px 14px #44d,49px 14px #43c,50px 14px #46e,51px 14px #37e,52px 14px #44d,53px 14px #44d,54px 14px #46e,55px 14px #46e,56px 14px #45d,57px 14px #aa6,58px 14px #779,59px 14px #43b,60px 14px #44c,61px 14px #44d,62px 14px #44d,63px 14px #43c,64px 14px #44d,65px 14px #45d,66px 14px #43c,67px 14px #43c,68px 14px #44d,69px 14px #44d,70px 14px #45e,71px 14px #46e,72px 14px #46e,73px 14px #44d,74px 14px #43c,75px 14px #44d,76px 14px #44d,77px 14px #45e,78px 14px #46e,79px 14px #44d,80px 14px #44e,81px 14px #44e,82px 14px #44d,83px 14px #43c,84px 14px #43c,85px 14px #43c,86px 14px #46e,87px 14px #45e,88px 14px #45e,89px 14px #45e,90px 14px #44d,91px 14px #43c,92px 14px #44d,93px 14px #43c,94px 14px #45e,95px 14px #45e,96px 14px #44d,97px 14px #43d,98px 14px #44d,99px 14px #43c,100px 14px #43c,101px 14px #43d,102px 14px #43c,103px 14px #44d,104px 14px #44e,105px 14px #46e,106px 14px #45e,107px 14px #44d,108px 14px #43c,109px 14px #44d,110px 14px #45e,111px 14px #44d,112px 14px #44d,113px 14px #43c,114px 14px #45e,115px 14px #46e,116px 14px #46e,117px 14px #46e,118px 14px #45e,119px 14px #46e,120px 14px #46e"></i></div><div class="sp" style="left:164.3px;top:200.5px"><i style="box-shadow:1px 1px #43c,2px 1px #43c,3px 1px #43c,4px 1px #43c,5px 1px #43c,6px 1px #43c,7px 1px #43b,8px 1px #42b,9px 1px #43b,10px 1px #43b,11px 1px #43c,12px 1px #39d,13px 1px #4cc,14px 1px #38e,15px 1px #43c,16px 1px #43c,17px 1px #43c,18px 1px #43b,19px 1px #43b,20px 1px #43c,21px 1px #43b,22px 1px #43b,23px 1px #43b,24px 1px #43b,25px 1px #43c,26px 1px #43b,27px 1px #43b,28px 1px #43b,29px 1px #43b,30px 1px #43b,31px 1px #43b,32px 1px #43c,33px 1px #43b,34px 1px #43b,35px 1px #43b,36px 1px #43b,37px 1px #43b,38px 1px #32b,39px 1px #43b,40px 1px #43c,41px 1px #43c,42px 1px #43b,43px 1px #43b,44px 1px #43b,45px 1px #43c,46px 1px #7c9,47px 1px #ed1,48px 1px #fd1,49px 1px #ad5,50px 1px #43c,51px 1px #43b,52px 1px #43c,53px 1px #43c,54px 1px #42b,55px 1px #43b,56px 1px #43c,57px 1px #45e,58px 1px #ce3,59px 1px #43c,60px 1px #43b,61px 1px #43c,62px 1px #43c,63px 1px #43c,64px 1px #43c,65px 1px #43c,66px 1px #43b,67px 1px #43b,68px 1px #43b,69px 1px #43b,70px 1px #43b,71px 1px #43b,72px 1px #43c,73px 1px #43c,74px 1px #43c,75px 1px #43c,76px 1px #43c,77px 1px #43c,78px 1px #43c,79px 1px #43b,80px 1px #43c,81px 1px #43c,82px 1px #43c,83px 1px #43c,84px 1px #43c,85px 1px #43b,86px 1px #43c,87px 1px #43c,88px 1px #43c,89px 1px #43c,90px 1px #44d,91px 1px #43c,92px 1px #43c,93px 1px #43c,94px 1px #43c,95px 1px #43c,96px 1px #43b,97px 1px #43b,98px 1px #43b,99px 1px #43b,100px 1px #43b,101px 1px #43c,102px 1px #43b,103px 1px #43c,104px 1px #43c,105px 1px #43b,106px 1px #43b,107px 1px #43c,108px 1px #43c,109px 1px #43c,110px 1px #43c,111px 1px #43c,112px 1px #43c,113px 1px #43b,114px 1px #43c,115px 1px #43c,116px 1px #7c8,117px 1px #ce2,118px 1px #6b9,119px 1px #43c,120px 1px #43c,1px 2px #43c,2px 2px #43b,3px 2px #43c,4px 2px #43c,5px 2px #43c,6px 2px #43c,7px 2px #43b,8px 2px #42b,9px 2px #43b,10px 2px #43b,11px 2px #43b,12px 2px #37e,13px 2px #3bd,14px 2px #37e,15px 2px #44c,16px 2px #44c,17px 2px #44c,18px 2px #43c,19px 2px #43b,20px 2px #43c,21px 2px #43c,22px 2px #43b,23px 2px #42b,24px 2px #32b,25px 2px #43b,26px 2px #43b,27px 2px #43b,28px 2px #43b,29px 2px #43c,30px 2px #43c,31px 2px #35c,32px 2px #45d,33px 2px #44c,34px 2px #43b,35px 2px #43b,36px 2px #44c,37px 2px #43c,38px 2px #43b,39px 2px #44d,40px 2px #44d,41px 2px #44d,42px 2px #43c,43px 2px #44c,44px 2px #43c,45px 2px #43c,46px 2px #5ab,47px 2px #ee2,48px 2px #ee2,49px 2px #7c8,50px 2px #43b,51px 2px #43b,52px 2px #43b,53px 2px #43b,54px 2px #32b,55px 2px #43b,56px 2px #43c,57px 2px #45e,58px 2px #cd3,59px 2px #43b,60px 2px #43b,61px 2px #43c,62px 2px #43c,63px 2px #43c,64px 2px #43c,65px 2px #43b,66px 2px #43b,67px 2px #43b,68px 2px #43c,69px 2px #43c,70px 2px #43c,71px 2px #43c,72px 2px #43c,73px 2px #43c,74px 2px #43c,75px 2px #43c,76px 2px #43c,77px 2px #43c,78px 2px #43c,79px 2px #43b,80px 2px #43c,81px 2px #43c,82px 2px #43b,83px 2px #43c,84px 2px #43c,85px 2px #32b,86px 2px #43b,87px 2px #43b,88px 2px #43c,89px 2px #43c,90px 2px #43c,91px 2px #43b,92px 2px #43c,93px 2px #43c,94px 2px #43b,95px 2px #43b,96px 2px #43b,97px 2px #43b,98px 2px #43b,99px 2px #43b,100px 2px #43b,101px 2px #43c,102px 2px #43b,103px 2px #43c,104px 2px #43b,105px 2px #43b,106px 2px #43c,107px 2px #43c,108px 2px #43c,109px 2px #43c,110px 2px #43b,111px 2px #43b,112px 2px #43b,113px 2px #43b,114px 2px #43c,115px 2px #43c,116px 2px #59b,117px 2px #9d5,118px 2px #49c,119px 2px #43c,120px 2px #43c,1px 3px #43c,2px 3px #43c,3px 3px #43c,4px 3px #43c,5px 3px #43c,6px 3px #43c,7px 3px #43b,8px 3px #43b,9px 3px #43c,10px 3px #43c,11px 3px #43c,12px 3px #36d,13px 3px #2ae,14px 3px #37e,15px 3px #36e,16px 3px #36e,17px 3px #46e,18px 3px #44d,19px 3px #43c,20px 3px #45d,21px 3px #45d,22px 3px #44d,23px 3px #44d,24px 3px #43c,25px 3px #43b,26px 3px #43b,27px 3px #43b,28px 3px #43c,29px 3px #43c,30px 3px #43c,31px 3px #38d,32px 3px #37e,33px 3px #44e,34px 3px #43c,35px 3px #43c,36px 3px #45e,37px 3px #44d,38px 3px #43c,39px 3px #46e,40px 3px #45e,41px 3px #45e,42px 3px #43c,43px 3px #45e,44px 3px #44d,45px 3px #43c,46px 3px #47d,47px 3px #bd4,48px 3px #cd3,49px 3px #5ab,50px 3px #43c,51px 3px #43c,52px 3px #43b,53px 3px #43c,54px 3px #43b,55px 3px #45d,56px 3px #44d,57px 3px #45e,58px 3px #de2,59px 3px #43c,60px 3px #43c,61px 3px #43c,62px 3px #43c,63px 3px #43b,64px 3px #43b,65px 3px #43b,66px 3px #43b,67px 3px #43c,68px 3px #43d,69px 3px #43d,70px 3px #43c,71px 3px #43c,72px 3px #43c,73px 3px #43b,74px 3px #43b,75px 3px #43c,76px 3px #43c,77px 3px #43c,78px 3px #43c,79px 3px #43b,80px 3px #43c,81px 3px #43c,82px 3px #43c,83px 3px #43c,84px 3px #43c,85px 3px #32b,86px 3px #42b,87px 3px #43b,88px 3px #43b,89px 3px #43c,90px 3px #43c,91px 3px #43b,92px 3px #43b,93px 3px #43c,94px 3px #43c,95px 3px #43b,96px 3px #43b,97px 3px #43b,98px 3px #43c,99px 3px #43c,100px 3px #43c,101px 3px #43c,102px 3px #43b,103px 3px #43b,104px 3px #43b,105px 3px #43b,106px 3px #43c,107px 3px #43c,108px 3px #43c,109px 3px #43b,110px 3px #43c,111px 3px #43c,112px 3px #43c,113px 3px #43b,114px 3px #43c,115px 3px #43b,116px 3px #47d,117px 3px #5ca,118px 3px #46d,119px 3px #43c,120px 3px #43c,1px 4px #44d,2px 4px #44d,3px 4px #43c,4px 4px #43c,5px 4px #43c,6px 4px #43c,7px 4px #43c,8px 4px #43c,9px 4px #44d,10px 4px #44d,11px 4px #43c,12px 4px #44d,13px 4px #38e,14px 4px #46e,15px 4px #46e,16px 4px #46e,17px 4px #46e,18px 4px #43d,19px 4px #43c,20px 4px #44d,21px 4px #44d,22px 4px #44d,23px 4px #44d,24px 4px #44d,25px 4px #45e,26px 4px #44d,27px 4px #45e,28px 4px #37e,29px 4px #46e,30px 4px #36e,31px 4px #37e,32px 4px #46e,33px 4px #45e,34px 4px #43c,35px 4px #43b,36px 4px #45e,37px 4px #45e,38px 4px #44d,39px 4px #37e,40px 4px #46e,41px 4px #46e,42px 4px #43c,43px 4px #44d,44px 4px #43c,45px 4px #43b,46px 4px #45d,47px 4px #7c8,48px 4px #9d6,49px 4px #48d,50px 4px #43c,51px 4px #43c,52px 4px #43b,53px 4px #43c,54px 4px #43c,55px 4px #45e,56px 4px #44d,57px 4px #45e,58px 4px #de2,59px 4px #43c,60px 4px #44d,61px 4px #44d,62px 4px #43c,63px 4px #43c,64px 4px #43c,65px 4px #43c,66px 4px #43b,67px 4px #43c,68px 4px #43c,69px 4px #43c,70px 4px #43b,71px 4px #43b,72px 4px #43c,73px 4px #43b,74px 4px #43b,75px 4px #43c,76px 4px #43c,77px 4px #43c,78px 4px #43b,79px 4px #32b,80px 4px #43b,81px 4px #43b,82px 4px #43c,83px 4px #43c,84px 4px #43b,85px 4px #32b,86px 4px #42b,87px 4px #42b,88px 4px #42b,89px 4px #43b,90px 4px #43b,91px 4px #43b,92px 4px #43b,93px 4px #43b,94px 4px #43c,95px 4px #44d,96px 4px #43c,97px 4px #44c,98px 4px #45d,99px 4px #44d,100px 4px #45e,101px 4px #45e,102px 4px #43c,103px 4px #43b,104px 4px #43c,105px 4px #43c,106px 4px #44d,107px 4px #44d,108px 4px #36e,109px 4px #46e,110px 4px #45e,111px 4px #44d,112px 4px #45e,113px 4px #44c,114px 4px #44e,115px 4px #44d,116px 4px #45e,117px 4px #38e,118px 4px #44d,119px 4px #43c,120px 4px #44d,1px 5px #45e,2px 5px #46e,3px 5px #44d,4px 5px #44d,5px 5px #44d,6px 5px #44d,7px 5px #44d,8px 5px #43c,9px 5px #44d,10px 5px #45e,11px 5px #43c,12px 5px #43d,13px 5px #45e,14px 5px #46e,15px 5px #45d,16px 5px #45d,17px 5px #46e,18px 5px #44d,19px 5px #43c,20px 5px #45e,21px 5px #44d,22px 5px #45e,23px 5px #45e,24px 5px #44d,25px 5px #44d,26px 5px #43c,27px 5px #44d,28px 5px #45e,29px 5px #44d,30px 5px #45d,31px 5px #36e,32px 5px #46e,33px 5px #45e,34px 5px #43c,35px 5px #43b,36px 5px #44d,37px 5px #44d,38px 5px #44c,39px 5px #37e,40px 5px #37e,41px 5px #37e,42px 5px #44c,43px 5px #44d,44px 5px #43c,45px 5px #43c,46px 5px #43c,47px 5px #37e,48px 5px #39e,49px 5px #44d,50px 5px #43b,51px 5px #43c,52px 5px #43c,53px 5px #43d,54px 5px #43c,55px 5px #44d,56px 5px #43d,57px 5px #45e,58px 5px #ce3,59px 5px #43b,60px 5px #43c,61px 5px #44d,62px 5px #45e,63px 5px #46e,64px 5px #46e,65px 5px #44d,66px 5px #43c,67px 5px #44c,68px 5px #43c,69px 5px #43d,70px 5px #43d,71px 5px #42b,72px 5px #44d,73px 5px #44d,74px 5px #44d,75px 5px #44d,76px 5px #44d,77px 5px #44d,78px 5px #44d,79px 5px #43b,80px 5px #44d,81px 5px #45e,82px 5px #45e,83px 5px #46e,84px 5px #44d,85px 5px #44d,86px 5px #45e,87px 5px #44d,88px 5px #44d,89px 5px #43c,90px 5px #44d,91px 5px #43c,92px 5px #45e,93px 5px #45e,94px 5px #44d,95px 5px #44d,96px 5px #43c,97px 5px #44d,98px 5px #44d,99px 5px #43c,100px 5px #44d,101px 5px #44d,102px 5px #43c,103px 5px #43d,104px 5px #45e,105px 5px #44d,106px 5px #45e,107px 5px #45d,108px 5px #37e,109px 5px #46e,110px 5px #45e,111px 5px #44d,112px 5px #45e,113px 5px #43c,114px 5px #43d,115px 5px #44d,116px 5px #45e,117px 5px #46e,118px 5px #44d,119px 5px #43c,120px 5px #44d,1px 6px #45e,2px 6px #45e,3px 6px #44d,4px 6px #44d,5px 6px #43c,6px 6px #44d,7px 6px #43c,8px 6px #43c,9px 6px #44d,10px 6px #44d,11px 6px #43c,12px 6px #43c,13px 6px #44d,14px 6px #44d,15px 6px #44d,16px 6px #44d,17px 6px #46e,18px 6px #45e,19px 6px #44d,20px 6px #46e,21px 6px #45e,22px 6px #46e,23px 6px #46e,24px 6px #44d,25px 6px #44d,26px 6px #43b,27px 6px #43c,28px 6px #45e,29px 6px #44d,30px 6px #44d,31px 6px #45d,32px 6px #45e,33px 6px #44d,34px 6px #43c,35px 6px #43b,36px 6px #44d,37px 6px #44e,38px 6px #44d,39px 6px #37e,40px 6px #37e,41px 6px #37e,42px 6px #44c,43px 6px #45d,44px 6px #43c,45px 6px #43c,46px 6px #44d,47px 6px #45e,48px 6px #46e,49px 6px #43b,50px 6px #32b,51px 6px #43c,52px 6px #45e,53px 6px #44d,54px 6px #43c,55px 6px #45e,56px 6px #44d,57px 6px #45e,58px 6px #ce2,59px 6px #43c,60px 6px #43c,61px 6px #44d,62px 6px #45e,63px 6px #46e,64px 6px #46e,65px 6px #44e,66px 6px #43c,67px 6px #43c,68px 6px #43b,69px 6px #44d,70px 6px #44d,71px 6px #43c,72px 6px #45d,73px 6px #45d,74px 6px #44d,75px 6px #43c,76px 6px #44d,77px 6px #44d,78px 6px #45e,79px 6px #43c,80px 6px #44d,81px 6px #44d,82px 6px #45e,83px 6px #46e,84px 6px #44d,85px 6px #44d,86px 6px #45e,87px 6px #44e,88px 6px #44d,89px 6px #43c,90px 6px #43d,91px 6px #43c,92px 6px #45e,93px 6px #45e,94px 6px #44e,95px 6px #44e,96px 6px #44d,97px 6px #44d,98px 6px #45e,99px 6px #44d,100px 6px #45e,101px 6px #44d,102px 6px #43c,103px 6px #44d,104px 6px #45e,105px 6px #44d,106px 6px #44d,107px 6px #44d,108px 6px #36e,109px 6px #45e,110px 6px #44d,111px 6px #43d,112px 6px #45e,113px 6px #43c,114px 6px #43c,115px 6px #44d,116px 6px #46e,117px 6px #38e,118px 6px #45d,119px 6px #43c,120px 6px #44d,1px 7px #43c,2px 7px #44d,3px 7px #43c,4px 7px #43d,5px 7px #43d,6px 7px #43c,7px 7px #43b,8px 7px #43b,9px 7px #44d,10px 7px #44d,11px 7px #43c,12px 7px #43c,13px 7px #43c,14px 7px #44d,15px 7px #43c,16px 7px #44d,17px 7px #46e,18px 7px #45e,19px 7px #44d,20px 7px #45e,21px 7px #44d,22px 7px #46e,23px 7px #45e,24px 7px #44d,25px 7px #45e,26px 7px #43c,27px 7px #43c,28px 7px #45e,29px 7px #45e,30px 7px #45d,31px 7px #44d,32px 7px #44d,33px 7px #44d,34px 7px #43c,35px 7px #43c,36px 7px #45e,37px 7px #45e,38px 7px #44c,39px 7px #46e,40px 7px #46e,41px 7px #45e,42px 7px #43c,43px 7px #45e,44px 7px #44d,45px 7px #43c,46px 7px #44d,47px 7px #44d,48px 7px #44d,49px 7px #43c,50px 7px #43b,51px 7px #44d,52px 7px #45e,53px 7px #44d,54px 7px #43c,55px 7px #46e,56px 7px #45e,57px 7px #45e,58px 7px #ce3,59px 7px #43c,60px 7px #43c,61px 7px #44e,62px 7px #45e,63px 7px #45e,64px 7px #45e,65px 7px #44d,66px 7px #43c,67px 7px #43c,68px 7px #43b,69px 7px #45d,70px 7px #46e,71px 7px #44d,72px 7px #45e,73px 7px #45d,74px 7px #43c,75px 7px #43c,76px 7px #44d,77px 7px #44d,78px 7px #44d,79px 7px #43c,80px 7px #43c,81px 7px #43c,82px 7px #45e,83px 7px #46e,84px 7px #44d,85px 7px #44d,86px 7px #45e,87px 7px #45e,88px 7px #45d,89px 7px #43c,90px 7px #43d,91px 7px #43c,92px 7px #45e,93px 7px #46e,94px 7px #45e,95px 7px #45e,96px 7px #44d,97px 7px #44d,98px 7px #45e,99px 7px #45e,100px 7px #45e,101px 7px #44d,102px 7px #43c,103px 7px #44d,104px 7px #44d,105px 7px #43d,106px 7px #44d,107px 7px #44d,108px 7px #46e,109px 7px #44d,110px 7px #43c,111px 7px #44c,112px 7px #46e,113px 7px #44d,114px 7px #45d,115px 7px #45e,116px 7px #37e,117px 7px #39e,118px 7px #46e,119px 7px #43c,120px 7px #43c,1px 8px #43c,2px 8px #44d,3px 8px #43c,4px 8px #44d,5px 8px #45e,6px 8px #44d,7px 8px #43c,8px 8px #43c,9px 8px #45e,10px 8px #44d,11px 8px #43d,12px 8px #44d,13px 8px #46e,14px 8px #45e,15px 8px #44d,16px 8px #44d,17px 8px #45e,18px 8px #44d,19px 8px #44d,20px 8px #45e,21px 8px #44d,22px 8px #45e,23px 8px #45e,24px 8px #44d,25px 8px #37e,26px 8px #44d,27px 8px #44d,28px 8px #45e,29px 8px #46e,30px 8px #45d,31px 8px #44d,32px 8px #45e,33px 8px #46e,34px 8px #44c,35px 8px #43c,36px 8px #45e,37px 8px #45e,38px 8px #44c,39px 8px #37e,40px 8px #37e,41px 8px #46e,42px 8px #43c,43px 8px #45e,44px 8px #44d,45px 8px #43b,46px 8px #44d,47px 8px #46e,48px 8px #44d,49px 8px #44d,50px 8px #43c,51px 8px #44d,52px 8px #44d,53px 8px #43d,54px 8px #44c,55px 8px #38e,56px 8px #46e,57px 8px #45e,58px 8px #ce3,59px 8px #43c,60px 8px #44d,61px 8px #45e,62px 8px #45e,63px 8px #46e,64px 8px #44d,65px 8px #44d,66px 8px #43c,67px 8px #43c,68px 8px #43c,69px 8px #45e,70px 8px #46e,71px 8px #44d,72px 8px #45e,73px 8px #37e,74px 8px #44d,75px 8px #43c,76px 8px #44d,77px 8px #43c,78px 8px #44d,79px 8px #43c,80px 8px #44d,81px 8px #44d,82px 8px #46e,83px 8px #46e,84px 8px #44d,85px 8px #44d,86px 8px #37e,87px 8px #46e,88px 8px #46e,89px 8px #44d,90px 8px #44d,91px 8px #44d,92px 8px #46e,93px 8px #46e,94px 8px #46e,95px 8px #44e,96px 8px #44d,97px 8px #44d,98px 8px #45e,99px 8px #45e,100px 8px #44d,101px 8px #43d,102px 8px #43c,103px 8px #44d,104px 8px #43d,105px 8px #44d,106px 8px #44d,107px 8px #45e,108px 8px #37e,109px 8px #44d,110px 8px #43c,111px 8px #44d,112px 8px #37e,113px 8px #46d,114px 8px #46e,115px 8px #46e,116px 8px #46e,117px 8px #38e,118px 8px #46e,119px 8px #44d,120px 8px #44d,1px 9px #44d,2px 9px #37e,3px 9px #44d,4px 9px #46e,5px 9px #46e,6px 9px #43d,7px 9px #43c,8px 9px #44c,9px 9px #39e,10px 9px #45d,11px 9px #44d,12px 9px #37e,13px 9px #4bc,14px 9px #37e,15px 9px #46e,16px 9px #59c,17px 9px #39e,18px 9px #38e,19px 9px #45d,20px 9px #37e,21px 9px #37e,22px 9px #39e,23px 9px #49d,24px 9px #45d,25px 9px #39e,26px 9px #45e,27px 9px #45e,28px 9px #39e,29px 9px #4ac,30px 9px #36e,31px 9px #45d,32px 9px #38e,33px 9px #3ad,34px 9px #47d,35px 9px #46e,36px 9px #46e,37px 9px #37e,38px 9px #44c,39px 9px #38e,40px 9px #39e,41px 9px #39e,42px 9px #43c,43px 9px #46e,44px 9px #46e,45px 9px #44c,46px 9px #47e,47px 9px #39d,48px 9px #37e,49px 9px #38e,50px 9px #44d,51px 9px #45e,52px 9px #46e,53px 9px #46e,54px 9px #46c,55px 9px #6c9,56px 9px #47e,57px 9px #45e,58px 9px #ce3,59px 9px #43d,60px 9px #44d,61px 9px #46e,62px 9px #37e,63px 9px #37e,64px 9px #45e,65px 9px #45e,66px 9px #44d,67px 9px #44d,68px 9px #44d,69px 9px #37e,70px 9px #37e,71px 9px #46e,72px 9px #47e,73px 9px #49c,74px 9px #45e,75px 9px #43d,76px 9px #44d,77px 9px #44d,78px 9px #46e,79px 9px #44d,80px 9px #46e,81px 9px #46e,82px 9px #38e,83px 9px #39e,84px 9px #46e,85px 9px #46d,86px 9px #39e,87px 9px #39e,88px 9px #39e,89px 9px #46e,90px 9px #45e,91px 9px #45d,92px 9px #38e,93px 9px #38e,94px 9px #3ad,95px 9px #37e,96px 9px #36e,97px 9px #37d,98px 9px #38e,99px 9px #39e,100px 9px #46e,101px 9px #43d,102px 9px #43b,103px 9px #44d,104px 9px #44d,105px 9px #38e,106px 9px #47e,107px 9px #37d,108px 9px #38d,109px 9px #46e,110px 9px #46e,111px 9px #46e,112px 9px #39e,113px 9px #47c,114px 9px #37e,115px 9px #46e,116px 9px #46e,117px 9px #38e,118px 9px #38e,119px 9px #45e,120px 9px #44d,1px 10px #37e,2px 10px #38e,3px 10px #45e,4px 10px #37e,5px 10px #46e,6px 10px #43c,7px 10px #43c,8px 10px #44c,9px 10px #3ad,10px 10px #46e,11px 10px #44d,12px 10px #39e,13px 10px #6c8,14px 10px #39d,15px 10px #37e,16px 10px #ab6,17px 10px #4cb,18px 10px #3ae,19px 10px #46d,20px 10px #38e,21px 10px #3bd,22px 10px #4cb,23px 10px #9d6,24px 10px #47d,25px 10px #4bb,26px 10px #39e,27px 10px #39e,28px 10px #6ca,29px 10px #7c8,30px 10px #39d,31px 10px #37e,32px 10px #7c9,33px 10px #9d6,34px 10px #6c9,35px 10px #39e,36px 10px #37e,37px 10px #38e,38px 10px #44d,39px 10px #38e,40px 10px #5ca,41px 10px #3bd,42px 10px #43c,43px 10px #37e,44px 10px #37e,45px 10px #46e,46px 10px #4bb,47px 10px #7c8,48px 10px #4cb,49px 10px #3ae,50px 10px #45d,51px 10px #37e,52px 10px #39e,53px 10px #38e,54px 10px #57c,55px 10px #bd4,56px 10px #38e,57px 10px #37e,58px 10px #ce3,59px 10px #43c,60px 10px #44d,61px 10px #38e,62px 10px #39e,63px 10px #39e,64px 10px #46e,65px 10px #46e,66px 10px #45d,67px 10px #44d,68px 10px #45e,69px 10px #38e,70px 10px #38e,71px 10px #38e,72px 10px #37e,73px 10px #5ab,74px 10px #37e,75px 10px #46e,76px 10px #44d,77px 10px #45e,78px 10px #38e,79px 10px #45d,80px 10px #3ad,81px 10px #46e,82px 10px #3bd,83px 10px #4bb,84px 10px #39e,85px 10px #48d,86px 10px #3bd,87px 10px #5ca,88px 10px #6ba,89px 10px #38e,90px 10px #46e,91px 10px #46d,92px 10px #39e,93px 10px #39e,94px 10px #3bc,95px 10px #3ae,96px 10px #38d,97px 10px #59b,98px 10px #4bc,99px 10px #5ca,100px 10px #4ac,101px 10px #45d,102px 10px #43c,103px 10px #45d,104px 10px #38e,105px 10px #6c9,106px 10px #3ad,107px 10px #49c,108px 10px #7a9,109px 10px #3ad,110px 10px #3bd,111px 10px #39e,112px 10px #3ae,113px 10px #68b,114px 10px #37e,115px 10px #38e,116px 10px #37e,117px 10px #39e,118px 10px #3ae,119px 10px #38e,120px 10px #45e,1px 11px #37e,2px 11px #38e,3px 11px #44d,4px 11px #45e,5px 11px #44d,6px 11px #44d,7px 11px #43d,8px 11px #44d,9px 11px #38e,10px 11px #45d,11px 11px #43c,12px 11px #37e,13px 11px #4ac,14px 11px #47e,15px 11px #46e,16px 11px #5aa,17px 11px #3ad,18px 11px #38e,19px 11px #45d,20px 11px #38e,21px 11px #3ae,22px 11px #3bd,23px 11px #6ba,24px 11px #45e,25px 11px #4bc,26px 11px #38e,27px 11px #3ae,28px 11px #4bb,29px 11px #7c8,30px 11px #38d,31px 11px #37e,32px 11px #5bb,33px 11px #7d7,34px 11px #5bb,35px 11px #38e,36px 11px #46e,37px 11px #38e,38px 11px #44c,39px 11px #37e,40px 11px #39e,41px 11px #39e,42px 11px #43c,43px 11px #45e,44px 11px #46e,45px 11px #35d,46px 11px #4bc,47px 11px #6c9,48px 11px #4bc,49px 11px #38e,50px 11px #44c,51px 11px #46e,52px 11px #38e,53px 11px #46e,54px 11px #46d,55px 11px #5ca,56px 11px #37e,57px 11px #46e,58px 11px #ce2,59px 11px #43c,60px 11px #44d,61px 11px #37e,62px 11px #39e,63px 11px #3ae,64px 11px #37e,65px 11px #46e,66px 11px #45d,67px 11px #45d,68px 11px #46e,69px 11px #39e,70px 11px #37e,71px 11px #37e,72px 11px #46e,73px 11px #48d,74px 11px #46e,75px 11px #45d,76px 11px #44d,77px 11px #45e,78px 11px #38e,79px 11px #45d,80px 11px #39d,81px 11px #47e,82px 11px #3bd,83px 11px #4bc,84px 11px #3ae,85px 11px #48c,86px 11px #3bd,87px 11px #4bc,88px 11px #4ac,89px 11px #38e,90px 11px #46e,91px 11px #46d,92px 11px #39e,93px 11px #38e,94px 11px #3ad,95px 11px #39e,96px 11px #37e,97px 11px #49c,98px 11px #3ad,99px 11px #5ca,100px 11px #39d,101px 11px #45e,102px 11px #43c,103px 11px #46e,104px 11px #39e,105px 11px #5bb,106px 11px #39e,107px 11px #59b,108px 11px #5aa,109px 11px #39e,110px 11px #39e,111px 11px #38e,112px 11px #39e,113px 11px #67b,114px 11px #37e,115px 11px #38e,116px 11px #37e,117px 11px #38e,118px 11px #39e,119px 11px #38e,120px 11px #46e,1px 12px #45e,2px 12px #37e,3px 12px #44d,4px 12px #43c,5px 12px #44d,6px 12px #44e,7px 12px #44d,8px 12px #43c,9px 12px #46e,10px 12px #43d,11px 12px #43c,12px 12px #44d,13px 12px #37e,14px 12px #45d,15px 12px #45e,16px 12px #37e,17px 12px #37e,18px 12px #45e,19px 12px #44d,20px 12px #37e,21px 12px #37e,22px 12px #37e,23px 12px #37e,24px 12px #44d,25px 12px #39e,26px 12px #44d,27px 12px #37e,28px 12px #38e,29px 12px #39e,30px 12px #36e,31px 12px #36e,32px 12px #38e,33px 12px #3ad,34px 12px #45d,35px 12px #44d,36px 12px #44d,37px 12px #45e,38px 12px #43c,39px 12px #45e,40px 12px #45e,41px 12px #37e,42px 12px #43c,43px 12px #44d,44px 12px #43c,45px 12px #33b,46px 12px #37e,47px 12px #38d,48px 12px #45e,49px 12px #45d,50px 12px #43b,51px 12px #44d,52px 12px #46e,53px 12px #44d,54px 12px #44d,55px 12px #39e,56px 12px #46e,57px 12px #45e,58px 12px #cd3,59px 12px #43c,60px 12px #44d,61px 12px #46e,62px 12px #37e,63px 12px #39e,64px 12px #46e,65px 12px #45e,66px 12px #44d,67px 12px #44d,68px 12px #46e,69px 12px #37e,70px 12px #45e,71px 12px #45e,72px 12px #44d,73px 12px #45d,74px 12px #43c,75px 12px #43c,76px 12px #43c,77px 12px #44d,78px 12px #45e,79px 12px #43c,80px 12px #44d,81px 12px #45d,82px 12px #38e,83px 12px #39e,84px 12px #38e,85px 12px #46d,86px 12px #3ae,87px 12px #38e,88px 12px #38e,89px 12px #45e,90px 12px #44d,91px 12px #44d,92px 12px #46e,93px 12px #46e,94px 12px #37e,95px 12px #45e,96px 12px #45d,97px 12px #46d,98px 12px #46e,99px 12px #38e,100px 12px #45d,101px 12px #43d,102px 12px #43c,103px 12px #45e,104px 12px #46e,105px 12px #46e,106px 12px #38e,107px 12px #38d,108px 12px #38d,109px 12px #46e,110px 12px #45e,111px 12px #46e,112px 12px #38e,113px 12px #46d,114px 12px #37e,115px 12px #37e,116px 12px #45e,117px 12px #37e,118px 12px #46e,119px 12px #45e,120px 12px #46e,1px 13px #44d,2px 13px #45e,3px 13px #44d,4px 13px #43c,5px 13px #44e,6px 13px #44d,7px 13px #43c,8px 13px #43c,9px 13px #44d,10px 13px #44d,11px 13px #44d,12px 13px #44d,13px 13px #44d,14px 13px #44d,15px 13px #44d,16px 13px #45e,17px 13px #45e,18px 13px #43d,19px 13px #43c,20px 13px #46e,21px 13px #45e,22px 13px #44d,23px 13px #44d,24px 13px #44d,25px 13px #37e,26px 13px #44d,27px 13px #45e,28px 13px #45e,29px 13px #46e,30px 13px #45d,31px 13px #46e,32px 13px #46e,33px 13px #37e,34px 13px #44d,35px 13px #43c,36px 13px #44d,37px 13px #44d,38px 13px #43c,39px 13px #45e,40px 13px #45e,41px 13px #46e,42px 13px #43c,43px 13px #43d,44px 13px #43b,45px 13px #43b,46px 13px #44d,47px 13px #44d,48px 13px #44d,49px 13px #44d,50px 13px #43b,51px 13px #43d,52px 13px #44d,53px 13px #44d,54px 13px #43c,55px 13px #46e,56px 13px #46e,57px 13px #45e,58px 13px #de2,59px 13px #43c,60px 13px #44c,61px 13px #46e,62px 13px #46e,63px 13px #38e,64px 13px #46e,65px 13px #45e,66px 13px #44d,67px 13px #44d,68px 13px #44d,69px 13px #45e,70px 13px #44d,71px 13px #44d,72px 13px #44d,73px 13px #43c,74px 13px #43b,75px 13px #43c,76px 13px #43c,77px 13px #43c,78px 13px #44d,79px 13px #43c,80px 13px #44d,81px 13px #45e,82px 13px #47e,83px 13px #37e,84px 13px #46e,85px 13px #44d,86px 13px #37e,87px 13px #46e,88px 13px #46e,89px 13px #44d,90px 13px #44d,91px 13px #44c,92px 13px #45e,93px 13px #45e,94px 13px #45e,95px 13px #44d,96px 13px #44d,97px 13px #43c,98px 13px #44d,99px 13px #45e,100px 13px #44d,101px 13px #43d,102px 13px #43c,103px 13px #44d,104px 13px #44d,105px 13px #43d,106px 13px #45e,107px 13px #45d,108px 13px #46d,109px 13px #45e,110px 13px #44d,111px 13px #45d,112px 13px #38e,113px 13px #45d,114px 13px #46e,115px 13px #46e,116px 13px #45e,117px 13px #37e,118px 13px #45e,119px 13px #44d,120px 13px #45e,1px 14px #44d,2px 14px #45e,3px 14px #44d,4px 14px #43c,5px 14px #44e,6px 14px #44d,7px 14px #43b,8px 14px #43b,9px 14px #43c,10px 14px #43d,11px 14px #44d,12px 14px #43c,13px 14px #43d,14px 14px #44d,15px 14px #44d,16px 14px #45d,17px 14px #45e,18px 14px #43d,19px 14px #43c,20px 14px #46e,21px 14px #44d,22px 14px #44d,23px 14px #44d,24px 14px #44d,25px 14px #37e,26px 14px #44d,27px 14px #44d,28px 14px #44d,29px 14px #45e,30px 14px #45d,31px 14px #45d,32px 14px #45e,33px 14px #45e,34px 14px #44d,35px 14px #43c,36px 14px #44d,37px 14px #43d,38px 14px #43c,39px 14px #45e,40px 14px #45e,41px 14px #46e,42px 14px #43c,43px 14px #43c,44px 14px #32b,45px 14px #43b,46px 14px #44d,47px 14px #44d,48px 14px #44d,49px 14px #44d,50px 14px #43b,51px 14px #43d,52px 14px #44d,53px 14px #44d,54px 14px #43c,55px 14px #46e,56px 14px #46e,57px 14px #45e,58px 14px #ce2,59px 14px #43c,60px 14px #43c,61px 14px #46e,62px 14px #45e,63px 14px #37e,64px 14px #45e,65px 14px #45e,66px 14px #44d,67px 14px #43c,68px 14px #44d,69px 14px #44d,70px 14px #44d,71px 14px #44d,72px 14px #44d,73px 14px #43c,74px 14px #43c,75px 14px #43c,76px 14px #43c,77px 14px #43d,78px 14px #45e,79px 14px #43c,80px 14px #44d,81px 14px #45e,82px 14px #46e,83px 14px #46e,84px 14px #45e,85px 14px #44d,86px 14px #46e,87px 14px #45e,88px 14px #45e,89px 14px #44e,90px 14px #45e,91px 14px #44d,92px 14px #45e,93px 14px #45e,94px 14px #44d,95px 14px #44d,96px 14px #44d,97px 14px #43c,98px 14px #43c,99px 14px #44d,100px 14px #44d,101px 14px #44d,102px 14px #43c,103px 14px #44d,104px 14px #43d,105px 14px #43c,106px 14px #44d,107px 14px #45d,108px 14px #45d,109px 14px #46e,110px 14px #44d,111px 14px #44d,112px 14px #37e,113px 14px #45d,114px 14px #46e,115px 14px #46e,116px 14px #44d,117px 14px #46e,118px 14px #45d,119px 14px #43c,120px 14px #44d"></i></div><div class="cl"><i style="box-shadow:442px 110px #385,446px 110px #264,427px 111px #264,429px 111px #274,431px 111px #264,434px 111px #264,435px 111px #385,436px 111px #253,437px 111px #154,438px 111px #154,439px 111px #275,440px 111px #385,441px 111px #396,442px 111px #254,443px 111px #264,444px 111px #264,445px 111px #385,448px 111px #4b7,449px 111px #396,450px 111px #3a7,426px 112px #264,427px 112px #4b7,428px 112px #4a7,429px 112px #375,430px 112px #275,431px 112px #3a7,432px 112px #264,433px 112px #396,434px 112px #275,435px 112px #164,436px 112px #198,437px 112px #076,438px 112px #065,439px 112px #187,441px 112px #164,442px 112px #3a7,444px 112px #274,445px 112px #396,446px 112px #264,448px 112px #4b7,449px 112px #3a6,450px 112px #375,451px 112px #264,423px 113px #264,424px 113px #275,425px 113px #396,426px 113px #385,427px 113px #3a7,428px 113px #275,429px 113px #286,430px 113px #265,431px 113px #275,432px 113px #297,433px 113px #286,434px 113px #187,435px 113px #088,436px 113px #078,437px 113px #089,438px 113px #055,439px 113px #076,440px 113px #187,441px 113px #187,442px 113px #154,443px 113px #275,445px 113px #264,446px 113px #386,447px 113px #264,449px 113px #275,451px 113px #274,452px 113px #264,453px 113px #3a6,416px 114px #386,417px 114px #385,418px 114px #264,419px 114px #4b7,420px 114px #4b7,421px 114px #396,422px 114px #396,423px 114px #385,425px 114px #264,426px 114px #385,427px 114px #264,428px 114px #286,429px 114px #3b8,430px 114px #286,431px 114px #165,432px 114px #187,433px 114px #187,434px 114px #066,435px 114px #066,436px 114px #045,437px 114px #056,438px 114px #078,439px 114px #045,440px 114px #088,441px 114px #066,442px 114px #077,443px 114px #176,444px 114px #198,445px 114px #165,446px 114px #165,447px 114px #275,448px 114px #4b7,450px 114px #274,451px 114px #4b7,452px 114px #4b7,453px 114px #264,455px 114px #385,456px 114px #274,457px 114px #4b7,458px 114px #264,459px 114px #275,460px 114px #264,461px 114px #3a6,462px 114px #264,410px 115px #254,411px 115px #275,412px 115px #264,413px 115px #264,415px 115px #3a6,416px 115px #274,417px 115px #264,418px 115px #274,419px 115px #4c8,421px 115px #385,422px 115px #385,423px 115px #385,424px 115px #396,425px 115px #396,426px 115px #297,427px 115px #275,428px 115px #297,429px 115px #276,432px 115px #087,433px 115px #066,434px 115px #055,435px 115px #078,436px 115px #045,437px 115px #045,438px 115px #067,439px 115px #078,440px 115px #056,441px 115px #045,442px 115px #067,443px 115px #067,444px 115px #055,445px 115px #066,446px 115px #066,447px 115px #1a9,448px 115px #165,449px 115px #3b7,450px 115px #4b8,451px 115px #3a7,452px 115px #275,453px 115px #274,454px 115px #3a7,455px 115px #4b7,456px 115px #274,457px 115px #385,458px 115px #375,459px 115px #385,460px 115px #275,461px 115px #264,463px 115px #386,464px 115px #396,465px 115px #385,466px 115px #274,410px 116px #275,411px 116px #264,412px 116px #274,413px 116px #264,414px 116px #396,415px 116px #396,416px 116px #396,417px 116px #275,418px 116px #4b7,419px 116px #3a7,420px 116px #4b7,421px 116px #275,422px 116px #3b8,423px 116px #3b9,424px 116px #286,425px 116px #175,426px 116px #165,427px 116px #165,428px 116px #165,429px 116px #186,431px 116px #0ba,432px 116px #056,433px 116px #078,434px 116px #056,435px 116px #057,436px 116px #045,437px 116px #068,438px 116px #035,439px 116px #056,440px 116px #046,441px 116px #057,442px 116px #046,443px 116px #035,444px 116px #045,445px 116px #056,446px 116px #056,447px 116px #066,448px 116px #076,449px 116px #187,450px 116px #2b9,451px 116px #176,452px 116px #187,453px 116px #3b8,454px 116px #275,455px 116px #275,456px 116px #264,457px 116px #264,458px 116px #3a7,459px 116px #396,460px 116px #396,461px 116px #385,462px 116px #264,463px 116px #375,464px 116px #264,465px 116px #275,466px 116px #254,467px 116px #153,406px 117px #067,407px 117px #056,408px 117px #099,409px 117px #199,410px 117px #4b7,411px 117px #396,413px 117px #274,414px 117px #396,415px 117px #274,416px 117px #4b7,417px 117px #396,418px 117px #274,419px 117px #274,420px 117px #297,421px 117px #186,422px 117px #197,423px 117px #198,424px 117px #166,425px 117px #1a9,426px 117px #198,427px 117px #187,428px 117px #1aa,429px 117px #199,430px 117px #077,431px 117px #056,432px 117px #068,433px 117px #057,434px 117px #058,435px 117px #046,436px 117px #046,437px 117px #035,438px 117px #046,439px 117px #046,440px 117px #048,441px 117px #049,442px 117px #025,443px 117px #036,444px 117px #058,445px 117px #046,446px 117px #069,447px 117px #045,448px 117px #089,449px 117px #0ab,450px 117px #077,451px 117px #077,452px 117px #066,453px 117px #188,455px 117px #298,456px 117px #2a8,457px 117px #297,458px 117px #264,459px 117px #3a7,461px 117px #396,462px 117px #254,463px 117px #386,464px 117px #286,465px 117px #154,466px 117px #143,467px 117px #264,407px 118px #045,409px 118px #066,411px 118px #3a7,412px 118px #3a7,413px 118px #275,414px 118px #3a6,415px 118px #274,416px 118px #386,417px 118px #275,418px 118px #286,419px 118px #2a9,420px 118px #166,421px 118px #088,422px 118px #088,423px 118px #099,424px 118px #0bc,425px 118px #088,426px 118px #077,427px 118px #077,428px 118px #066,429px 118px #088,430px 118px #0ab,431px 118px #046,432px 118px #068,433px 118px #058,434px 118px #048,435px 118px #048,436px 118px #035,437px 118px #037,438px 118px #037,439px 118px #035,440px 118px #036,441px 118px #025,442px 118px #026,443px 118px #037,444px 118px #025,445px 118px #035,446px 118px #036,447px 118px #069,448px 118px #079,449px 118px #056,450px 118px #0ab,451px 118px #078,452px 118px #0aa,453px 118px #0aa,454px 118px #066,455px 118px #0aa,456px 118px #076,457px 118px #165,458px 118px #176,460px 118px #264,461px 118px #275,462px 118px #275,463px 118px #265,464px 118px #186,465px 118px #154,466px 118px #187,467px 118px #143,468px 118px #154,473px 118px #385,474px 118px #396,396px 119px #3a6,397px 119px #4b7,399px 119px #3a7,400px 119px #274,401px 119px #264,402px 119px #264,405px 119px #088,406px 119px #067,407px 119px #055,408px 119px #078,409px 119px #077,410px 119px #276,411px 119px #396,412px 119px #274,413px 119px #385,414px 119px #4b7,415px 119px #3a7,416px 119px #275,417px 119px #176,418px 119px #1ba,419px 119px #077,420px 119px #099,421px 119px #089,422px 119px #056,423px 119px #056,424px 119px #056,425px 119px #089,426px 119px #078,427px 119px #0ab,428px 119px #078,429px 119px #066,430px 119px #08a,431px 119px #069,432px 119px #047,433px 119px #037,434px 119px #038,435px 119px #026,436px 119px #038,437px 119px #038,438px 119px #026,439px 119px #026,440px 119px #037,441px 119px #038,442px 119px #027,443px 119px #026,444px 119px #024,445px 119px #025,446px 119px #059,447px 119px #036,448px 119px #046,449px 119px #068,450px 119px #09a,451px 119px #067,452px 119px #077,453px 119px #056,454px 119px #067,455px 119px #077,456px 119px #088,457px 119px #099,458px 119px #1ba,459px 119px #1a9,460px 119px #165,461px 119px #186,462px 119px #186,463px 119px #176,464px 119px #077,465px 119px #088,466px 119px #044,467px 119px #076,469px 119px #286,470px 119px #265,471px 119px #386,472px 119px #253,474px 119px #375,475px 119px #385,477px 119px #396,478px 119px #275,480px 119px #3a7,481px 119px #275,395px 120px #396,396px 120px #264,397px 120px #264,398px 120px #3a6,399px 120px #4a7,400px 120px #3a6,401px 120px #386,402px 120px #3a7,403px 120px #2a8,404px 120px #065,405px 120px #055,406px 120px #045,407px 120px #056,409px 120px #089,410px 120px #187,411px 120px #286,412px 120px #3b8,413px 120px #265,414px 120px #2c9,415px 120px #2ca,416px 120px #176,417px 120px #1ba,418px 120px #0bc,419px 120px #067,420px 120px #08b,421px 120px #056,422px 120px #068,423px 120px #07a,424px 120px #057,425px 120px #079,426px 120px #056,427px 120px #079,428px 120px #056,429px 120px #08b,430px 120px #046,431px 120px #06b,432px 120px #036,433px 120px #038,434px 120px #038,435px 120px #026,436px 120px #027,437px 120px #027,438px 120px #025,439px 120px #037,440px 120px #038,441px 120px #038,442px 120px #026,443px 120px #027,444px 120px #037,445px 120px #049,446px 120px #047,447px 120px #06a,448px 120px #057,449px 120px #046,450px 120px #067,451px 120px #078,452px 120px #09b,453px 120px #089,454px 120px #09a,455px 120px #089,456px 120px #078,457px 120px #056,458px 120px #09a,459px 120px #066,460px 120px #0aa,461px 120px #077,462px 120px #055,463px 120px #066,464px 120px #055,466px 120px #067,467px 120px #044,469px 120px #176,470px 120px #154,471px 120px #297,472px 120px #264,473px 120px #386,474px 120px #396,475px 120px #396,476px 120px #253,477px 120px #3a6,478px 120px #274,479px 120px #264,480px 120px #385,481px 120px #264,482px 120px #3a6,393px 121px #264,394px 121px #3a7,395px 121px #396,396px 121px #4b7,397px 121px #264,398px 121px #4b7,400px 121px #4c8,401px 121px #385,402px 121px #286,403px 121px #176,404px 121px #055,405px 121px #089,407px 121px #067,408px 121px #068,409px 121px #056,410px 121px #0bb,411px 121px #1ba,412px 121px #187,413px 121px #1bb,414px 121px #066,415px 121px #0bb,416px 121px #077,417px 121px #0ab,418px 121px #056,419px 121px #08b,420px 121px #058,421px 121px #046,422px 121px #046,423px 121px #036,424px 121px #069,425px 121px #047,426px 121px #057,427px 121px #08b,428px 121px #069,429px 121px #057,430px 121px #058,431px 121px #036,432px 121px #048,433px 121px #025,434px 121px #026,435px 121px #026,436px 121px #026,437px 121px #026,438px 121px #027,439px 121px #026,440px 121px #038,441px 121px #028,442px 121px #025,443px 121px #038,444px 121px #037,445px 121px #049,446px 121px #047,447px 121px #058,448px 121px #046,449px 121px #08a,450px 121px #056,451px 121px #056,452px 121px #056,453px 121px #056,454px 121px #057,455px 121px #056,456px 121px #057,457px 121px #07a,458px 121px #045,459px 121px #045,460px 121px #045,461px 121px #079,462px 121px #079,463px 121px #045,464px 121px #045,465px 121px #045,466px 121px #045,467px 121px #044,468px 121px #044,469px 121px #077,470px 121px #077,471px 121px #165,472px 121px #165,473px 121px #286,474px 121px #275,475px 121px #385,476px 121px #264,477px 121px #254,478px 121px #396,480px 121px #396,481px 121px #375,482px 121px #3a7,483px 121px #3a6,392px 122px #396,393px 122px #375,394px 122px #396,395px 122px #275,396px 122px #385,397px 122px #396,398px 122px #274,399px 122px #385,401px 122px #4a7,402px 122px #3c9,403px 122px #177,404px 122px #066,405px 122px #045,406px 122px #045,407px 122px #057,408px 122px #057,409px 122px #045,410px 122px #09a,411px 122px #078,412px 122px #066,413px 122px #067,414px 122px #09a,415px 122px #067,416px 122px #079,417px 122px #08b,418px 122px #07a,419px 122px #069,420px 122px #046,421px 122px #06b,422px 122px #059,423px 122px #06b,424px 122px #048,425px 122px #048,426px 122px #036,427px 122px #07b,428px 122px #069,429px 122px #06a,430px 122px #036,431px 122px #048,432px 122px #026,433px 122px #025,434px 122px #015,435px 122px #016,436px 122px #027,437px 122px #027,438px 122px #015,439px 122px #027,440px 122px #038,441px 122px #037,442px 122px #025,443px 122px #038,444px 122px #037,445px 122px #059,446px 122px #058,447px 122px #057,448px 122px #057,449px 122px #056,450px 122px #056,451px 122px #056,452px 122px #056,453px 122px #056,454px 122px #057,455px 122px #058,456px 122px #046,457px 122px #035,458px 122px #047,459px 122px #047,460px 122px #046,461px 122px #046,462px 122px #046,463px 122px #057,464px 122px #057,465px 122px #068,466px 122px #068,467px 122px #056,468px 122px #056,469px 122px #045,470px 122px #055,471px 122px #099,472px 122px #077,473px 122px #165,474px 122px #264,475px 122px #397,476px 122px #264,477px 122px #264,478px 122px #274,479px 122px #4c8,480px 122px #4c8,481px 122px #385,482px 122px #385,483px 122px #396,484px 122px #275,485px 122px #386,486px 122px #4c8,392px 123px #4c8,393px 123px #275,394px 123px #396,395px 123px #4b7,396px 123px #275,397px 123px #3a6,398px 123px #4b7,399px 123px #396,400px 123px #3b8,401px 123px #165,402px 123px #165,403px 123px #0bb,404px 123px #056,405px 123px #045,406px 123px #046,407px 123px #057,408px 123px #035,409px 123px #035,410px 123px #046,411px 123px #046,412px 123px #068,413px 123px #079,414px 123px #08b,415px 123px #057,416px 123px #07b,417px 123px #047,418px 123px #06a,419px 123px #059,420px 123px #059,421px 123px #048,422px 123px #035,423px 123px #04a,424px 123px #048,425px 123px #037,426px 123px #036,427px 123px #048,428px 123px #048,429px 123px #048,430px 123px #05a,431px 123px #036,432px 123px #026,433px 123px #027,434px 123px #027,435px 123px #015,436px 123px #017,437px 123px #028,438px 123px #015,439px 123px #015,440px 123px #025,441px 123px #037,442px 123px #049,443px 123px #049,444px 123px #036,445px 123px #036,446px 123px #057,447px 123px #07a,448px 123px #09b,449px 123px #08a,450px 123px #067,451px 123px #078,452px 123px #056,453px 123px #068,454px 123px #035,455px 123px #035,456px 123px #035,457px 123px #048,458px 123px #024,459px 123px #038,460px 123px #036,461px 123px #047,462px 123px #047,463px 123px #035,464px 123px #034,465px 123px #035,466px 123px #047,467px 123px #047,468px 123px #057,469px 123px #068,470px 123px #067,471px 123px #045,472px 123px #067,473px 123px #055,475px 123px #154,476px 123px #264,477px 123px #4b7,478px 123px #264,479px 123px #264,480px 123px #396,481px 123px #4c8,482px 123px #4d8,483px 123px #275,484px 123px #4b7,487px 123px #264,395px 124px #385,396px 124px #275,397px 124px #3a8,399px 124px #276,400px 124px #2a8,402px 124px #077,403px 124px #056,404px 124px #045,405px 124px #058,406px 124px #047,407px 124px #048,408px 124px #035,409px 124px #046,410px 124px #047,411px 124px #069,412px 124px #046,413px 124px #069,414px 124px #069,415px 124px #036,416px 124px #035,417px 124px #05a,418px 124px #058,419px 124px #036,420px 124px #036,421px 124px #048,422px 124px #04a,423px 124px #038,424px 124px #026,425px 124px #026,426px 124px #026,427px 124px #049,428px 124px #048,429px 124px #048,430px 124px #05b,431px 124px #05a,432px 124px #049,433px 124px #026,434px 124px #027,435px 124px #017,436px 124px #014,437px 124px #017,438px 124px #015,439px 124px #028,440px 124px #025,441px 124px #04a,442px 124px #049,443px 124px #035,444px 124px #048,445px 124px #046,446px 124px #07b,447px 124px #079,448px 124px #089,449px 124px #068,450px 124px #08a,451px 124px #089,452px 124px #068,453px 124px #046,454px 124px #069,455px 124px #035,456px 124px #037,457px 124px #026,458px 124px #025,459px 124px #025,460px 124px #025,461px 124px #025,462px 124px #048,463px 124px #036,464px 124px #048,465px 124px #047,466px 124px #035,467px 124px #035,468px 124px #057,469px 124px #035,470px 124px #057,471px 124px #056,472px 124px #045,473px 124px #099,474px 124px #165,475px 124px #165,476px 124px #264,477px 124px #264,478px 124px #396,479px 124px #396,480px 124px #385,481px 124px #385,482px 124px #4b7,483px 124px #3a7,484px 124px #274,485px 124px #274,486px 124px #385,487px 124px #264,488px 124px #264,489px 124px #264,490px 124px #264,491px 124px #385,392px 125px #275,393px 125px #3a7,394px 125px #264,395px 125px #275,396px 125px #2b9,397px 125px #165,398px 125px #2b9,399px 125px #187,400px 125px #198,401px 125px #0bb,402px 125px #089,403px 125px #08a,404px 125px #068,405px 125px #047,406px 125px #048,407px 125px #036,408px 125px #036,409px 125px #035,410px 125px #036,411px 125px #059,412px 125px #035,413px 125px #05a,414px 125px #05a,415px 125px #036,416px 125px #048,417px 125px #049,418px 125px #048,419px 125px #047,420px 125px #047,421px 125px #037,422px 125px #036,423px 125px #026,424px 125px #026,425px 125px #038,426px 125px #038,427px 125px #027,428px 125px #038,429px 125px #037,430px 125px #036,431px 125px #048,432px 125px #025,433px 125px #028,434px 125px #017,435px 125px #018,436px 125px #018,437px 125px #015,438px 125px #027,439px 125px #025,440px 125px #027,441px 125px #026,442px 125px #049,443px 125px #05a,444px 125px #059,445px 125px #058,446px 125px #057,447px 125px #068,448px 125px #056,449px 125px #068,450px 125px #09a,451px 125px #067,452px 125px #08b,453px 125px #046,454px 125px #036,455px 125px #037,456px 125px #027,457px 125px #026,458px 125px #026,459px 125px #025,460px 125px #024,461px 125px #026,462px 125px #048,463px 125px #035,464px 125px #058,465px 125px #047,466px 125px #035,467px 125px #047,468px 125px #035,469px 125px #057,470px 125px #058,471px 125px #057,472px 125px #067,473px 125px #089,474px 125px #098,475px 125px #198,476px 125px #2b8,477px 125px #4c8,478px 125px #4c8,479px 125px #3a7,480px 125px #5e9,481px 125px #275,482px 125px #385,483px 125px #385,484px 125px #3a7,486px 125px #386,487px 125px #264,488px 125px #253,490px 125px #264,492px 125px #274,493px 125px #253,494px 125px #571,391px 126px #396,393px 126px #396,394px 126px #3b9,395px 126px #165,396px 126px #187,397px 126px #088,399px 126px #1a9,400px 126px #066,401px 126px #0ab,402px 126px #067,403px 126px #056,404px 126px #047,405px 126px #035,406px 126px #036,407px 126px #036,408px 126px #036,409px 126px #036,410px 126px #049,411px 126px #049,412px 126px #025,413px 126px #037,414px 126px #025,415px 126px #026,416px 126px #037,417px 126px #026,418px 126px #049,419px 126px #05b,420px 126px #047,421px 126px #036,422px 126px #026,423px 126px #038,424px 126px #027,425px 126px #028,426px 126px #026,427px 126px #026,428px 126px #04a,429px 126px #049,430px 126px #038,431px 126px #049,432px 126px #039,433px 126px #028,434px 126px #017,435px 126px #017,436px 126px #014,437px 126px #015,438px 126px #029,439px 126px #027,440px 126px #026,441px 126px #025,442px 126px #04a,443px 126px #05a,444px 126px #05a,445px 126px #06a,446px 126px #046,447px 126px #058,448px 126px #068,449px 126px #07a,450px 126px #079,451px 126px #056,452px 126px #046,453px 126px #047,454px 126px #035,455px 126px #049,456px 126px #027,457px 126px #016,458px 126px #027,459px 126px #027,460px 126px #027,461px 126px #025,462px 126px #048,463px 126px #035,464px 126px #046,465px 126px #045,466px 126px #045,467px 126px #045,468px 126px #057,469px 126px #045,470px 126px #035,471px 126px #058,472px 126px #057,473px 126px #055,474px 126px #056,475px 126px #076,476px 126px #165,477px 126px #396,478px 126px #4b7,479px 126px #4c8,480px 126px #4c8,481px 126px #4b7,482px 126px #385,483px 126px #396,484px 126px #3a7,485px 126px #274,486px 126px #254,487px 126px #396,488px 126px #275,489px 126px #264,490px 126px #253,491px 126px #253,492px 126px #253,493px 126px #352,494px 126px #583,496px 126px #660,390px 127px #385,391px 127px #385,393px 127px #286,394px 127px #187,395px 127px #166,396px 127px #088,397px 127px #066,398px 127px #077,399px 127px #099,400px 127px #099,401px 127px #089,402px 127px #046,403px 127px #057,404px 127px #058,405px 127px #059,406px 127px #049,407px 127px #037,408px 127px #025,409px 127px #037,410px 127px #025,411px 127px #025,412px 127px #026,413px 127px #015,414px 127px #027,415px 127px #025,416px 127px #026,417px 127px #037,418px 127px #048,419px 127px #036,420px 127px #05b,421px 127px #05a,422px 127px #037,423px 127px #03a,424px 127px #027,425px 127px #016,426px 127px #027,427px 127px #028,428px 127px #028,429px 127px #037,430px 127px #037,431px 127px #038,432px 127px #025,433px 127px #03a,434px 127px #015,435px 127px #015,436px 127px #015,437px 127px #016,438px 127px #015,439px 127px #039,440px 127px #027,441px 127px #026,442px 127px #04a,443px 127px #036,444px 127px #036,445px 127px #036,446px 127px #036,447px 127px #07b,448px 127px #058,449px 127px #07a,450px 127px #057,451px 127px #046,452px 127px #058,453px 127px #046,454px 127px #036,455px 127px #038,456px 127px #015,457px 127px #014,458px 127px #014,459px 127px #016,460px 127px #014,461px 127px #025,462px 127px #036,463px 127px #048,464px 127px #046,465px 127px #046,466px 127px #08a,467px 127px #056,468px 127px #079,469px 127px #045,470px 127px #045,471px 127px #068,472px 127px #045,473px 127px #067,474px 127px #056,475px 127px #066,476px 127px #176,477px 127px #3a7,478px 127px #3a6,479px 127px #3a6,480px 127px #5e9,481px 127px #4d8,482px 127px #4b7,483px 127px #396,484px 127px #4c8,485px 127px #274,486px 127px #3a7,487px 127px #264,488px 127px #253,490px 127px #275,491px 127px #264,492px 127px #385,493px 127px #374,494px 127px #473,495px 127px #462,496px 127px #792,497px 127px #771,498px 127px #870,500px 127px #b90,501px 127px #ca0,502px 127px #980,503px 127px #ba0,504px 127px #560,505px 127px #561,506px 127px #451,389px 128px #286,391px 128px #3a7,393px 128px #176,394px 128px #165,395px 128px #077,396px 128px #0bb,397px 128px #066,398px 128px #066,399px 128px #056,400px 128px #056,401px 128px #08a,402px 128px #046,403px 128px #036,404px 128px #036,405px 128px #037,406px 128px #037,407px 128px #025,408px 128px #038,409px 128px #038,410px 128px #026,411px 128px #027,412px 128px #029,413px 128px #029,414px 128px #016,415px 128px #026,416px 128px #027,417px 128px #038,418px 128px #036,419px 128px #048,420px 128px #048,421px 128px #049,422px 128px #026,423px 128px #03a,424px 128px #029,425px 128px #018,426px 128px #016,427px 128px #029,428px 128px #039,429px 128px #027,430px 128px #039,431px 128px #039,432px 128px #039,433px 128px #015,434px 128px #016,435px 128px #028,436px 128px #029,437px 128px #027,438px 128px #039,439px 128px #025,440px 128px #026,441px 128px #037,442px 128px #038,443px 128px #036,444px 128px #048,445px 128px #048,446px 128px #05b,447px 128px #036,448px 128px #06a,449px 128px #06b,450px 128px #058,451px 128px #047,452px 128px #046,453px 128px #036,454px 128px #049,455px 128px #028,456px 128px #027,457px 128px #015,458px 128px #017,459px 128px #016,460px 128px #027,461px 128px #037,462px 128px #049,463px 128px #048,464px 128px #069,465px 128px #056,466px 128px #079,467px 128px #079,468px 128px #078,469px 128px #067,470px 128px #045,471px 128px #045,472px 128px #078,473px 128px #067,474px 128px #089,475px 128px #099,476px 128px #176,477px 128px #4d9,478px 128px #4d8,479px 128px #275,480px 128px #4b7,481px 128px #4d9,482px 128px #4c8,483px 128px #4b7,484px 128px #4b7,485px 128px #396,486px 128px #254,487px 128px #254,488px 128px #275,489px 128px #154,490px 128px #286,491px 128px #153,492px 128px #264,493px 128px #253,495px 128px #373,496px 128px #6a4,498px 128px #781,500px 128px #ab1,501px 128px #991,502px 128px #660,503px 128px #781,504px 128px #561,505px 128px #561,506px 128px #582,388px 129px #154,389px 129px #165,391px 129px #165,392px 129px #165,393px 129px #198,394px 129px #1ba,395px 129px #1a9,396px 129px #088,397px 129px #088,398px 129px #067,399px 129px #067,400px 129px #046,401px 129px #047,402px 129px #06a,403px 129px #036,404px 129px #049,405px 129px #026,406px 129px #025,407px 129px #025,408px 129px #027,409px 129px #015,410px 129px #029,411px 129px #015,412px 129px #016,413px 129px #015,414px 129px #028,415px 129px #015,416px 129px #025,417px 129px #038,418px 129px #036,419px 129px #036,420px 129px #037,421px 129px #037,422px 129px #027,423px 129px #026,424px 129px #029,425px 129px #015,426px 129px #015,427px 129px #015,428px 129px #016,429px 129px #026,430px 129px #039,431px 129px #039,432px 129px #026,433px 129px #028,434px 129px #029,435px 129px #027,436px 129px #029,437px 129px #025,438px 129px #039,439px 129px #037,440px 129px #049,441px 129px #049,442px 129px #026,443px 129px #038,444px 129px #025,445px 129px #039,446px 129px #037,447px 129px #04a,448px 129px #05a,449px 129px #05a,450px 129px #047,451px 129px #037,452px 129px #036,453px 129px #037,454px 129px #025,455px 129px #015,456px 129px #015,457px 129px #014,458px 129px #016,459px 129px #015,460px 129px #026,461px 129px #026,462px 129px #036,463px 129px #035,464px 129px #069,465px 129px #08b,466px 129px #067,467px 129px #056,468px 129px #056,469px 129px #068,470px 129px #057,471px 129px #067,472px 129px #057,473px 129px #078,474px 129px #077,475px 129px #076,476px 129px #187,477px 129px #3a7,478px 129px #4d9,479px 129px #396,480px 129px #275,481px 129px #375,482px 129px #385,483px 129px #385,484px 129px #264,485px 129px #3a7,486px 129px #275,487px 129px #275,488px 129px #397,489px 129px #275,490px 129px #154,491px 129px #154,492px 129px #154,493px 129px #154,494px 129px #264,495px 129px #374,496px 129px #373,497px 129px #7b5,498px 129px #6a4,499px 129px #683,500px 129px #572,501px 129px #8b3,502px 129px #572,503px 129px #683,504px 129px #462,505px 129px #583,506px 129px #572,387px 130px #297,388px 130px #176,389px 130px #066,390px 130px #077,391px 130px #076,392px 130px #076,393px 130px #1a9,394px 130px #077,395px 130px #066,397px 130px #089,398px 130px #057,399px 130px #068,400px 130px #046,401px 130px #035,402px 130px #035,403px 130px #037,404px 130px #026,405px 130px #025,406px 130px #028,407px 130px #027,408px 130px #028,409px 130px #015,410px 130px #015,411px 130px #016,412px 130px #018,413px 130px #029,414px 130px #016,415px 130px #029,416px 130px #027,417px 130px #026,418px 130px #026,419px 130px #04b,420px 130px #037,421px 130px #03b,422px 130px #028,423px 130px #016,424px 130px #018,425px 130px #017,426px 130px #017,427px 130px #016,428px 130px #016,429px 130px #026,430px 130px #028,431px 130px #025,432px 130px #015,433px 130px #027,434px 130px #028,435px 130px #028,436px 130px #027,437px 130px #039,438px 130px #049,439px 130px #04a,440px 130px #036,441px 130px #036,442px 130px #038,443px 130px #026,444px 130px #026,445px 130px #028,446px 130px #016,447px 130px #026,448px 130px #03a,449px 130px #03a,450px 130px #026,451px 130px #025,452px 130px #027,453px 130px #039,454px 130px #015,455px 130px #029,456px 130px #015,457px 130px #015,458px 130px #015,459px 130px #016,460px 130px #027,461px 130px #027,462px 130px #04a,463px 130px #047,464px 130px #057,465px 130px #08b,466px 130px #067,467px 130px #078,468px 130px #067,469px 130px #08a,470px 130px #056,471px 130px #07a,472px 130px #068,473px 130px #055,474px 130px #055,475px 130px #077,476px 130px #187,477px 130px #3a7,478px 130px #275,479px 130px #275,480px 130px #4b7,481px 130px #4b8,482px 130px #4c8,483px 130px #264,484px 130px #264,485px 130px #3b7,486px 130px #264,487px 130px #264,488px 130px #286,489px 130px #154,490px 130px #154,491px 130px #297,492px 130px #287,493px 130px #165,494px 130px #286,495px 130px #374,496px 130px #363,497px 130px #484,498px 130px #484,499px 130px #6b5,500px 130px #363,501px 130px #484,502px 130px #363,503px 130px #253,504px 130px #264,506px 130px #363,507px 130px #264,508px 130px #285,509px 130px #264,387px 131px #176,388px 131px #077,389px 131px #077,390px 131px #089,391px 131px #066,392px 131px #099,393px 131px #077,394px 131px #099,395px 131px #088,396px 131px #077,397px 131px #067,398px 131px #069,399px 131px #059,400px 131px #048,401px 131px #025,402px 131px #038,403px 131px #025,404px 131px #026,405px 131px #027,406px 131px #015,407px 131px #017,408px 131px #017,409px 131px #015,410px 131px #016,411px 131px #019,412px 131px #019,413px 131px #015,414px 131px #028,415px 131px #016,416px 131px #026,417px 131px #026,418px 131px #026,419px 131px #04b,420px 131px #039,421px 131px #03a,422px 131px #028,423px 131px #018,424px 131px #018,425px 131px #017,426px 131px #017,427px 131px #015,428px 131px #02a,429px 131px #016,430px 131px #029,431px 131px #015,432px 131px #015,433px 131px #027,434px 131px #015,435px 131px #028,436px 131px #038,437px 131px #038,438px 131px #048,439px 131px #036,440px 131px #037,441px 131px #04a,442px 131px #049,443px 131px #03a,444px 131px #027,445px 131px #028,446px 131px #018,447px 131px #016,448px 131px #016,449px 131px #016,450px 131px #017,451px 131px #028,452px 131px #02a,453px 131px #028,454px 131px #018,455px 131px #016,456px 131px #018,457px 131px #016,458px 131px #015,459px 131px #027,460px 131px #028,461px 131px #039,462px 131px #037,463px 131px #05a,464px 131px #046,465px 131px #068,466px 131px #068,467px 131px #068,468px 131px #056,469px 131px #057,470px 131px #057,471px 131px #046,472px 131px #079,473px 131px #079,474px 131px #066,475px 131px #1a9,476px 131px #186,477px 131px #286,478px 131px #3a7,479px 131px #274,480px 131px #3a6,481px 131px #4d8,482px 131px #274,483px 131px #385,484px 131px #274,485px 131px #396,486px 131px #264,487px 131px #2a8,488px 131px #2a8,489px 131px #165,490px 131px #287,491px 131px #164,492px 131px #2a8,493px 131px #296,494px 131px #275,495px 131px #274,496px 131px #495,497px 131px #6b6,498px 131px #374,499px 131px #4a6,500px 131px #375,501px 131px #396,502px 131px #254,503px 131px #254,504px 131px #275,505px 131px #154,507px 131px #264,508px 131px #385,509px 131px #253,510px 131px #253,387px 132px #055,389px 132px #077,390px 132px #056,391px 132px #056,392px 132px #089,393px 132px #09a,394px 132px #056,395px 132px #078,396px 132px #067,397px 132px #07a,398px 132px #058,399px 132px #036,400px 132px #025,401px 132px #025,402px 132px #014,403px 132px #017,404px 132px #018,405px 132px #015,406px 132px #016,407px 132px #005,408px 132px #017,409px 132px #017,410px 132px #017,411px 132px #016,412px 132px #017,413px 132px #019,414px 132px #02a,415px 132px #02a,416px 132px #02a,417px 132px #027,418px 132px #026,419px 132px #039,420px 132px #03b,421px 132px #029,422px 132px #016,423px 132px #018,424px 132px #01a,425px 132px #017,426px 132px #017,427px 132px #016,428px 132px #029,429px 132px #028,430px 132px #029,431px 132px #028,432px 132px #015,433px 132px #016,434px 132px #028,435px 132px #026,436px 132px #026,437px 132px #049,438px 132px #037,439px 132px #049,440px 132px #037,441px 132px #04a,442px 132px #038,443px 132px #026,444px 132px #016,445px 132px #016,446px 132px #017,447px 132px #005,448px 132px #006,449px 132px #005,450px 132px #017,451px 132px #015,452px 132px #018,453px 132px #018,454px 132px #015,455px 132px #016,456px 132px #015,457px 132px #016,458px 132px #016,459px 132px #016,460px 132px #025,461px 132px #026,462px 132px #049,463px 132px #05b,464px 132px #06a,465px 132px #047,466px 132px #08b,467px 132px #057,468px 132px #09b,469px 132px #057,470px 132px #056,471px 132px #056,472px 132px #045,473px 132px #078,474px 132px #056,475px 132px #088,476px 132px #1a8,477px 132px #2a8,478px 132px #275,479px 132px #397,480px 132px #4b8,481px 132px #4d8,482px 132px #385,483px 132px #3a7,484px 132px #386,485px 132px #286,486px 132px #2a8,487px 132px #165,488px 132px #165,489px 132px #176,490px 132px #276,491px 132px #265,492px 132px #3a7,493px 132px #264,494px 132px #264,495px 132px #385,496px 132px #4a5,497px 132px #5a6,498px 132px #264,499px 132px #3a6,500px 132px #286,501px 132px #164,502px 132px #2a8,503px 132px #286,504px 132px #275,505px 132px #154,506px 132px #153,507px 132px #385,509px 132px #374,387px 133px #054,388px 133px #055,390px 133px #045,391px 133px #079,392px 133px #089,393px 133px #078,394px 133px #066,396px 133px #067,397px 133px #068,398px 133px #046,399px 133px #026,400px 133px #025,401px 133px #027,402px 133px #014,403px 133px #016,404px 133px #006,405px 133px #004,406px 133px #005,407px 133px #007,408px 133px #006,409px 133px #005,410px 133px #019,411px 133px #019,412px 133px #018,413px 133px #018,414px 133px #015,415px 133px #02a,416px 133px #028,417px 133px #016,418px 133px #028,419px 133px #027,420px 133px #027,421px 133px #027,422px 133px #028,423px 133px #018,424px 133px #016,425px 133px #019,426px 133px #016,427px 133px #016,428px 133px #028,429px 133px #027,430px 133px #02a,431px 133px #02a,432px 133px #02a,433px 133px #029,434px 133px #028,435px 133px #038,436px 133px #038,437px 133px #037,438px 133px #05a,439px 133px #05a,440px 133px #037,441px 133px #037,442px 133px #027,443px 133px #027,444px 133px #017,445px 133px #015,446px 133px #008,447px 133px #006,448px 133px #007,449px 133px #009,450px 133px #005,451px 133px #005,452px 133px #005,453px 133px #006,454px 133px #016,455px 133px #015,456px 133px #016,457px 133px #018,458px 133px #027,459px 133px #016,460px 133px #039,461px 133px #027,462px 133px #04a,463px 133px #059,464px 133px #059,465px 133px #046,466px 133px #057,467px 133px #056,468px 133px #079,469px 133px #07a,470px 133px #046,471px 133px #056,472px 133px #068,473px 133px #08a,474px 133px #056,475px 133px #066,476px 133px #166,477px 133px #2a8,478px 133px #286,479px 133px #3c9,480px 133px #275,481px 133px #396,482px 133px #3a7,483px 133px #274,484px 133px #275,485px 133px #397,486px 133px #186,487px 133px #165,488px 133px #065,489px 133px #1a9,490px 133px #187,491px 133px #264,492px 133px #4b7,493px 133px #395,494px 133px #495,495px 133px #385,496px 133px #374,497px 133px #485,498px 133px #264,499px 133px #3a6,500px 133px #286,501px 133px #276,502px 133px #165,503px 133px #187,504px 133px #165,505px 133px #264,506px 133px #385,507px 133px #364,508px 133px #363,509px 133px #362,387px 134px #076,388px 134px #066,389px 134px #089,390px 134px #056,391px 134px #045,392px 134px #045,393px 134px #079,394px 134px #089,395px 134px #056,396px 134px #079,397px 134px #057,398px 134px #035,399px 134px #049,400px 134px #026,401px 134px #017,402px 134px #015,403px 134px #006,404px 134px #008,405px 134px #005,406px 134px #004,407px 134px #008,408px 134px #005,409px 134px #008,410px 134px #008,411px 134px #005,412px 134px #009,413px 134px #018,414px 134px #019,415px 134px #017,416px 134px #015,417px 134px #029,418px 134px #028,419px 134px #027,420px 134px #03a,421px 134px #02a,422px 134px #029,423px 134px #02a,424px 134px #016,425px 134px #018,426px 134px #02a,427px 134px #016,428px 134px #016,429px 134px #02a,430px 134px #028,431px 134px #017,432px 134px #015,433px 134px #015,434px 134px #027,435px 134px #039,436px 134px #04a,437px 134px #04a,438px 134px #05c,439px 134px #05c,440px 134px #04a,441px 134px #039,442px 134px #03b,443px 134px #029,444px 134px #017,445px 134px #005,446px 134px #009,447px 134px #006,448px 134px #005,449px 134px #004,450px 134px #006,451px 134px #007,452px 134px #008,453px 134px #005,454px 134px #006,455px 134px #005,456px 134px #015,457px 134px #029,458px 134px #027,459px 134px #026,460px 134px #027,461px 134px #049,462px 134px #049,463px 134px #059,464px 134px #046,465px 134px #07b,466px 134px #058,467px 134px #079,468px 134px #057,469px 134px #046,470px 134px #045,471px 134px #068,472px 134px #046,473px 134px #078,474px 134px #067,475px 134px #089,476px 134px #099,477px 134px #187,478px 134px #187,479px 134px #297,480px 134px #275,481px 134px #386,482px 134px #396,483px 134px #4c8,484px 134px #3b8,485px 134px #297,486px 134px #198,487px 134px #0a9,488px 134px #089,489px 134px #066,490px 134px #198,491px 134px #175,492px 134px #286,493px 134px #4a6,494px 134px #5c7,495px 134px #6d7,496px 134px #374,497px 134px #5a5,498px 134px #495,499px 134px #364,500px 134px #264,501px 134px #165,502px 134px #187,503px 134px #088,504px 134px #176,505px 134px #264,506px 134px #495,507px 134px #494,508px 134px #483,509px 134px #693,387px 135px #055,388px 135px #066,389px 135px #077,390px 135px #067,391px 135px #068,393px 135px #057,394px 135px #056,395px 135px #08a,396px 135px #07a,397px 135px #058,398px 135px #035,399px 135px #049,400px 135px #015,401px 135px #028,402px 135px #018,403px 135px #006,404px 135px #007,405px 135px #005,406px 135px #006,407px 135px #005,408px 135px #009,409px 135px #009,410px 135px #005,411px 135px #006,412px 135px #007,413px 135px #007,414px 135px #008,415px 135px #016,416px 135px #015,417px 135px #028,418px 135px #029,419px 135px #03a,420px 135px #026,421px 135px #03b,422px 135px #016,423px 135px #029,424px 135px #017,425px 135px #016,426px 135px #018,427px 135px #016,428px 135px #028,429px 135px #016,430px 135px #028,431px 135px #028,432px 135px #028,433px 135px #028,434px 135px #03a,435px 135px #04a,436px 135px #038,437px 135px #049,438px 135px #04a,439px 135px #026,440px 135px #027,441px 135px #03a,442px 135px #026,443px 135px #017,444px 135px #018,445px 135px #017,446px 135px #006,447px 135px #005,448px 135px #006,449px 135px #006,450px 135px #008,451px 135px #006,452px 135px #005,453px 135px #006,454px 135px #005,455px 135px #006,456px 135px #015,457px 135px #027,458px 135px #03a,459px 135px #04a,460px 135px #037,461px 135px #026,462px 135px #036,463px 135px #036,464px 135px #047,465px 135px #069,466px 135px #057,467px 135px #058,468px 135px #056,469px 135px #079,470px 135px #046,471px 135px #057,472px 135px #057,473px 135px #046,474px 135px #068,475px 135px #089,476px 135px #0aa,477px 135px #066,478px 135px #077,479px 135px #176,480px 135px #2b9,481px 135px #286,482px 135px #3a7,483px 135px #275,484px 135px #175,485px 135px #176,486px 135px #066,487px 135px #089,488px 135px #067,489px 135px #078,490px 135px #077,491px 135px #1a9,492px 135px #3b9,493px 135px #274,494px 135px #384,495px 135px #484,496px 135px #6b5,497px 135px #694,498px 135px #8d5,499px 135px #473,500px 135px #496,501px 135px #3a7,502px 135px #165,503px 135px #188,504px 135px #165,505px 135px #375,506px 135px #363,507px 135px #6a4,509px 135px #462,386px 136px #044,388px 136px #055,389px 136px #067,390px 136px #067,392px 136px #058,393px 136px #069,394px 136px #058,395px 136px #057,396px 136px #057,397px 136px #046,398px 136px #036,399px 136px #049,400px 136px #039,401px 136px #027,402px 136px #016,403px 136px #004,404px 136px #005,405px 136px #007,406px 136px #005,407px 136px #007,408px 136px #007,409px 136px #006,410px 136px #006,411px 136px #008,412px 136px #009,413px 136px #005,414px 136px #005,415px 136px #006,416px 136px #01a,417px 136px #017,418px 136px #027,419px 136px #028,420px 136px #029,421px 136px #02a,422px 136px #02a,423px 136px #019,424px 136px #019,425px 136px #016,426px 136px #016,427px 136px #016,428px 136px #029,429px 136px #027,430px 136px #026,431px 136px #027,432px 136px #03a,433px 136px #03a,434px 136px #04b,435px 136px #05c,436px 136px #05c,437px 136px #049,438px 136px #038,439px 136px #038,440px 136px #027,441px 136px #016,442px 136px #017,443px 136px #016,444px 136px #016,445px 136px #019,446px 136px #017,447px 136px #005,448px 136px #006,449px 136px #007,450px 136px #004,451px 136px #005,452px 136px #007,453px 136px #007,454px 136px #005,455px 136px #019,456px 136px #019,457px 136px #016,458px 136px #039,459px 136px #04a,460px 136px #038,461px 136px #037,462px 136px #049,463px 136px #059,464px 136px #06b,465px 136px #046,466px 136px #058,467px 136px #057,468px 136px #068,469px 136px #068,470px 136px #045,471px 136px #046,472px 136px #068,473px 136px #046,474px 136px #056,475px 136px #056,476px 136px #078,477px 136px #0ab,478px 136px #077,479px 136px #066,480px 136px #177,481px 136px #2a8,482px 136px #176,483px 136px #176,484px 136px #1ba,485px 136px #066,486px 136px #055,487px 136px #067,488px 136px #079,489px 136px #078,490px 136px #077,491px 136px #077,492px 136px #165,493px 136px #3a7,494px 136px #5c8,495px 136px #6d7,496px 136px #483,497px 136px #792,498px 136px #681,499px 136px #572,500px 136px #484,501px 136px #396,502px 136px #165,503px 136px #286,504px 136px #264,505px 136px #374,506px 136px #362,507px 136px #7a4,508px 136px #572,386px 137px #088,387px 137px #088,388px 137px #055,389px 137px #067,390px 137px #056,391px 137px #056,392px 137px #057,393px 137px #047,394px 137px #058,395px 137px #046,396px 137px #069,397px 137px #069,398px 137px #06a,399px 137px #049,400px 137px #026,401px 137px #015,402px 137px #017,403px 137px #017,404px 137px #005,405px 137px #007,406px 137px #006,407px 137px #006,408px 137px #005,409px 137px #018,410px 137px #005,411px 137px #005,412px 137px #005,413px 137px #006,414px 137px #009,415px 137px #005,416px 137px #006,417px 137px #017,418px 137px #028,419px 137px #027,420px 137px #027,421px 137px #016,422px 137px #016,423px 137px #015,424px 137px #015,425px 137px #016,426px 137px #016,427px 137px #016,428px 137px #03a,429px 137px #029,430px 137px #026,431px 137px #026,432px 137px #038,433px 137px #039,434px 137px #038,435px 137px #038,436px 137px #038,437px 137px #027,438px 137px #039,439px 137px #029,440px 137px #016,441px 137px #017,442px 137px #016,443px 137px #016,444px 137px #02b,445px 137px #017,446px 137px #01a,447px 137px #018,448px 137px #006,449px 137px #008,450px 137px #008,451px 137px #008,452px 137px #005,453px 137px #008,454px 137px #006,455px 137px #019,456px 137px #029,457px 137px #026,458px 137px #037,459px 137px #026,460px 137px #037,461px 137px #05a,462px 137px #059,463px 137px #047,464px 137px #036,465px 137px #036,466px 137px #058,467px 137px #058,468px 137px #035,469px 137px #046,470px 137px #07a,471px 137px #057,472px 137px #069,473px 137px #068,474px 137px #057,475px 137px #056,476px 137px #078,477px 137px #056,478px 137px #089,479px 137px #089,480px 137px #076,481px 137px #198,482px 137px #1cb,483px 137px #198,484px 137px #066,485px 137px #056,486px 137px #089,487px 137px #045,488px 137px #045,489px 137px #056,490px 137px #067,491px 137px #066,492px 137px #176,493px 137px #286,494px 137px #386,495px 137px #4b7,496px 137px #7d6,497px 137px #8a2,498px 137px #9a1,499px 137px #ad2,500px 137px #474,501px 137px #3a7,502px 137px #165,503px 137px #3a7,505px 137px #584,506px 137px #6a3,507px 137px #572,508px 137px #562,386px 138px #066,387px 138px #077,389px 138px #067,390px 138px #045,391px 138px #045,392px 138px #069,393px 138px #035,394px 138px #035,395px 138px #058,396px 138px #07a,397px 138px #035,398px 138px #059,399px 138px #037,400px 138px #037,401px 138px #025,402px 138px #027,403px 138px #016,404px 138px #015,405px 138px #005,406px 138px #005,407px 138px #008,408px 138px #019,409px 138px #005,410px 138px #019,411px 138px #007,412px 138px #007,413px 138px #006,414px 138px #007,415px 138px #005,416px 138px #005,417px 138px #016,418px 138px #016,419px 138px #026,420px 138px #026,421px 138px #027,422px 138px #029,423px 138px #016,424px 138px #017,425px 138px #02a,426px 138px #029,427px 138px #026,428px 138px #016,429px 138px #026,430px 138px #038,431px 138px #039,432px 138px #039,433px 138px #037,434px 138px #05b,435px 138px #04a,436px 138px #027,437px 138px #039,438px 138px #03b,439px 138px #018,440px 138px #017,441px 138px #019,442px 138px #019,443px 138px #016,444px 138px #016,445px 138px #017,446px 138px #016,447px 138px #02a,448px 138px #017,449px 138px #005,450px 138px #005,451px 138px #006,452px 138px #005,453px 138px #008,454px 138px #005,455px 138px #019,456px 138px #016,457px 138px #026,458px 138px #037,459px 138px #036,460px 138px #06b,461px 138px #047,462px 138px #059,463px 138px #046,464px 138px #06a,465px 138px #06a,466px 138px #058,467px 138px #059,468px 138px #047,469px 138px #06a,470px 138px #058,471px 138px #069,472px 138px #057,473px 138px #068,474px 138px #045,475px 138px #046,476px 138px #057,477px 138px #056,478px 138px #078,479px 138px #067,480px 138px #099,481px 138px #066,482px 138px #077,483px 138px #089,484px 138px #0aa,485px 138px #089,486px 138px #056,487px 138px #079,488px 138px #089,489px 138px #056,490px 138px #078,491px 138px #099,492px 138px #099,493px 138px #187,494px 138px #275,495px 138px #3a7,496px 138px #6c6,497px 138px #8a3,499px 138px #682,500px 138px #595,501px 138px #4b7,502px 138px #4c8,503px 138px #364,504px 138px #5a5,505px 138px #473,506px 138px #693,386px 139px #066,388px 139px #045,389px 139px #068,390px 139px #045,391px 139px #057,392px 139px #035,393px 139px #047,394px 139px #035,395px 139px #069,396px 139px #046,397px 139px #06a,398px 139px #047,399px 139px #037,400px 139px #036,401px 139px #026,402px 139px #015,403px 139px #015,404px 139px #018,405px 139px #016,406px 139px #016,407px 139px #005,408px 139px #018,409px 139px #018,410px 139px #015,411px 139px #005,412px 139px #017,413px 139px #006,414px 139px #006,415px 139px #007,416px 139px #015,417px 139px #018,418px 139px #017,419px 139px #027,420px 139px #028,421px 139px #027,422px 139px #027,423px 139px #017,424px 139px #028,425px 139px #016,426px 139px #029,427px 139px #016,428px 139px #028,429px 139px #028,430px 139px #038,431px 139px #04b,432px 139px #037,433px 139px #037,434px 139px #037,435px 139px #037,436px 139px #038,437px 139px #03a,438px 139px #02b,439px 139px #018,440px 139px #017,441px 139px #016,442px 139px #016,443px 139px #018,444px 139px #029,445px 139px #027,446px 139px #027,447px 139px #029,448px 139px #018,449px 139px #017,450px 139px #019,451px 139px #005,452px 139px #007,453px 139px #019,454px 139px #016,455px 139px #016,456px 139px #038,457px 139px #037,458px 139px #037,459px 139px #048,460px 139px #047,461px 139px #069,462px 139px #047,463px 139px #058,464px 139px #046,465px 139px #047,466px 139px #047,467px 139px #047,468px 139px #035,469px 139px #059,470px 139px #059,471px 139px #046,472px 139px #047,473px 139px #069,474px 139px #058,475px 139px #08a,476px 139px #08b,477px 139px #079,478px 139px #079,479px 139px #067,480px 139px #067,481px 139px #066,482px 139px #089,483px 139px #0aa,484px 139px #09a,485px 139px #067,486px 139px #089,487px 139px #079,488px 139px #045,489px 139px #045,490px 139px #078,491px 139px #067,492px 139px #067,493px 139px #1aa,494px 139px #165,495px 139px #286,496px 139px #4b7,497px 139px #584,498px 139px #9e5,499px 139px #6b4,500px 139px #484,501px 139px #6c7,502px 139px #5a5,503px 139px #363,504px 139px #363,505px 139px #6b5,386px 140px #065,387px 140px #055,388px 140px #045,389px 140px #078,390px 140px #068,391px 140px #056,392px 140px #045,393px 140px #068,394px 140px #035,395px 140px #036,396px 140px #058,397px 140px #047,398px 140px #047,399px 140px #05a,400px 140px #025,401px 140px #037,402px 140px #039,403px 140px #028,404px 140px #016,405px 140px #015,406px 140px #016,407px 140px #016,408px 140px #018,409px 140px #016,410px 140px #018,411px 140px #016,412px 140px #019,413px 140px #017,414px 140px #005,415px 140px #01a,416px 140px #016,417px 140px #016,418px 140px #029,419px 140px #026,420px 140px #03a,421px 140px #028,422px 140px #02a,423px 140px #016,424px 140px #016,425px 140px #018,426px 140px #02b,427px 140px #016,428px 140px #016,429px 140px #027,430px 140px #027,431px 140px #026,432px 140px #037,433px 140px #05c,434px 140px #039,435px 140px #039,436px 140px #03b,437px 140px #02b,438px 140px #016,439px 140px #019,440px 140px #006,441px 140px #006,442px 140px #01b,443px 140px #02b,444px 140px #016,445px 140px #03c,446px 140px #029,447px 140px #03a,448px 140px #016,449px 140px #029,450px 140px #015,451px 140px #015,452px 140px #018,453px 140px #019,454px 140px #029,455px 140px #015,456px 140px #026,457px 140px #037,458px 140px #05a,459px 140px #07b,460px 140px #069,461px 140px #058,462px 140px #057,463px 140px #069,464px 140px #046,465px 140px #057,466px 140px #059,467px 140px #036,468px 140px #059,469px 140px #035,470px 140px #047,471px 140px #06a,472px 140px #069,473px 140px #046,474px 140px #046,475px 140px #046,476px 140px #046,477px 140px #057,478px 140px #046,479px 140px #07a,480px 140px #057,481px 140px #057,482px 140px #089,483px 140px #067,484px 140px #056,485px 140px #056,486px 140px #045,487px 140px #045,488px 140px #079,489px 140px #056,490px 140px #089,491px 140px #045,492px 140px #078,493px 140px #099,494px 140px #1bb,495px 140px #166,496px 140px #275,497px 140px #385,498px 140px #5a6,499px 140px #5b6,500px 140px #484,501px 140px #594,502px 140px #7b5,503px 140px #594,504px 140px #484,505px 140px #473,506px 140px #594,386px 141px #066,388px 141px #056,389px 141px #045,390px 141px #079,391px 141px #067,392px 141px #045,393px 141px #058,394px 141px #057,395px 141px #058,396px 141px #059,397px 141px #058,398px 141px #035,399px 141px #048,400px 141px #037,401px 141px #038,402px 141px #025,403px 141px #029,404px 141px #029,405px 141px #017,406px 141px #018,407px 141px #016,408px 141px #016,409px 141px #016,410px 141px #029,411px 141px #017,412px 141px #015,413px 141px #018,414px 141px #017,415px 141px #016,416px 141px #016,417px 141px #016,418px 141px #027,419px 141px #03b,420px 141px #028,421px 141px #028,422px 141px #03b,423px 141px #02a,424px 141px #029,425px 141px #017,426px 141px #017,427px 141px #029,428px 141px #016,429px 141px #02a,430px 141px #028,431px 141px #028,432px 141px #04b,433px 141px #04b,434px 141px #04b,435px 141px #03b,436px 141px #028,437px 141px #016,438px 141px #019,439px 141px #00a,440px 141px #005,441px 141px #006,442px 141px #017,443px 141px #02a,444px 141px #02b,445px 141px #027,446px 141px #029,447px 141px #03a,448px 141px #016,449px 141px #016,450px 141px #016,451px 141px #019,452px 141px #018,453px 141px #016,454px 141px #028,455px 141px #027,456px 141px #037,457px 141px #06b,458px 141px #046,459px 141px #047,460px 141px #056,461px 141px #08b,462px 141px #056,463px 141px #057,464px 141px #046,465px 141px #046,466px 141px #058,467px 141px #047,468px 141px #035,469px 141px #036,470px 141px #035,471px 141px #036,472px 141px #036,473px 141px #059,474px 141px #069,475px 141px #046,476px 141px #046,477px 141px #058,478px 141px #069,479px 141px #046,480px 141px #056,481px 141px #079,482px 141px #079,483px 141px #056,484px 141px #066,485px 141px #056,486px 141px #079,487px 141px #057,488px 141px #067,489px 141px #056,490px 141px #056,491px 141px #078,492px 141px #089,493px 141px #077,494px 141px #088,495px 141px #077,496px 141px #187,497px 141px #3b8,498px 141px #4c8,499px 141px #495,500px 141px #6c6,501px 141px #584,502px 141px #7c5,503px 141px #473,504px 141px #495,505px 141px #5a5,506px 141px #352,507px 141px #462,386px 142px #066,387px 142px #055,388px 142px #088,389px 142px #066,391px 142px #079,392px 142px #068,393px 142px #045,394px 142px #07a,395px 142px #046,396px 142px #046,397px 142px #036,398px 142px #059,399px 142px #036,400px 142px #05a,401px 142px #036,402px 142px #025,403px 142px #038,404px 142px #026,405px 142px #015,406px 142px #015,407px 142px #028,408px 142px #015,409px 142px #028,410px 142px #016,411px 142px #029,412px 142px #02a,413px 142px #029,414px 142px #016,415px 142px #017,416px 142px #027,417px 142px #028,418px 142px #029,419px 142px #026,420px 142px #027,421px 142px #016,422px 142px #016,423px 142px #019,424px 142px #018,425px 142px #019,426px 142px #016,427px 142px #019,428px 142px #017,429px 142px #019,430px 142px #029,431px 142px #016,432px 142px #028,433px 142px #027,434px 142px #02a,435px 142px #028,436px 142px #019,437px 142px #019,438px 142px #007,439px 142px #009,440px 142px #006,441px 142px #006,442px 142px #017,443px 142px #01a,444px 142px #017,445px 142px #02a,446px 142px #027,447px 142px #027,448px 142px #02a,449px 142px #016,450px 142px #016,451px 142px #016,452px 142px #029,453px 142px #025,454px 142px #037,455px 142px #026,456px 142px #05a,457px 142px #06b,458px 142px #06a,459px 142px #057,460px 142px #079,461px 142px #056,462px 142px #068,463px 142px #09b,464px 142px #068,465px 142px #069,466px 142px #046,467px 142px #047,468px 142px #047,469px 142px #059,470px 142px #035,471px 142px #035,472px 142px #036,473px 142px #036,474px 142px #06a,475px 142px #058,476px 142px #046,477px 142px #07b,478px 142px #058,479px 142px #057,480px 142px #057,481px 142px #068,482px 142px #079,483px 142px #078,484px 142px #066,485px 142px #089,486px 142px #056,487px 142px #067,488px 142px #066,489px 142px #056,490px 142px #08a,491px 142px #067,492px 142px #089,493px 142px #056,494px 142px #0aa,495px 142px #066,496px 142px #065,497px 142px #165,498px 142px #265,499px 142px #4b6,500px 142px #474,501px 142px #6a4,502px 142px #7c5,503px 142px #584,504px 142px #494,505px 142px #584,506px 142px #352,386px 143px #165,387px 143px #076,388px 143px #077,390px 143px #066,391px 143px #077,392px 143px #078,393px 143px #079,394px 143px #068,395px 143px #079,396px 143px #07a,397px 143px #046,398px 143px #06a,399px 143px #036,400px 143px #047,401px 143px #048,402px 143px #048,403px 143px #037,404px 143px #038,405px 143px #03a,406px 143px #028,407px 143px #028,408px 143px #039,409px 143px #03a,410px 143px #03a,411px 143px #03a,412px 143px #028,413px 143px #039,414px 143px #028,415px 143px #027,416px 143px #03b,417px 143px #027,418px 143px #028,419px 143px #028,420px 143px #016,421px 143px #016,422px 143px #016,423px 143px #006,424px 143px #006,425px 143px #009,426px 143px #009,427px 143px #00a,428px 143px #00a,429px 143px #008,430px 143px #01c,431px 143px #016,432px 143px #02b,433px 143px #016,434px 143px #02c,435px 143px #018,436px 143px #019,437px 143px #00a,438px 143px #007,439px 143px #009,440px 143px #008,441px 143px #009,442px 143px #006,443px 143px #017,444px 143px #017,445px 143px #018,446px 143px #02a,447px 143px #016,448px 143px #016,449px 143px #015,450px 143px #02a,451px 143px #017,452px 143px #015,453px 143px #026,454px 143px #026,455px 143px #037,456px 143px #036,457px 143px #059,458px 143px #08b,459px 143px #08b,460px 143px #079,461px 143px #08a,462px 143px #09b,463px 143px #079,464px 143px #09c,465px 143px #056,466px 143px #057,467px 143px #069,468px 143px #047,469px 143px #047,470px 143px #036,471px 143px #047,472px 143px #047,473px 143px #059,474px 143px #047,475px 143px #047,476px 143px #047,477px 143px #059,478px 143px #046,479px 143px #046,480px 143px #047,481px 143px #057,482px 143px #067,483px 143px #089,484px 143px #078,485px 143px #066,486px 143px #067,487px 143px #056,488px 143px #078,489px 143px #066,490px 143px #09a,491px 143px #078,492px 143px #089,493px 143px #066,494px 143px #056,495px 143px #088,496px 143px #066,497px 143px #165,498px 143px #297,499px 143px #264,500px 143px #484,501px 143px #473,502px 143px #7c4,503px 143px #6a3,504px 143px #473,505px 143px #352,506px 143px #693,386px 144px #2a7,387px 144px #154,388px 144px #165,389px 144px #176,390px 144px #065,391px 144px #077,392px 144px #055,393px 144px #056,394px 144px #056,395px 144px #079,396px 144px #046,397px 144px #069,398px 144px #047,399px 144px #046,400px 144px #06b,401px 144px #05a,402px 144px #035,403px 144px #037,404px 144px #04a,405px 144px #027,406px 144px #039,407px 144px #026,408px 144px #038,409px 144px #038,410px 144px #038,411px 144px #037,412px 144px #026,413px 144px #027,414px 144px #027,415px 144px #027,416px 144px #02a,417px 144px #029,418px 144px #016,419px 144px #017,420px 144px #018,421px 144px #006,422px 144px #009,423px 144px #005,424px 144px #006,425px 144px #007,426px 144px #006,427px 144px #007,428px 144px #005,429px 144px #006,430px 144px #007,431px 144px #006,432px 144px #01b,433px 144px #008,434px 144px #009,435px 144px #008,436px 144px #00a,437px 144px #006,438px 144px #008,439px 144px #006,440px 144px #009,441px 144px #005,442px 144px #00a,443px 144px #019,444px 144px #019,445px 144px #016,446px 144px #015,447px 144px #017,448px 144px #016,449px 144px #016,450px 144px #016,451px 144px #029,452px 144px #026,453px 144px #039,454px 144px #037,455px 144px #036,456px 144px #06b,457px 144px #07b,458px 144px #07a,459px 144px #08c,460px 144px #056,461px 144px #056,462px 144px #068,463px 144px #09b,464px 144px #068,465px 144px #058,466px 144px #068,467px 144px #069,468px 144px #036,469px 144px #036,470px 144px #06b,471px 144px #049,472px 144px #036,473px 144px #048,474px 144px #05a,475px 144px #048,476px 144px #036,477px 144px #036,478px 144px #06a,479px 144px #046,480px 144px #07b,481px 144px #057,482px 144px #08b,483px 144px #067,484px 144px #0bc,485px 144px #099,486px 144px #09a,487px 144px #067,488px 144px #066,489px 144px #077,490px 144px #066,491px 144px #0bb,492px 144px #077,493px 144px #056,494px 144px #066,495px 144px #077,496px 144px #177,497px 144px #1a8,498px 144px #164,499px 144px #264,500px 144px #484,501px 144px #6a4,502px 144px #582,503px 144px #572,504px 144px #462,505px 144px #693,506px 144px #693,387px 145px #275,388px 145px #275,389px 145px #275,390px 145px #1b9,391px 145px #0aa,392px 145px #066,393px 145px #088,394px 145px #067,395px 145px #089,396px 145px #056,397px 145px #068,398px 145px #069,399px 145px #058,400px 145px #059,401px 145px #059,402px 145px #047,403px 145px #048,404px 145px #037,405px 145px #037,406px 145px #038,407px 145px #05b,408px 145px #05b,409px 145px #036,410px 145px #04a,411px 145px #038,412px 145px #026,413px 145px #026,414px 145px #027,415px 145px #03b,416px 145px #016,417px 145px #017,418px 145px #016,419px 145px #01b,420px 145px #00a,421px 145px #00a,422px 145px #005,423px 145px #007,424px 145px #007,425px 145px #004,426px 145px #005,427px 145px #005,428px 145px #006,429px 145px #005,430px 145px #006,431px 145px #008,432px 145px #00a,433px 145px #007,434px 145px #009,435px 145px #008,436px 145px #009,437px 145px #007,438px 145px #008,439px 145px #005,440px 145px #005,441px 145px #005,442px 145px #009,443px 145px #007,444px 145px #005,445px 145px #01a,446px 145px #018,447px 145px #016,448px 145px #005,449px 145px #017,450px 145px #019,451px 145px #029,452px 145px #026,453px 145px #027,454px 145px #026,455px 145px #049,456px 145px #046,457px 145px #06a,458px 145px #047,459px 145px #08c,460px 145px #046,461px 145px #057,462px 145px #07a,463px 145px #07b,464px 145px #068,465px 145px #08b,466px 145px #058,467px 145px #047,468px 145px #046,469px 145px #047,470px 145px #05a,471px 145px #048,472px 145px #037,473px 145px #048,474px 145px #049,475px 145px #036,476px 145px #047,477px 145px #048,478px 145px #06b,479px 145px #047,480px 145px #047,481px 145px #08c,482px 145px #079,483px 145px #079,484px 145px #088,485px 145px #077,486px 145px #09a,487px 145px #089,488px 145px #089,489px 145px #078,490px 145px #099,491px 145px #066,492px 145px #0aa,493px 145px #077,494px 145px #099,495px 145px #076,496px 145px #066,497px 145px #165,498px 145px #197,499px 145px #264,500px 145px #374,501px 145px #462,502px 145px #792,503px 145px #792,504px 145px #693,505px 145px #462,506px 145px #462,387px 146px #396,388px 146px #385,389px 146px #275,390px 146px #2a7,391px 146px #165,392px 146px #1ca,393px 146px #198,394px 146px #099,395px 146px #056,396px 146px #067,397px 146px #067,398px 146px #079,399px 146px #069,400px 146px #058,401px 146px #036,402px 146px #058,403px 146px #047,404px 146px #047,405px 146px #036,406px 146px #047,407px 146px #037,408px 146px #059,409px 146px #036,410px 146px #04a,411px 146px #049,412px 146px #037,413px 146px #03a,414px 146px #026,415px 146px #027,416px 146px #018,417px 146px #019,418px 146px #008,419px 146px #008,420px 146px #005,421px 146px #009,422px 146px #006,423px 146px #006,424px 146px #006,425px 146px #006,426px 146px #005,427px 146px #006,428px 146px #004,429px 146px #006,430px 146px #008,431px 146px #005,432px 146px #006,433px 146px #007,434px 146px #006,435px 146px #009,436px 146px #007,437px 146px #007,438px 146px #005,439px 146px #008,440px 146px #005,441px 146px #004,442px 146px #006,443px 146px #008,444px 146px #006,445px 146px #005,446px 146px #005,447px 146px #006,448px 146px #005,449px 146px #016,450px 146px #018,451px 146px #016,452px 146px #03a,453px 146px #04a,454px 146px #05a,455px 146px #047,456px 146px #059,457px 146px #047,458px 146px #07b,459px 146px #047,460px 146px #047,461px 146px #047,462px 146px #058,463px 146px #047,464px 146px #048,465px 146px #047,466px 146px #06a,467px 146px #046,468px 146px #058,469px 146px #059,470px 146px #05a,471px 146px #037,472px 146px #049,473px 146px #026,474px 146px #026,475px 146px #04a,476px 146px #026,477px 146px #037,478px 146px #036,479px 146px #059,480px 146px #08c,481px 146px #058,482px 146px #08c,483px 146px #079,484px 146px #09a,485px 146px #09a,486px 146px #067,487px 146px #078,488px 146px #088,489px 146px #076,490px 146px #1cb,491px 146px #066,492px 146px #099,493px 146px #099,494px 146px #088,495px 146px #0a9,496px 146px #055,497px 146px #198,498px 146px #155,499px 146px #264,500px 146px #595,501px 146px #472,502px 146px #571,503px 146px #682,504px 146px #683,506px 146px #8a2,389px 147px #4b7,390px 147px #4a7,391px 147px #286,392px 147px #287,393px 147px #165,394px 147px #088,395px 147px #066,396px 147px #088,397px 147px #066,398px 147px #067,399px 147px #045,400px 147px #046,401px 147px #046,402px 147px #06a,403px 147px #047,404px 147px #06a,405px 147px #046,406px 147px #048,407px 147px #05a,408px 147px #05a,409px 147px #049,410px 147px #038,411px 147px #038,412px 147px #039,413px 147px #027,414px 147px #029,415px 147px #029,416px 147px #01a,417px 147px #018,418px 147px #007,419px 147px #009,420px 147px #006,421px 147px #008,422px 147px #004,423px 147px #004,424px 147px #006,425px 147px #006,426px 147px #007,427px 147px #006,428px 147px #007,429px 147px #008,430px 147px #006,431px 147px #007,432px 147px #008,433px 147px #007,434px 147px #005,435px 147px #008,436px 147px #006,437px 147px #006,438px 147px #005,439px 147px #004,440px 147px #007,441px 147px #004,442px 147px #004,443px 147px #007,444px 147px #008,445px 147px #009,446px 147px #007,447px 147px #008,448px 147px #005,449px 147px #015,450px 147px #028,451px 147px #015,452px 147px #026,453px 147px #049,454px 147px #05b,455px 147px #05a,456px 147px #036,457px 147px #048,458px 147px #036,459px 147px #036,460px 147px #036,461px 147px #05a,462px 147px #036,463px 147px #05b,464px 147px #037,465px 147px #047,466px 147px #037,467px 147px #059,468px 147px #059,469px 147px #048,470px 147px #05b,471px 147px #036,472px 147px #037,473px 147px #037,474px 147px #027,475px 147px #027,476px 147px #038,477px 147px #036,478px 147px #036,479px 147px #058,480px 147px #047,481px 147px #058,482px 147px #057,483px 147px #09c,484px 147px #068,485px 147px #08a,486px 147px #067,487px 147px #088,488px 147px #076,489px 147px #198,490px 147px #198,491px 147px #099,492px 147px #066,493px 147px #0aa,494px 147px #0a9,495px 147px #065,496px 147px #087,497px 147px #198,498px 147px #275,499px 147px #4a6,500px 147px #474,501px 147px #572,502px 147px #781,503px 147px #671,504px 147px #8b3,505px 147px #572,506px 147px #9b1,389px 148px #264,390px 148px #385,391px 148px #275,392px 148px #2b8,393px 148px #1a9,394px 148px #077,395px 148px #0bb,396px 148px #099,397px 148px #0ab,398px 148px #056,399px 148px #079,400px 148px #068,401px 148px #045,402px 148px #046,403px 148px #036,404px 148px #069,405px 148px #046,406px 148px #06a,407px 148px #05a,408px 148px #037,409px 148px #04a,410px 148px #038,411px 148px #04b,412px 148px #03a,413px 148px #027,414px 148px #016,415px 148px #016,416px 148px #01a,417px 148px #017,418px 148px #006,419px 148px #009,420px 148px #009,421px 148px #005,422px 148px #005,423px 148px #005,424px 148px #006,425px 148px #005,426px 148px #007,427px 148px #007,428px 148px #008,429px 148px #006,430px 148px #007,431px 148px #006,432px 148px #005,433px 148px #008,434px 148px #008,435px 148px #006,436px 148px #007,437px 148px #006,438px 148px #005,439px 148px #006,440px 148px #007,441px 148px #005,442px 148px #006,443px 148px #005,444px 148px #007,445px 148px #007,446px 148px #006,447px 148px #005,448px 148px #015,449px 148px #018,450px 148px #029,451px 148px #027,452px 148px #04a,453px 148px #037,454px 148px #048,455px 148px #06b,456px 148px #06b,457px 148px #036,458px 148px #036,459px 148px #048,460px 148px #037,461px 148px #026,462px 148px #037,463px 148px #037,464px 148px #04a,465px 148px #037,466px 148px #038,467px 148px #037,468px 148px #047,469px 148px #036,470px 148px #048,471px 148px #04b,472px 148px #026,473px 148px #025,474px 148px #015,475px 148px #027,476px 148px #026,477px 148px #049,478px 148px #047,479px 148px #06a,480px 148px #058,481px 148px #069,482px 148px #046,483px 148px #079,484px 148px #07a,485px 148px #056,486px 148px #066,487px 148px #0aa,488px 148px #188,489px 148px #176,490px 148px #066,491px 148px #066,492px 148px #198,493px 148px #165,494px 148px #2b9,495px 148px #166,496px 148px #198,497px 148px #165,498px 148px #396,499px 148px #5a5,500px 148px #583,501px 148px #571,502px 148px #bc1,503px 148px #bc1,504px 148px #ac1,506px 148px #770,389px 149px #3a6,390px 149px #264,391px 149px #275,392px 149px #3c9,393px 149px #165,394px 149px #177,395px 149px #066,396px 149px #0ab,397px 149px #066,398px 149px #056,399px 149px #089,400px 149px #045,401px 149px #057,402px 149px #057,403px 149px #046,404px 149px #058,405px 149px #07b,406px 149px #036,407px 149px #05b,408px 149px #036,409px 149px #026,410px 149px #037,411px 149px #039,412px 149px #026,413px 149px #028,414px 149px #029,415px 149px #018,416px 149px #018,417px 149px #017,418px 149px #009,419px 149px #007,420px 149px #005,421px 149px #005,422px 149px #006,423px 149px #005,424px 149px #007,425px 149px #006,426px 149px #008,427px 149px #008,428px 149px #006,429px 149px #007,430px 149px #009,431px 149px #006,432px 149px #007,433px 149px #007,434px 149px #006,435px 149px #005,436px 149px #006,437px 149px #006,438px 149px #005,439px 149px #004,440px 149px #004,441px 149px #004,442px 149px #007,443px 149px #006,444px 149px #006,445px 149px #006,446px 149px #008,447px 149px #018,448px 149px #017,449px 149px #017,450px 149px #016,451px 149px #038,452px 149px #04a,453px 149px #049,454px 149px #037,455px 149px #048,456px 149px #048,457px 149px #05a,458px 149px #037,459px 149px #039,460px 149px #026,461px 149px #026,462px 149px #026,463px 149px #027,464px 149px #03a,465px 149px #027,466px 149px #037,467px 149px #037,468px 149px #037,469px 149px #037,470px 149px #036,471px 149px #04a,472px 149px #028,473px 149px #029,474px 149px #015,475px 149px #028,476px 149px #027,477px 149px #038,478px 149px #048,479px 149px #035,480px 149px #035,481px 149px #06a,482px 149px #047,483px 149px #046,484px 149px #057,485px 149px #079,486px 149px #067,487px 149px #09a,488px 149px #088,489px 149px #066,490px 149px #087,491px 149px #198,492px 149px #165,493px 149px #297,494px 149px #254,495px 149px #275,496px 149px #275,497px 149px #274,498px 149px #374,499px 149px #583,500px 149px #7a2,502px 149px #990,503px 149px #660,504px 149px #a90,389px 150px #396,390px 150px #385,391px 150px #4b7,392px 150px #3a7,393px 150px #297,394px 150px #2b9,395px 150px #187,396px 150px #0ba,397px 150px #056,398px 150px #067,399px 150px #056,400px 150px #056,401px 150px #07a,402px 150px #068,403px 150px #07b,404px 150px #06a,405px 150px #047,406px 150px #048,407px 150px #036,408px 150px #036,409px 150px #037,410px 150px #03a,411px 150px #026,412px 150px #026,413px 150px #029,414px 150px #029,415px 150px #02a,416px 150px #017,417px 150px #017,418px 150px #019,419px 150px #006,420px 150px #008,421px 150px #009,422px 150px #009,423px 150px #006,424px 150px #00a,425px 150px #006,426px 150px #007,427px 150px #009,428px 150px #007,429px 150px #006,430px 150px #009,431px 150px #007,432px 150px #005,433px 150px #006,434px 150px #005,435px 150px #006,436px 150px #008,437px 150px #006,438px 150px #006,439px 150px #006,440px 150px #006,441px 150px #008,442px 150px #008,443px 150px #006,444px 150px #009,445px 150px #005,446px 150px #007,447px 150px #016,448px 150px #016,449px 150px #017,450px 150px #03b,451px 150px #03a,452px 150px #04a,453px 150px #037,454px 150px #049,455px 150px #049,456px 150px #036,457px 150px #049,458px 150px #04b,459px 150px #027,460px 150px #028,461px 150px #028,462px 150px #029,463px 150px #028,464px 150px #029,465px 150px #029,466px 150px #039,467px 150px #037,468px 150px #038,469px 150px #05b,470px 150px #036,471px 150px #038,472px 150px #028,473px 150px #016,474px 150px #028,475px 150px #015,476px 150px #027,477px 150px #025,478px 150px #026,479px 150px #048,480px 150px #037,481px 150px #025,482px 150px #037,483px 150px #036,484px 150px #059,485px 150px #057,486px 150px #056,487px 150px #067,488px 150px #0aa,489px 150px #055,490px 150px #066,491px 150px #166,492px 150px #154,493px 150px #265,494px 150px #495,495px 150px #495,496px 150px #364,497px 150px #484,498px 150px #462,499px 150px #572,500px 150px #881,501px 150px #990,502px 150px #980,390px 151px #3a6,391px 151px #285,392px 151px #286,393px 151px #3a7,394px 151px #276,395px 151px #186,396px 151px #187,397px 151px #066,398px 151px #089,399px 151px #08a,400px 151px #068,401px 151px #06a,402px 151px #046,403px 151px #057,404px 151px #046,405px 151px #057,406px 151px #036,407px 151px #05a,408px 151px #037,409px 151px #038,410px 151px #039,411px 151px #027,412px 151px #029,413px 151px #016,414px 151px #027,415px 151px #029,416px 151px #016,417px 151px #017,418px 151px #02b,419px 151px #016,420px 151px #018,421px 151px #017,422px 151px #01b,423px 151px #01a,424px 151px #017,425px 151px #01c,426px 151px #01b,427px 151px #007,428px 151px #007,429px 151px #009,430px 151px #007,431px 151px #006,432px 151px #006,433px 151px #009,434px 151px #008,435px 151px #008,436px 151px #006,437px 151px #009,438px 151px #008,439px 151px #006,440px 151px #007,441px 151px #006,442px 151px #008,443px 151px #006,444px 151px #005,445px 151px #019,446px 151px #017,447px 151px #015,448px 151px #016,449px 151px #018,450px 151px #029,451px 151px #028,452px 151px #03a,453px 151px #026,454px 151px #04a,455px 151px #039,456px 151px #027,457px 151px #038,458px 151px #027,459px 151px #027,460px 151px #029,461px 151px #016,462px 151px #028,463px 151px #02a,464px 151px #02a,465px 151px #027,466px 151px #026,467px 151px #027,468px 151px #04a,469px 151px #039,470px 151px #038,471px 151px #039,472px 151px #027,473px 151px #028,474px 151px #016,475px 151px #026,476px 151px #026,477px 151px #039,478px 151px #037,479px 151px #025,480px 151px #036,481px 151px #025,482px 151px #048,483px 151px #058,484px 151px #035,485px 151px #045,486px 151px #056,487px 151px #078,488px 151px #066,489px 151px #066,490px 151px #077,491px 151px #076,492px 151px #176,493px 151px #176,494px 151px #253,495px 151px #374,496px 151px #484,497px 151px #462,498px 151px #461,499px 151px #771,500px 151px #cc0,501px 151px #980,502px 151px #ca0,390px 152px #264,391px 152px #275,392px 152px #396,393px 152px #264,394px 152px #396,395px 152px #175,396px 152px #198,397px 152px #065,398px 152px #077,399px 152px #045,400px 152px #079,401px 152px #046,402px 152px #057,403px 152px #058,404px 152px #046,405px 152px #069,406px 152px #058,407px 152px #047,408px 152px #036,409px 152px #026,410px 152px #039,411px 152px #026,412px 152px #02a,413px 152px #027,414px 152px #029,415px 152px #03b,416px 152px #029,417px 152px #028,418px 152px #027,419px 152px #027,420px 152px #029,421px 152px #016,422px 152px #029,423px 152px #02c,424px 152px #02c,425px 152px #017,426px 152px #017,427px 152px #018,428px 152px #01a,429px 152px #008,430px 152px #007,431px 152px #007,432px 152px #00b,433px 152px #006,434px 152px #006,435px 152px #006,436px 152px #005,437px 152px #007,438px 152px #007,439px 152px #006,440px 152px #006,441px 152px #00a,442px 152px #009,443px 152px #019,444px 152px #018,445px 152px #016,446px 152px #019,447px 152px #018,448px 152px #018,449px 152px #018,450px 152px #018,451px 152px #019,452px 152px #016,453px 152px #029,454px 152px #016,455px 152px #028,456px 152px #016,457px 152px #016,458px 152px #016,459px 152px #016,460px 152px #017,461px 152px #016,462px 152px #029,463px 152px #028,464px 152px #02a,465px 152px #016,466px 152px #026,467px 152px #028,468px 152px #04b,469px 152px #026,470px 152px #026,471px 152px #026,472px 152px #016,473px 152px #017,474px 152px #027,475px 152px #025,476px 152px #049,477px 152px #025,478px 152px #025,479px 152px #035,480px 152px #035,481px 152px #058,482px 152px #035,483px 152px #035,484px 152px #046,485px 152px #056,486px 152px #066,487px 152px #055,488px 152px #187,489px 152px #198,490px 152px #155,491px 152px #155,492px 152px #155,493px 152px #154,494px 152px #165,495px 152px #253,496px 152px #594,497px 152px #682,499px 152px #891,501px 152px #760,502px 152px #970,391px 153px #264,392px 153px #385,393px 153px #385,394px 153px #3a7,395px 153px #275,396px 153px #187,397px 153px #0a9,398px 153px #089,399px 153px #067,400px 153px #056,401px 153px #07a,402px 153px #058,403px 153px #035,404px 153px #046,405px 153px #047,406px 153px #06a,407px 153px #058,408px 153px #036,409px 153px #036,410px 153px #026,411px 153px #026,412px 153px #027,413px 153px #028,414px 153px #03a,415px 153px #028,416px 153px #039,417px 153px #026,418px 153px #039,419px 153px #027,420px 153px #027,421px 153px #03c,422px 153px #028,423px 153px #029,424px 153px #03c,425px 153px #029,426px 153px #02c,427px 153px #017,428px 153px #018,429px 153px #018,430px 153px #01a,431px 153px #01c,432px 153px #007,433px 153px #00b,434px 153px #006,435px 153px #006,436px 153px #006,437px 153px #006,438px 153px #006,439px 153px #008,440px 153px #019,441px 153px #01a,442px 153px #016,443px 153px #019,444px 153px #017,445px 153px #01a,446px 153px #018,447px 153px #006,448px 153px #007,449px 153px #008,450px 153px #00a,451px 153px #009,452px 153px #005,453px 153px #006,454px 153px #01a,455px 153px #01a,456px 153px #01b,457px 153px #019,458px 153px #016,459px 153px #016,460px 153px #02a,461px 153px #017,462px 153px #02a,463px 153px #018,464px 153px #02b,465px 153px #018,466px 153px #02b,467px 153px #029,468px 153px #029,469px 153px #03b,470px 153px #026,471px 153px #029,472px 153px #016,473px 153px #027,474px 153px #027,475px 153px #036,476px 153px #035,477px 153px #036,478px 153px #048,479px 153px #059,480px 153px #035,481px 153px #067,482px 153px #046,483px 153px #046,484px 153px #057,485px 153px #045,486px 153px #099,487px 153px #165,488px 153px #155,489px 153px #155,490px 153px #297,491px 153px #165,492px 153px #164,493px 153px #286,494px 153px #164,495px 153px #374,496px 153px #473,497px 153px #682,498px 153px #891,499px 153px #991,500px 153px #aa0,501px 153px #a90,394px 154px #264,395px 154px #164,396px 154px #154,397px 154px #187,398px 154px #055,399px 154px #055,400px 154px #045,401px 154px #056,402px 154px #058,403px 154px #069,404px 154px #035,405px 154px #057,406px 154px #046,407px 154px #06a,408px 154px #036,409px 154px #05a,410px 154px #026,411px 154px #04a,412px 154px #038,413px 154px #026,414px 154px #03b,415px 154px #04b,416px 154px #028,417px 154px #027,418px 154px #027,419px 154px #028,420px 154px #03a,421px 154px #028,422px 154px #027,423px 154px #03b,424px 154px #028,425px 154px #02a,426px 154px #018,427px 154px #019,428px 154px #018,429px 154px #017,430px 154px #018,431px 154px #01c,432px 154px #016,433px 154px #006,434px 154px #00a,435px 154px #008,436px 154px #00b,437px 154px #007,438px 154px #017,439px 154px #017,440px 154px #01b,441px 154px #02b,442px 154px #02b,443px 154px #018,444px 154px #016,445px 154px #01a,446px 154px #018,447px 154px #00b,448px 154px #00a,449px 154px #005,450px 154px #008,451px 154px #006,452px 154px #005,453px 154px #008,454px 154px #006,455px 154px #007,456px 154px #006,457px 154px #006,458px 154px #005,459px 154px #008,460px 154px #016,461px 154px #016,462px 154px #018,463px 154px #016,464px 154px #017,465px 154px #017,466px 154px #02a,467px 154px #017,468px 154px #02a,469px 154px #03a,470px 154px #026,471px 154px #016,472px 154px #016,473px 154px #039,474px 154px #038,475px 154px #035,476px 154px #036,477px 154px #069,478px 154px #047,479px 154px #07a,480px 154px #045,481px 154px #055,482px 154px #099,483px 154px #045,484px 154px #067,485px 154px #066,486px 154px #198,487px 154px #154,488px 154px #286,489px 154px #154,490px 154px #285,491px 154px #254,492px 154px #385,493px 154px #264,494px 154px #253,495px 154px #463,496px 154px #682,497px 154px #561,498px 154px #9a1,499px 154px #990,500px 154px #660,394px 155px #264,395px 155px #275,396px 155px #286,397px 155px #176,399px 155px #055,400px 155px #055,401px 155px #067,402px 155px #045,403px 155px #045,404px 155px #069,405px 155px #069,406px 155px #047,407px 155px #058,408px 155px #059,409px 155px #048,410px 155px #036,411px 155px #048,412px 155px #05b,413px 155px #026,414px 155px #026,415px 155px #037,416px 155px #03a,417px 155px #04a,418px 155px #026,419px 155px #039,420px 155px #038,421px 155px #04b,422px 155px #039,423px 155px #03b,424px 155px #03b,425px 155px #02b,426px 155px #016,427px 155px #01b,428px 155px #01a,429px 155px #018,430px 155px #01b,431px 155px #019,432px 155px #017,433px 155px #018,434px 155px #006,435px 155px #019,436px 155px #018,437px 155px #019,438px 155px #01a,439px 155px #017,440px 155px #029,441px 155px #017,442px 155px #02a,443px 155px #028,444px 155px #02a,445px 155px #016,446px 155px #007,447px 155px #006,448px 155px #007,449px 155px #007,450px 155px #006,451px 155px #006,452px 155px #006,453px 155px #007,454px 155px #004,455px 155px #004,456px 155px #005,457px 155px #008,458px 155px #005,459px 155px #006,460px 155px #005,461px 155px #006,462px 155px #006,463px 155px #019,464px 155px #017,465px 155px #017,466px 155px #018,467px 155px #017,468px 155px #029,469px 155px #016,470px 155px #029,471px 155px #026,472px 155px #026,473px 155px #025,474px 155px #048,475px 155px #058,476px 155px #046,477px 155px #067,478px 155px #089,479px 155px #0ab,480px 155px #077,481px 155px #2a9,482px 155px #155,483px 155px #055,484px 155px #088,485px 155px #176,486px 155px #286,487px 155px #264,488px 155px #253,489px 155px #940,490px 155px #a40,491px 155px #830,492px 155px #353,493px 155px #252,494px 155px #352,495px 155px #582,496px 155px #671,498px 155px #880,499px 155px #a90,395px 156px #397,397px 156px #186,398px 156px #177,399px 156px #099,400px 156px #045,401px 156px #068,402px 156px #068,403px 156px #046,404px 156px #058,405px 156px #036,406px 156px #046,407px 156px #057,408px 156px #046,409px 156px #059,410px 156px #036,411px 156px #05a,412px 156px #059,413px 156px #036,414px 156px #05a,415px 156px #037,416px 156px #05b,417px 156px #037,418px 156px #037,419px 156px #03a,420px 156px #028,421px 156px #027,422px 156px #038,423px 156px #039,424px 156px #029,425px 156px #028,426px 156px #016,427px 156px #017,428px 156px #01a,429px 156px #01a,430px 156px #016,431px 156px #019,432px 156px #017,433px 156px #01a,434px 156px #018,435px 156px #01a,436px 156px #018,437px 156px #01a,438px 156px #019,439px 156px #02a,440px 156px #02a,441px 156px #029,442px 156px #028,443px 156px #027,444px 156px #017,445px 156px #02c,446px 156px #009,447px 156px #006,448px 156px #006,449px 156px #006,450px 156px #004,451px 156px #005,452px 156px #003,453px 156px #005,454px 156px #003,455px 156px #005,456px 156px #005,457px 156px #007,458px 156px #005,459px 156px #008,460px 156px #005,461px 156px #007,462px 156px #006,463px 156px #008,464px 156px #007,465px 156px #01a,466px 156px #017,467px 156px #017,468px 156px #028,469px 156px #028,470px 156px #027,471px 156px #036,472px 156px #047,473px 156px #06b,474px 156px #046,475px 156px #079,476px 156px #089,477px 156px #099,478px 156px #0ba,479px 156px #1ba,480px 156px #165,481px 156px #286,482px 156px #165,483px 156px #197,484px 156px #165,485px 156px #265,486px 156px #4b6,487px 156px #730,488px 156px #620,489px 156px #830,490px 156px #830,491px 156px #682,492px 156px #462,493px 156px #683,494px 156px #572,496px 156px #781,497px 156px #660,395px 157px #285,396px 157px #275,397px 157px #187,398px 157px #065,399px 157px #055,400px 157px #068,401px 157px #068,402px 157px #035,403px 157px #068,404px 157px #069,405px 157px #046,406px 157px #046,407px 157px #07b,408px 157px #058,409px 157px #058,410px 157px #058,411px 157px #047,412px 157px #058,413px 157px #06a,414px 157px #05a,415px 157px #049,416px 157px #05a,417px 157px #038,418px 157px #027,419px 157px #039,420px 157px #026,421px 157px #026,422px 157px #04b,423px 157px #026,424px 157px #027,425px 157px #028,426px 157px #01b,427px 157px #016,428px 157px #019,429px 157px #019,430px 157px #01a,431px 157px #018,432px 157px #016,433px 157px #016,434px 157px #01a,435px 157px #01a,436px 157px #016,437px 157px #01a,438px 157px #017,439px 157px #016,440px 157px #02b,441px 157px #028,442px 157px #02b,443px 157px #017,444px 157px #016,445px 157px #01c,446px 157px #00b,447px 157px #006,448px 157px #006,449px 157px #006,450px 157px #003,451px 157px #004,452px 157px #002,453px 157px #003,454px 157px #003,455px 157px #004,456px 157px #005,457px 157px #004,458px 157px #004,459px 157px #005,460px 157px #007,461px 157px #009,462px 157px #008,463px 157px #008,464px 157px #007,465px 157px #018,466px 157px #016,467px 157px #016,468px 157px #028,469px 157px #039,470px 157px #059,471px 157px #058,472px 157px #068,473px 157px #057,474px 157px #046,475px 157px #09a,476px 157px #0aa,477px 157px #1aa,478px 157px #165,479px 157px #165,480px 157px #3b8,481px 157px #3a7,482px 157px #264,483px 157px #264,484px 157px #265,485px 157px #930,486px 157px #720,487px 157px #940,488px 157px #730,489px 157px #620,490px 157px #561,491px 157px #881,492px 157px #561,493px 157px #9b2,494px 157px #8a2,495px 157px #561,496px 157px #890,395px 158px #385,396px 158px #286,397px 158px #198,398px 158px #066,399px 158px #078,400px 158px #055,402px 158px #079,403px 158px #057,404px 158px #068,405px 158px #07a,406px 158px #068,407px 158px #057,408px 158px #06a,409px 158px #058,410px 158px #047,411px 158px #046,412px 158px #069,413px 158px #06b,414px 158px #05a,415px 158px #049,416px 158px #038,417px 158px #038,418px 158px #026,419px 158px #038,420px 158px #026,421px 158px #03a,422px 158px #03a,423px 158px #039,424px 158px #026,425px 158px #02a,426px 158px #016,427px 158px #018,428px 158px #016,429px 158px #019,430px 158px #01a,431px 158px #016,432px 158px #01a,433px 158px #016,434px 158px #01a,435px 158px #019,436px 158px #01a,437px 158px #018,438px 158px #018,439px 158px #02b,440px 158px #02a,441px 158px #02b,442px 158px #029,443px 158px #017,444px 158px #016,445px 158px #01c,446px 158px #009,447px 158px #009,448px 158px #004,449px 158px #004,450px 158px #003,451px 158px #004,452px 158px #003,453px 158px #002,454px 158px #004,455px 158px #003,456px 158px #004,457px 158px #004,458px 158px #004,459px 158px #008,460px 158px #005,461px 158px #008,462px 158px #00a,463px 158px #006,464px 158px #019,465px 158px #04a,466px 158px #04a,467px 158px #04b,468px 158px #04b,469px 158px #05a,470px 158px #07b,471px 158px #08a,472px 158px #079,473px 158px #09b,474px 158px #067,475px 158px #099,476px 158px #1a9,477px 158px #3c9,478px 158px #275,479px 158px #285,480px 158px #264,481px 158px #374,482px 158px #5b6,483px 158px #495,484px 158px #b40,485px 158px #b40,486px 158px #830,487px 158px #930,488px 158px #730,489px 158px #9a1,490px 158px #660,491px 158px #870,492px 158px #ba0,493px 158px #880,494px 158px #660,495px 158px #770,496px 158px #880,396px 159px #396,397px 159px #286,398px 159px #198,399px 159px #077,401px 159px #099,402px 159px #067,403px 159px #089,404px 159px #089,405px 159px #056,406px 159px #078,407px 159px #09b,408px 159px #067,409px 159px #078,410px 159px #068,411px 159px #058,412px 159px #06a,413px 159px #036,414px 159px #036,415px 159px #049,416px 159px #04a,417px 159px #037,418px 159px #03a,419px 159px #03a,420px 159px #04a,421px 159px #04a,422px 159px #026,423px 159px #026,424px 159px #026,425px 159px #028,426px 159px #016,427px 159px #017,428px 159px #015,429px 159px #01a,430px 159px #016,431px 159px #019,432px 159px #019,433px 159px #017,434px 159px #017,435px 159px #018,436px 159px #016,437px 159px #02c,438px 159px #02a,439px 159px #02b,440px 159px #016,441px 159px #016,442px 159px #017,443px 159px #019,444px 159px #01c,445px 159px #009,446px 159px #007,447px 159px #007,448px 159px #006,449px 159px #004,450px 159px #004,451px 159px #003,452px 159px #004,453px 159px #003,454px 159px #005,455px 159px #003,456px 159px #005,457px 159px #004,458px 159px #007,459px 159px #007,460px 159px #005,461px 159px #005,462px 159px #006,463px 159px #016,464px 159px #04b,465px 159px #047,466px 159px #058,467px 159px #058,468px 159px #08c,469px 159px #057,470px 159px #067,471px 159px #0ab,472px 159px #067,473px 159px #077,474px 159px #1ba,475px 159px #176,476px 159px #287,477px 159px #275,478px 159px #4b7,479px 159px #386,480px 159px #264,481px 159px #594,482px 159px #693,483px 159px #720,484px 159px #b40,485px 159px #940,486px 159px #940,487px 159px #8a3,488px 159px #9a1,489px 159px #760,490px 159px #b80,491px 159px #960,493px 159px #650,494px 159px #a80,495px 159px #750,397px 160px #286,398px 160px #2a7,399px 160px #165,400px 160px #165,401px 160px #055,402px 160px #077,403px 160px #045,404px 160px #045,405px 160px #067,406px 160px #09a,407px 160px #056,408px 160px #08a,409px 160px #056,410px 160px #079,411px 160px #07a,412px 160px #046,413px 160px #058,414px 160px #036,415px 160px #049,416px 160px #037,417px 160px #026,418px 160px #027,419px 160px #038,420px 160px #039,421px 160px #038,422px 160px #04b,423px 160px #026,424px 160px #026,425px 160px #026,426px 160px #016,427px 160px #028,428px 160px #029,429px 160px #016,430px 160px #017,431px 160px #019,432px 160px #02a,433px 160px #016,434px 160px #016,435px 160px #02b,436px 160px #017,437px 160px #016,438px 160px #03b,439px 160px #02a,440px 160px #017,441px 160px #02b,442px 160px #017,443px 160px #017,444px 160px #007,445px 160px #00a,446px 160px #005,447px 160px #005,448px 160px #007,449px 160px #004,450px 160px #004,451px 160px #003,452px 160px #004,453px 160px #004,454px 160px #005,455px 160px #004,456px 160px #007,457px 160px #008,458px 160px #008,459px 160px #006,460px 160px #018,461px 160px #019,462px 160px #017,463px 160px #03a,464px 160px #037,465px 160px #07a,466px 160px #08a,467px 160px #0bd,468px 160px #0ac,469px 160px #088,470px 160px #1dc,471px 160px #188,472px 160px #177,473px 160px #175,474px 160px #3c9,475px 160px #396,476px 160px #3b8,477px 160px #275,478px 160px #275,479px 160px #4a6,480px 160px #495,481px 160px #472,482px 160px #a40,483px 160px #a40,484px 160px #730,485px 160px #990,486px 160px #9a0,487px 160px #880,488px 160px #b90,489px 160px #c70,490px 160px #850,491px 160px #750,492px 160px #750,493px 160px #740,400px 161px #187,401px 161px #166,402px 161px #055,403px 161px #088,404px 161px #056,405px 161px #056,406px 161px #078,408px 161px #08a,409px 161px #068,410px 161px #068,411px 161px #057,412px 161px #058,413px 161px #035,414px 161px #035,415px 161px #048,416px 161px #036,417px 161px #025,418px 161px #038,419px 161px #038,420px 161px #038,421px 161px #038,422px 161px #038,423px 161px #04a,424px 161px #037,425px 161px #026,426px 161px #027,427px 161px #015,428px 161px #028,429px 161px #017,430px 161px #016,431px 161px #018,432px 161px #017,433px 161px #016,434px 161px #02b,435px 161px #016,436px 161px #029,437px 161px #026,438px 161px #029,439px 161px #03b,440px 161px #016,441px 161px #017,442px 161px #019,443px 161px #009,444px 161px #008,445px 161px #006,446px 161px #006,447px 161px #008,448px 161px #004,449px 161px #006,450px 161px #004,451px 161px #004,452px 161px #003,453px 161px #005,454px 161px #004,455px 161px #004,456px 161px #007,457px 161px #007,458px 161px #006,459px 161px #017,460px 161px #016,461px 161px #029,462px 161px #04b,463px 161px #049,464px 161px #08d,465px 161px #0ac,466px 161px #09a,467px 161px #1cb,468px 161px #1cb,469px 161px #176,470px 161px #298,471px 161px #176,472px 161px #2a8,473px 161px #4b8,474px 161px #4a6,475px 161px #4a6,476px 161px #397,477px 161px #297,478px 161px #286,479px 161px #5b6,480px 161px #7a3,481px 161px #671,482px 161px #780,483px 161px #870,484px 161px #760,485px 161px #960,487px 161px #c70,488px 161px #e70,489px 161px #e70,492px 161px #d70,401px 162px #165,402px 162px #099,403px 162px #088,406px 162px #066,407px 162px #067,408px 162px #08a,409px 162px #068,410px 162px #07a,411px 162px #046,412px 162px #035,413px 162px #047,414px 162px #048,415px 162px #036,416px 162px #036,417px 162px #036,418px 162px #037,419px 162px #025,420px 162px #036,421px 162px #038,422px 162px #025,423px 162px #048,424px 162px #038,425px 162px #026,426px 162px #026,427px 162px #026,428px 162px #027,429px 162px #028,430px 162px #015,431px 162px #029,432px 162px #015,433px 162px #016,434px 162px #028,435px 162px #027,436px 162px #027,437px 162px #028,438px 162px #039,439px 162px #029,440px 162px #029,441px 162px #016,442px 162px #008,443px 162px #006,444px 162px #007,445px 162px #006,446px 162px #005,447px 162px #004,448px 162px #007,449px 162px #004,450px 162px #003,451px 162px #003,452px 162px #005,453px 162px #004,454px 162px #004,455px 162px #006,456px 162px #008,457px 162px #018,458px 162px #016,459px 162px #027,460px 162px #038,461px 162px #038,462px 162px #037,463px 162px #08c,464px 162px #09b,465px 162px #0bb,466px 162px #187,467px 162px #286,468px 162px #3eb,469px 162px #3a7,470px 162px #3b7,471px 162px #275,472px 162px #275,473px 162px #385,474px 162px #374,475px 162px #4b6,476px 162px #3a7,477px 162px #175,478px 162px #386,479px 162px #6a4,480px 162px #781,481px 162px #bc0,482px 162px #a90,484px 162px #750,485px 162px #950,486px 162px #a50,487px 162px #b50,401px 163px #2a8,402px 163px #098,403px 163px #099,404px 163px #066,405px 163px #077,407px 163px #056,408px 163px #068,409px 163px #045,410px 163px #046,411px 163px #046,412px 163px #058,413px 163px #035,414px 163px #035,415px 163px #048,416px 163px #035,417px 163px #036,418px 163px #047,419px 163px #05a,420px 163px #035,421px 163px #035,422px 163px #037,423px 163px #04a,424px 163px #036,425px 163px #038,426px 163px #038,427px 163px #028,428px 163px #039,429px 163px #029,430px 163px #028,431px 163px #029,432px 163px #028,433px 163px #015,434px 163px #02a,435px 163px #03b,436px 163px #026,437px 163px #028,438px 163px #039,439px 163px #017,440px 163px #016,441px 163px #016,442px 163px #006,443px 163px #008,444px 163px #005,445px 163px #008,446px 163px #007,447px 163px #004,448px 163px #004,449px 163px #004,450px 163px #003,451px 163px #004,452px 163px #003,453px 163px #006,454px 163px #007,455px 163px #007,456px 163px #018,457px 163px #018,458px 163px #03c,459px 163px #04a,460px 163px #05c,461px 163px #047,462px 163px #08d,463px 163px #068,464px 163px #0bb,465px 163px #2fd,466px 163px #3c9,467px 163px #3a7,468px 163px #4c8,469px 163px #4b7,470px 163px #495,471px 163px #385,472px 163px #495,473px 163px #4a6,474px 163px #374,475px 163px #385,476px 163px #275,477px 163px #3a7,478px 163px #6b5,479px 163px #562,480px 163px #781,481px 163px #bb0,482px 163px #660,483px 163px #750,484px 163px #750,485px 163px #740,401px 164px #165,402px 164px #198,404px 164px #077,405px 164px #055,406px 164px #066,407px 164px #045,408px 164px #045,409px 164px #046,410px 164px #035,412px 164px #036,413px 164px #036,414px 164px #047,415px 164px #047,416px 164px #059,417px 164px #058,418px 164px #058,419px 164px #047,420px 164px #036,421px 164px #035,422px 164px #037,423px 164px #035,424px 164px #036,425px 164px #038,426px 164px #026,427px 164px #025,428px 164px #027,429px 164px #029,430px 164px #016,431px 164px #028,432px 164px #028,433px 164px #027,434px 164px #028,435px 164px #026,436px 164px #027,437px 164px #027,438px 164px #028,439px 164px #02b,440px 164px #018,441px 164px #007,442px 164px #00a,443px 164px #008,444px 164px #008,445px 164px #004,446px 164px #007,447px 164px #005,448px 164px #003,449px 164px #003,450px 164px #004,451px 164px #005,452px 164px #003,453px 164px #004,454px 164px #005,455px 164px #007,456px 164px #028,457px 164px #027,458px 164px #036,459px 164px #037,460px 164px #06c,461px 164px #059,462px 164px #057,463px 164px #089,464px 164px #198,465px 164px #3c9,466px 164px #3b7,467px 164px #5d8,468px 164px #495,469px 164px #6c6,470px 164px #6b5,471px 164px #594,472px 164px #473,473px 164px #5a4,474px 164px #5a5,475px 164px #4b7,476px 164px #264,477px 164px #363,478px 164px #672,479px 164px #891,480px 164px #ab0,481px 164px #660,482px 164px #870,483px 164px #da0,484px 164px #960,403px 165px #198,404px 165px #055,406px 165px #055,407px 165px #067,408px 165px #079,409px 165px #046,410px 165px #079,411px 165px #057,412px 165px #047,413px 165px #035,414px 165px #057,415px 165px #046,416px 165px #046,417px 165px #067,418px 165px #079,419px 165px #056,420px 165px #057,421px 165px #047,422px 165px #048,423px 165px #05a,424px 165px #05a,425px 165px #036,426px 165px #049,427px 165px #025,428px 165px #038,429px 165px #026,430px 165px #016,431px 165px #029,432px 165px #015,433px 165px #015,434px 165px #015,435px 165px #028,436px 165px #016,437px 165px #016,438px 165px #017,439px 165px #02a,440px 165px #01a,441px 165px #009,442px 165px #006,443px 165px #005,444px 165px #006,445px 165px #004,446px 165px #005,447px 165px #007,448px 165px #004,449px 165px #005,450px 165px #005,451px 165px #004,452px 165px #005,453px 165px #006,454px 165px #007,455px 165px #007,456px 165px #039,457px 165px #036,458px 165px #06a,459px 165px #048,460px 165px #058,461px 165px #09c,462px 165px #0ac,463px 165px #099,464px 165px #187,465px 165px #3b9,466px 165px #386,467px 165px #4b6,468px 165px #6d7,469px 165px #5a5,470px 165px #484,471px 165px #483,472px 165px #6a4,473px 165px #6a3,474px 165px #473,475px 165px #5a5,476px 165px #484,477px 165px #472,478px 165px #671,479px 165px #770,480px 165px #660,481px 165px #aa0,482px 165px #980,483px 165px #750,484px 165px #c80,405px 166px #066,406px 166px #055,407px 166px #045,410px 166px #079,411px 166px #056,412px 166px #057,413px 166px #056,414px 166px #067,415px 166px #078,416px 166px #0bc,417px 166px #0bb,418px 166px #0ab,419px 166px #079,420px 166px #057,421px 166px #058,422px 166px #036,423px 166px #035,424px 166px #05a,425px 166px #036,426px 166px #036,427px 166px #025,428px 166px #037,429px 166px #027,430px 166px #027,431px 166px #017,432px 166px #029,433px 166px #016,434px 166px #017,435px 166px #015,436px 166px #015,437px 166px #017,438px 166px #016,439px 166px #016,440px 166px #005,441px 166px #008,442px 166px #005,443px 166px #008,444px 166px #005,445px 166px #005,446px 166px #008,447px 166px #008,448px 166px #004,449px 166px #004,450px 166px #003,451px 166px #006,452px 166px #004,453px 166px #005,454px 166px #008,455px 166px #02a,456px 166px #05b,457px 166px #05a,458px 166px #057,459px 166px #06a,460px 166px #068,461px 166px #068,462px 166px #0ab,463px 166px #077,464px 166px #2ec,465px 166px #3d9,466px 166px #385,467px 166px #5b6,468px 166px #5b5,469px 166px #6b5,470px 166px #7d6,471px 166px #7c5,472px 166px #6a3,473px 166px #682,474px 166px #693,475px 166px #473,476px 166px #582,477px 166px #561,479px 166px #880,480px 166px #770,481px 166px #ba0,482px 166px #c90,483px 166px #850,484px 166px #740,406px 167px #089,408px 167px #068,409px 167px #045,410px 167px #056,411px 167px #067,412px 167px #067,413px 167px #066,414px 167px #0bb,415px 167px #188,416px 167px #176,418px 167px #067,419px 167px #066,420px 167px #0ab,421px 167px #079,422px 167px #07a,423px 167px #058,424px 167px #047,425px 167px #059,426px 167px #036,427px 167px #036,428px 167px #025,429px 167px #025,430px 167px #015,431px 167px #027,432px 167px #015,433px 167px #017,434px 167px #017,435px 167px #018,436px 167px #016,437px 167px #019,438px 167px #016,439px 167px #018,440px 167px #018,441px 167px #009,442px 167px #005,443px 167px #008,444px 167px #006,445px 167px #006,446px 167px #007,447px 167px #007,448px 167px #005,449px 167px #007,450px 167px #005,451px 167px #005,452px 167px #007,453px 167px #018,454px 167px #02a,455px 167px #02a,456px 167px #048,457px 167px #059,458px 167px #057,459px 167px #08c,460px 167px #079,461px 167px #067,462px 167px #078,463px 167px #076,464px 167px #1a9,465px 167px #3ca,466px 167px #5d8,467px 167px #495,468px 167px #5a5,469px 167px #7e6,470px 167px #6b5,471px 167px #694,472px 167px #682,473px 167px #8a2,474px 167px #9c3,475px 167px #682,476px 167px #781,477px 167px #bb1,479px 167px #880,480px 167px #660,481px 167px #b90,408px 168px #056,409px 168px #067,410px 168px #045,412px 168px #066,413px 168px #077,414px 168px #176,415px 168px #165,416px 168px #176,417px 168px #1a8,418px 168px #076,419px 168px #077,420px 168px #089,421px 168px #07a,422px 168px #047,423px 168px #058,424px 168px #035,425px 168px #048,426px 168px #047,427px 168px #036,428px 168px #038,429px 168px #026,430px 168px #026,431px 168px #029,432px 168px #014,433px 168px #015,434px 168px #016,435px 168px #015,436px 168px #018,437px 168px #018,438px 168px #017,439px 168px #007,440px 168px #018,441px 168px #007,442px 168px #007,443px 168px #005,444px 168px #005,445px 168px #017,446px 168px #015,447px 168px #017,448px 168px #006,449px 168px #007,450px 168px #006,451px 168px #015,452px 168px #016,453px 168px #016,454px 168px #027,455px 168px #026,456px 168px #07b,457px 168px #069,458px 168px #068,459px 168px #068,460px 168px #079,461px 168px #0aa,462px 168px #1ba,463px 168px #176,464px 168px #1ba,465px 168px #176,466px 168px #385,467px 168px #594,468px 168px #584,469px 168px #7c5,470px 168px #6a3,471px 168px #ad4,472px 168px #be3,473px 168px #781,474px 168px #bc2,475px 168px #ac2,476px 168px #891,477px 168px #770,409px 169px #066,413px 169px #1ba,414px 169px #186,415px 169px #3c9,416px 169px #275,417px 169px #297,418px 169px #1a9,419px 169px #0bb,420px 169px #09b,421px 169px #046,422px 169px #058,423px 169px #069,424px 169px #045,425px 169px #047,426px 169px #036,427px 169px #025,428px 169px #04a,429px 169px #037,430px 169px #027,431px 169px #015,432px 169px #014,433px 169px #015,434px 169px #028,435px 169px #016,436px 169px #014,437px 169px #015,438px 169px #018,439px 169px #005,440px 169px #005,441px 169px #005,442px 169px #005,443px 169px #019,444px 169px #015,445px 169px #017,446px 169px #015,447px 169px #016,448px 169px #028,449px 169px #029,450px 169px #026,451px 169px #03a,452px 169px #026,453px 169px #026,454px 169px #038,455px 169px #049,456px 169px #07a,457px 169px #079,458px 169px #056,459px 169px #08a,460px 169px #09a,461px 169px #198,462px 169px #2a9,463px 169px #176,464px 169px #297,465px 169px #297,466px 169px #385,467px 169px #7c5,468px 169px #7b4,469px 169px #682,470px 169px #792,471px 169px #ab1,472px 169px #890,473px 169px #ee0,474px 169px #bb0,476px 169px #770,477px 169px #bb0,411px 170px #198,414px 170px #165,415px 170px #286,416px 170px #286,417px 170px #2b8,418px 170px #176,419px 170px #066,421px 170px #056,422px 170px #045,423px 170px #045,424px 170px #056,425px 170px #058,426px 170px #05a,427px 170px #049,428px 170px #048,429px 170px #025,430px 170px #025,431px 170px #037,432px 170px #026,433px 170px #028,434px 170px #027,435px 170px #015,436px 170px #018,437px 170px #017,438px 170px #015,439px 170px #017,440px 170px #017,441px 170px #017,442px 170px #015,443px 170px #017,444px 170px #016,445px 170px #015,446px 170px #025,447px 170px #026,448px 170px #039,449px 170px #038,450px 170px #037,451px 170px #049,452px 170px #036,453px 170px #048,454px 170px #037,455px 170px #05b,456px 170px #08b,457px 170px #08b,458px 170px #056,459px 170px #079,460px 170px #099,461px 170px #177,462px 170px #297,463px 170px #286,464px 170px #275,465px 170px #4b7,466px 170px #384,467px 170px #8e6,468px 170px #583,469px 170px #682,470px 170px #9a1,471px 170px #bb0,472px 170px #870,473px 170px #ca0,474px 170px #980,475px 170px #760,476px 170px #770,413px 171px #164,416px 171px #165,417px 171px #176,418px 171px #065,419px 171px #077,420px 171px #08a,421px 171px #068,422px 171px #045,423px 171px #045,424px 171px #068,425px 171px #046,426px 171px #058,427px 171px #047,428px 171px #036,429px 171px #047,430px 171px #047,431px 171px #025,432px 171px #026,433px 171px #026,434px 171px #025,435px 171px #014,436px 171px #027,437px 171px #017,438px 171px #018,439px 171px #015,440px 171px #028,441px 171px #029,442px 171px #015,443px 171px #027,444px 171px #038,445px 171px #026,446px 171px #025,447px 171px #036,448px 171px #037,449px 171px #036,450px 171px #059,451px 171px #047,452px 171px #047,453px 171px #047,454px 171px #046,455px 171px #058,456px 171px #067,457px 171px #08a,458px 171px #09b,459px 171px #078,460px 171px #0bb,461px 171px #197,462px 171px #265,463px 171px #385,465px 171px #374,466px 171px #484,467px 171px #595,468px 171px #7c5,470px 171px #cc0,471px 171px #fe0,472px 171px #770,415px 172px #287,416px 172px #198,417px 172px #187,418px 172px #066,419px 172px #0aa,422px 172px #067,423px 172px #056,424px 172px #068,425px 172px #057,426px 172px #046,427px 172px #046,428px 172px #046,429px 172px #057,430px 172px #069,432px 172px #048,433px 172px #036,434px 172px #036,435px 172px #036,436px 172px #027,437px 172px #015,438px 172px #028,439px 172px #026,440px 172px #026,441px 172px #027,442px 172px #026,443px 172px #038,444px 172px #025,445px 172px #048,446px 172px #059,447px 172px #036,448px 172px #047,449px 172px #047,450px 172px #046,451px 172px #056,452px 172px #08b,453px 172px #056,454px 172px #056,455px 172px #068,456px 172px #077,457px 172px #077,458px 172px #056,459px 172px #056,460px 172px #0aa,461px 172px #2c9,462px 172px #264,463px 172px #373,465px 172px #484,466px 172px #473,467px 172px #7b5,468px 172px #693,470px 172px #780,471px 172px #770,416px 173px #198,417px 173px #176,419px 173px #055,420px 173px #055,421px 173px #055,422px 173px #066,423px 173px #077,424px 173px #056,425px 173px #056,426px 173px #057,427px 173px #067,428px 173px #078,429px 173px #045,430px 173px #056,431px 173px #045,432px 173px #059,433px 173px #035,434px 173px #047,435px 173px #025,436px 173px #038,437px 173px #025,438px 173px #025,439px 173px #025,440px 173px #035,441px 173px #059,442px 173px #035,443px 173px #035,444px 173px #037,445px 173px #047,446px 173px #047,447px 173px #069,448px 173px #09c,449px 173px #079,450px 173px #078,451px 173px #067,452px 173px #0bc,453px 173px #066,454px 173px #0bc,455px 173px #078,456px 173px #187,457px 173px #0bb,458px 173px #067,459px 173px #067,460px 173px #076,461px 173px #275,463px 173px #6b4,465px 173px #7a3,466px 173px #682,467px 173px #792,468px 173px #682,470px 173px #990,471px 173px #770,423px 174px #066,424px 174px #077,425px 174px #067,426px 174px #088,427px 174px #089,428px 174px #067,429px 174px #056,430px 174px #067,432px 174px #045,433px 174px #057,434px 174px #068,435px 174px #036,436px 174px #048,437px 174px #038,438px 174px #025,439px 174px #048,440px 174px #047,441px 174px #069,443px 174px #07a,444px 174px #035,445px 174px #069,446px 174px #046,447px 174px #079,448px 174px #078,449px 174px #067,450px 174px #099,451px 174px #0bb,452px 174px #0cc,454px 174px #088,455px 174px #056,456px 174px #176,457px 174px #066,458px 174px #078,459px 174px #077,460px 174px #165,462px 174px #6b5,463px 174px #7a3,464px 174px #7a3,424px 175px #088,425px 175px #078,427px 175px #077,430px 175px #055,431px 175px #067,432px 175px #078,433px 175px #079,434px 175px #046,435px 175px #035,436px 175px #047,437px 175px #048,438px 175px #036,440px 175px #068,441px 175px #057,442px 175px #045,444px 175px #057,445px 175px #068,447px 175px #077,448px 175px #067,449px 175px #0bb,450px 175px #0cc,451px 175px #088,452px 175px #098,453px 175px #1ba,454px 175px #077,455px 175px #066,456px 175px #2a8,457px 175px #188,458px 175px #066,459px 175px #187,460px 175px #3a7,461px 175px #374,430px 176px #078,431px 176px #077,434px 176px #034,435px 176px #057,436px 176px #046,437px 176px #035,438px 176px #057,439px 176px #057,440px 176px #079,441px 176px #078,442px 176px #067,443px 176px #056,444px 176px #066,445px 176px #099,446px 176px #077,447px 176px #066,448px 176px #088,449px 176px #1cb,450px 176px #176,451px 176px #1cb,452px 176px #198,453px 176px #187,455px 176px #088,456px 176px #165,457px 176px #297,458px 176px #165,459px 176px #3a7,428px 177px #055,429px 177px #056,430px 177px #089,431px 177px #067,435px 177px #035,436px 177px #035,437px 177px #057,439px 177px #045,440px 177px #055,441px 177px #066,442px 177px #0ab,443px 177px #066,444px 177px #077,445px 177px #1ba,446px 177px #1a9,448px 177px #198,449px 177px #187,450px 177px #2a9,451px 177px #176,452px 177px #176,453px 177px #187,455px 177px #077,456px 177px #3b8,429px 178px #099,430px 178px #089,436px 178px #045,437px 178px #078,438px 178px #067,439px 178px #066,442px 178px #1a9,443px 178px #176,444px 178px #297,445px 178px #175,446px 178px #165,447px 178px #186,448px 178px #2c9,449px 178px #297,450px 178px #297,451px 178px #176,452px 178px #1a9,453px 178px #165,442px 179px #165,446px 179px #165"></i></div>
<svg class="ov" width="550" height="244" viewBox="0 0 550 244" font-family="'Liberation Serif', serif"><text x="189.8" y="15.5" font-size="6.4" text-anchor="start" fill="#fff" fill-opacity="0.92" textLength="31.2" lengthAdjust="spacingAndGlyphs">Direct Blasts</text><text x="171.6" y="25.5" font-size="6.5" text-anchor="start" fill="#fff" fill-opacity="0.92" textLength="48" lengthAdjust="spacingAndGlyphs">Bottom Reflections</text><text x="304.2" y="225.6" font-size="7.5" text-anchor="start" fill="#fff" textLength="37.8" lengthAdjust="spacingAndGlyphs">256 Channels</text><path d="M221.1 15.9L224.98 19.45" stroke="#fff" stroke-width="0.55"/><path d="M226.9 21.2L224.24 20.26L225.72 18.63Z" fill="#fff"/><path d="M220.0 26.0L222.80 28.92" stroke="#fff" stroke-width="0.55"/><path d="M224.6 30.8L222.01 29.68L223.60 28.16Z" fill="#fff"/><path d="M175.5 48.0v26.6M187 48.0v26.6M192.5 48.0v26.6M200 48.0v26.6M209.5 48.0v26.6M226.5 48.0v26.6M238.5 48.0v26.6M244.5 48.0v26.6M291 48.0v26.6M300 48.0v26.6M308.5 48.0v26.6M333.5 48.0v26.6M175.5 86.6v26.6M192.5 86.6v26.6M200 86.6v26.6M209.5 86.6v26.6M226.5 86.6v26.6M238.5 86.6v26.6M244.5 86.6v26.6M263.5 86.6v26.6M282.5 86.6v26.6M300 86.6v26.6M308.5 86.6v26.6M317 86.6v26.6M325 86.6v26.6M200 124.3v26.6M209.5 124.3v26.6M221 124.3v26.6M226.5 124.3v26.6M238.5 124.3v26.6M274 124.3v26.6M282.5 124.3v26.6M291 124.3v26.6M300 124.3v26.6M317 124.3v26.6M187 162.3v26.6M192.5 162.3v26.6M200 162.3v26.6M221 162.3v26.6M226.5 162.3v26.6M263.5 162.3v26.6M274 162.3v26.6M282.5 162.3v26.6M291 162.3v26.6M300 162.3v26.6M308.5 162.3v26.6M317 162.3v26.6M333.5 162.3v26.6M175.5 200.5v26.6M187 200.5v26.6M192.5 200.5v26.6M200 200.5v26.6M209.5 200.5v26.6M221 200.5v26.6M226.5 200.5v26.6M238.5 200.5v26.6M244.5 200.5v26.6M263.5 200.5v26.6M274 200.5v26.6M282.5 200.5v26.6M291 200.5v26.6M300 200.5v26.6M308.5 200.5v26.6M317 200.5v26.6M325 200.5v26.6M333.5 200.5v26.6" stroke="#2c2290" stroke-width="0.7" opacity="0.55" fill="none"/><path d="M175.0 14.6H181.5M181.5 18.0H198.7M198.7 17.4H215.6M215.6 16.8H221.0M221.0 22.5H231.7M231.7 17.6H249.0M254.4 13.9H271.0M271.0 18.2H288.6M288.6 20.6H305.2M305.2 17.6H321.8M321.8 13.6H333.4M333.4 18.2H344.0M164.5 53.9H176.0M181.0 52.5H200.0M200.0 53.2H216.0M216.0 56.2H231.0M234.0 57.0H246.0M254.0 51.0H266.0M266.0 51.0H288.0M288.0 52.0H333.0M336.0 56.0H344.0M164.5 95.6H176.0M176.0 92.6H181.0M181.0 90.1H209.0M209.0 90.1H216.0M216.0 94.6H220.0M220.0 90.1H232.0M232.0 92.9H237.0M237.0 96.3H249.0M262.0 94.6H276.0M276.0 90.8H280.0M280.0 90.1H320.0M320.0 92.6H333.0M339.0 93.6H344.0M164.5 128.3H170.0M176.0 125.8H193.0M200.0 129.3H205.0M216.0 128.8H232.0M237.0 131.3H245.0M254.0 129.3H280.0M280.0 129.3H288.0M290.0 129.8H305.0M320.0 126.3H333.0M164.5 164.3H180.0M181.0 166.8H188.0M188.0 168.3H196.0M196.0 168.8H199.0M199.0 172.3H208.0M210.0 165.3H215.0M220.0 169.3H228.0M232.0 165.3H240.0M255.0 166.8H262.0M264.0 167.8H280.0M280.0 168.3H288.0M288.0 170.3H305.0M305.0 166.8H317.0M317.0 170.3H320.0M320.0 165.3H333.0M333.0 165.3H344.0M164.5 207.5H176.0M176.0 206.5H181.0M181.0 203.5H185.0M185.0 204.0H193.0M193.0 205.0H200.0M200.0 206.5H210.0M210.0 203.5H232.0M237.0 205.0H248.0M255.0 208.0H262.0M262.0 209.0H270.0M272.0 208.0H280.0M280.0 208.5H305.0M305.0 204.6H316.0M317.0 208.0H322.0M322.0 206.0H335.0" stroke="#d02a48" stroke-width="0.6" fill="none" opacity="0.85" stroke-dasharray="4 0.7"/></svg>
</body></html>
